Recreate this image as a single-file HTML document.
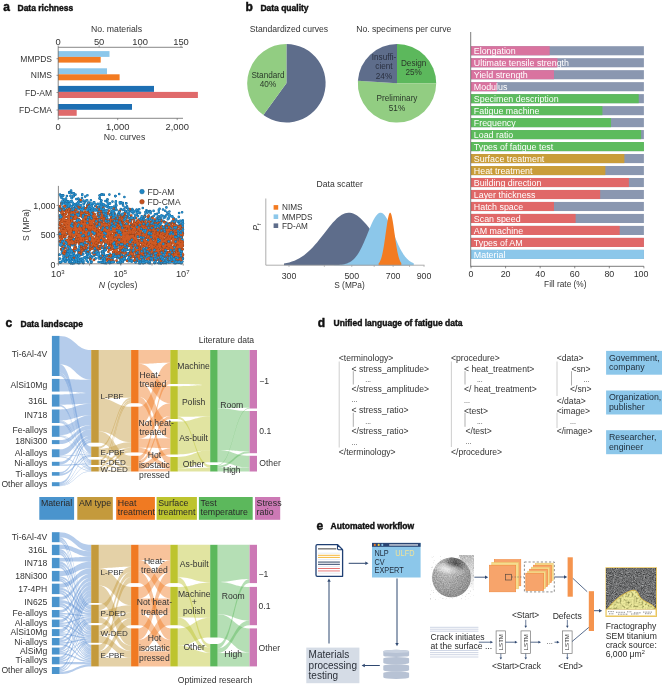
<!DOCTYPE html><html><head><meta charset="utf-8"><title>Fatigue data figure</title><style>html,body{margin:0;padding:0;background:#fff;}body{width:662px;height:685px;overflow:hidden;}svg{display:block;}</style></head><body><svg width="662" height="685" viewBox="0 0 662 685" font-family="'Liberation Sans', Arial, sans-serif"><text x="3.3" y="10.72" font-size="12" fill="#111" font-weight="bold" stroke="#111" stroke-width="0.45">a</text>
<text x="17.5" y="10.56" font-size="8.5" fill="#111" font-weight="bold" stroke="#111" stroke-width="0.4">Data richness</text>
<text x="245.5" y="11.12" font-size="12" fill="#111" font-weight="bold" stroke="#111" stroke-width="0.45">b</text>
<text x="260.4" y="10.56" font-size="8.5" fill="#111" font-weight="bold" stroke="#111" stroke-width="0.4">Data quality</text>
<text x="5.5" y="326.72" font-size="12" fill="#111" font-weight="bold" stroke="#111" stroke-width="0.45">c</text>
<text x="20.5" y="326.56" font-size="8.5" fill="#111" font-weight="bold" stroke="#111" stroke-width="0.4">Data landscape</text>
<text x="317.8" y="326.92" font-size="12" fill="#111" font-weight="bold" stroke="#111" stroke-width="0.45">d</text>
<text x="333.6" y="325.86" font-size="8.5" fill="#111" font-weight="bold" stroke="#111" stroke-width="0.4">Unified language of fatigue data</text>
<text x="316.5" y="530.32" font-size="12" fill="#111" font-weight="bold" stroke="#111" stroke-width="0.45">e</text>
<text x="330.6" y="529.36" font-size="8.5" fill="#111" font-weight="bold" stroke="#111" stroke-width="0.4">Automated workflow</text>
<rect x="58.2" y="51.1" width="51.3" height="5.8" fill="#8cc7ea"/>
<rect x="58.2" y="56.9" width="42.5" height="5.7" fill="#f37b21"/>
<text x="52" y="61.76" font-size="8.5" fill="#333" text-anchor="end">MMPDS</text>
<line x1="56.5" y1="58.7" x2="58.2" y2="58.7" stroke="#555" stroke-width="0.6"/>
<rect x="58.2" y="68.3" width="48.8" height="6" fill="#8cc7ea"/>
<rect x="58.2" y="74.3" width="61.4" height="6" fill="#f37b21"/>
<text x="52" y="78.36" font-size="8.5" fill="#333" text-anchor="end">NIMS</text>
<line x1="56.5" y1="75.3" x2="58.2" y2="75.3" stroke="#555" stroke-width="0.6"/>
<rect x="58.2" y="85.9" width="95.8" height="6" fill="#1d6fb3"/>
<rect x="58.2" y="91.9" width="139.7" height="6.1" fill="#e06a6b"/>
<text x="52" y="95.56" font-size="8.5" fill="#333" text-anchor="end">FD-AM</text>
<line x1="56.5" y1="92.5" x2="58.2" y2="92.5" stroke="#555" stroke-width="0.6"/>
<rect x="58.2" y="104" width="73.8" height="5.8" fill="#1d6fb3"/>
<rect x="58.2" y="109.8" width="18.5" height="6" fill="#e06a6b"/>
<text x="52" y="113.06" font-size="8.5" fill="#333" text-anchor="end">FD-CMA</text>
<line x1="56.5" y1="110" x2="58.2" y2="110" stroke="#555" stroke-width="0.6"/>
<line x1="58.2" y1="47.3" x2="183" y2="47.3" stroke="#555" stroke-width="0.7"/>
<line x1="58.2" y1="47.3" x2="58.2" y2="118.3" stroke="#555" stroke-width="0.7"/>
<line x1="58.2" y1="118.3" x2="183" y2="118.3" stroke="#555" stroke-width="0.7"/>
<line x1="58.2" y1="45.5" x2="58.2" y2="47.3" stroke="#555" stroke-width="0.6"/>
<text x="58.2" y="44.88" font-size="9.4" fill="#333" text-anchor="middle">0</text>
<line x1="99.13" y1="45.5" x2="99.13" y2="47.3" stroke="#555" stroke-width="0.6"/>
<text x="99.13" y="44.88" font-size="9.4" fill="#333" text-anchor="middle">50</text>
<line x1="140.07" y1="45.5" x2="140.07" y2="47.3" stroke="#555" stroke-width="0.6"/>
<text x="140.07" y="44.88" font-size="9.4" fill="#333" text-anchor="middle">100</text>
<line x1="181" y1="45.5" x2="181" y2="47.3" stroke="#555" stroke-width="0.6"/>
<text x="181" y="44.88" font-size="9.4" fill="#333" text-anchor="middle">150</text>
<line x1="58.2" y1="118.3" x2="58.2" y2="120.1" stroke="#555" stroke-width="0.6"/>
<text x="58.2" y="129.68" font-size="9.4" fill="#333" text-anchor="middle">0</text>
<line x1="117.7" y1="118.3" x2="117.7" y2="120.1" stroke="#555" stroke-width="0.6"/>
<text x="117.7" y="129.68" font-size="9.4" fill="#333" text-anchor="middle">1,000</text>
<line x1="177.2" y1="118.3" x2="177.2" y2="120.1" stroke="#555" stroke-width="0.6"/>
<text x="177.2" y="129.68" font-size="9.4" fill="#333" text-anchor="middle">2,000</text>
<text x="116.5" y="32.13" font-size="8.7" fill="#333" text-anchor="middle">No. materials</text>
<text x="124.5" y="139.63" font-size="8.7" fill="#333" text-anchor="middle">No. curves</text>
<path d="M174.5 247.3h0M100.0 248.5h0M174.6 243.1h0M77.5 262.8h0M179.4 261.6h0M104.4 239.8h0M92.8 212.0h0M118.5 225.5h0M122.4 250.4h0M104.0 233.6h0M160.6 222.5h0M151.3 259.0h0M138.5 212.7h0M116.8 232.7h0M66.2 210.0h0M178.6 256.1h0M179.5 249.4h0M154.1 252.7h0M155.7 243.3h0M179.0 223.3h0M112.6 213.0h0M143.0 262.1h0M182.9 258.2h0M94.3 202.4h0M112.8 211.1h0M78.5 248.7h0M140.8 241.3h0M67.5 233.8h0M77.5 203.4h0M147.5 219.4h0M82.1 260.5h0M135.3 214.9h0M176.3 227.0h0M167.7 255.7h0M70.2 215.0h0M144.8 262.7h0M171.1 260.0h0M129.1 212.6h0M116.1 254.8h0M177.9 255.7h0M93.6 252.9h0M102.7 241.5h0M84.9 238.6h0M115.5 225.2h0M172.0 252.5h0M114.2 210.4h0M66.9 229.3h0M88.1 262.1h0M105.9 220.8h0M153.9 242.3h0M117.9 225.3h0M108.8 248.8h0M114.9 256.4h0M98.8 231.3h0M131.7 226.4h0M115.3 209.7h0M127.3 244.3h0M137.8 248.5h0M175.9 228.4h0M136.3 247.1h0M135.4 244.9h0M103.7 255.2h0M147.1 246.6h0M122.7 210.0h0M166.0 250.6h0M142.6 262.3h0M147.3 226.5h0M89.5 240.3h0M166.1 223.7h0M115.0 249.8h0M65.9 254.3h0M75.2 222.7h0M69.4 250.9h0M138.0 251.3h0M68.9 261.9h0M138.0 232.6h0M156.2 259.0h0M85.5 227.7h0M107.3 215.9h0M83.1 232.7h0M105.2 246.5h0M131.7 261.7h0M107.8 203.8h0M182.7 220.2h0M129.2 257.6h0M69.6 202.0h0M109.4 259.6h0M140.3 254.5h0M163.9 263.0h0M154.7 231.9h0M150.6 226.6h0M78.4 259.2h0M70.9 263.1h0M101.6 206.8h0M79.8 223.7h0M101.0 202.4h0M83.2 215.4h0M147.3 227.1h0M160.7 229.0h0M127.7 235.9h0M91.9 257.2h0M75.3 244.9h0M153.7 216.0h0M114.4 215.3h0M122.8 203.1h0M83.7 212.9h0M79.7 241.7h0M167.3 257.8h0M82.1 243.9h0M152.8 221.9h0M86.3 224.4h0M100.9 202.0h0M145.4 254.4h0M150.8 255.9h0M87.3 204.9h0M85.2 236.0h0M159.7 220.5h0M138.5 235.6h0M131.0 226.6h0M123.6 257.5h0M119.4 256.4h0M123.4 209.6h0M119.4 251.8h0M74.8 216.7h0M136.7 209.8h0M79.4 253.0h0M97.6 250.9h0M122.8 257.1h0M105.5 245.8h0M137.0 259.6h0M81.8 207.7h0M82.8 228.1h0M144.8 251.6h0M166.2 223.2h0M149.4 220.0h0M107.8 204.9h0M77.6 219.7h0M114.2 227.2h0M182.2 232.2h0M120.0 214.6h0M68.6 260.3h0M62.7 207.2h0M135.8 260.8h0M106.8 221.4h0M119.4 211.8h0M173.9 260.6h0M97.0 232.0h0M173.8 255.5h0M178.3 262.2h0M98.0 230.1h0M66.8 250.7h0M99.0 258.5h0M143.4 230.4h0M124.7 213.7h0M66.9 196.0h0M143.7 221.8h0M165.1 217.1h0M122.2 258.0h0M128.4 227.8h0M110.1 226.4h0M67.0 255.9h0M82.6 208.4h0M124.5 217.5h0M102.0 206.9h0M72.0 251.2h0M135.6 256.5h0M111.4 211.2h0M148.0 246.8h0M148.9 255.7h0M103.9 253.4h0M86.4 247.8h0M179.6 261.9h0M151.9 228.0h0M167.7 237.4h0M81.1 205.2h0M87.2 200.2h0M173.9 258.5h0M168.9 230.3h0M176.8 243.3h0M82.2 194.9h0M92.8 232.3h0M89.8 246.0h0M171.1 222.7h0M62.8 259.1h0M81.8 210.1h0M154.6 254.4h0M65.8 254.9h0M138.5 212.3h0M155.6 256.0h0M139.8 226.6h0M172.5 237.4h0M152.4 229.6h0M106.7 255.4h0M78.9 228.7h0M161.7 231.8h0M87.4 195.2h0M181.6 251.6h0M146.5 244.3h0M103.1 255.2h0M168.0 228.1h0M174.2 221.7h0M117.3 222.9h0M110.0 220.0h0M64.5 240.2h0M114.3 242.6h0M122.1 214.5h0M120.9 258.5h0M143.2 223.3h0M155.3 261.5h0M78.4 209.1h0M142.0 259.8h0M81.4 224.3h0M158.1 225.9h0M136.8 256.4h0M137.0 243.6h0M160.1 240.5h0M176.7 237.3h0M62.1 251.5h0M155.6 259.9h0M119.5 214.8h0M148.1 240.1h0M71.5 201.5h0M71.9 201.2h0M144.7 258.3h0M113.0 225.5h0M103.6 209.5h0M93.8 202.3h0M110.7 207.7h0M105.7 233.7h0M152.8 224.6h0M159.4 218.2h0M101.1 229.1h0M115.4 196.1h0M68.9 256.7h0M133.0 210.3h0M72.7 202.7h0M155.4 227.2h0M115.9 204.4h0M143.7 257.8h0M145.8 238.0h0M115.9 256.2h0M108.9 222.4h0M120.3 226.0h0M70.6 221.3h0M118.7 232.4h0M102.2 208.1h0M179.7 231.8h0M79.7 255.6h0M102.1 262.4h0M99.5 212.6h0M142.1 220.2h0M174.9 250.0h0M122.3 227.9h0M133.0 260.7h0M62.3 208.6h0M147.1 259.8h0M122.7 260.9h0M114.9 213.7h0M115.5 208.6h0M132.6 245.0h0M130.4 242.1h0M90.0 246.3h0M127.2 222.0h0M146.6 252.5h0M144.6 216.7h0M88.3 253.9h0M60.0 245.1h0M131.9 236.8h0M149.4 232.6h0M137.5 212.9h0M88.6 222.6h0M98.8 253.6h0M161.5 230.6h0M161.8 232.9h0M78.6 252.8h0M83.4 200.6h0M80.5 209.2h0M87.4 244.3h0M87.4 207.5h0M92.8 209.5h0M83.3 245.3h0M76.1 259.9h0M99.2 239.6h0M155.1 226.6h0M154.1 250.3h0M143.1 254.4h0M109.6 207.3h0M73.0 203.6h0M104.2 232.9h0M123.0 220.4h0M177.9 232.6h0M65.3 261.3h0M85.7 250.6h0M101.7 251.9h0M172.9 261.9h0M169.0 237.4h0M157.6 220.6h0M97.7 213.5h0M137.4 222.3h0M119.0 219.3h0M114.5 220.9h0M181.4 263.1h0M103.3 260.4h0M173.2 237.6h0M69.9 256.4h0M122.3 216.0h0M137.6 258.2h0M70.6 201.3h0M179.1 262.2h0M110.8 246.1h0M162.6 232.0h0M113.3 222.1h0M86.9 256.4h0M147.1 227.7h0M107.3 213.3h0M93.5 219.5h0M82.1 210.2h0M76.4 261.8h0M165.2 210.7h0M120.4 232.0h0M73.1 214.9h0M181.5 244.1h0M147.1 248.7h0M91.6 261.7h0M160.8 257.1h0M100.2 215.2h0M125.7 233.2h0M68.9 256.3h0M99.5 220.2h0M81.2 202.0h0M114.8 213.5h0M141.5 220.9h0M173.4 259.7h0M180.2 220.7h0M87.6 255.3h0M160.6 228.4h0M143.5 248.7h0M128.0 227.2h0M153.6 221.2h0M97.2 238.9h0M111.7 262.3h0M123.5 222.3h0M86.7 260.7h0M152.7 257.8h0M175.2 236.9h0M113.2 237.5h0M86.4 259.2h0M166.1 245.7h0M104.9 260.0h0M66.1 228.2h0M126.9 244.8h0M82.5 249.3h0M73.7 253.2h0M137.1 243.3h0M143.8 258.3h0M91.5 207.5h0M179.8 250.9h0M141.1 223.0h0M78.6 208.7h0M71.0 260.5h0M158.3 257.7h0M103.4 260.3h0M108.3 259.6h0M80.5 258.7h0M124.7 258.4h0M143.2 226.0h0M118.1 213.8h0M67.4 204.1h0M73.7 239.3h0M154.5 252.8h0M137.0 215.2h0M161.1 223.4h0M141.3 228.7h0M170.4 262.3h0M111.1 255.9h0M117.7 238.8h0M81.4 225.9h0M84.1 251.1h0M169.4 211.5h0M181.8 261.4h0M141.0 257.2h0M137.6 210.8h0M181.2 263.2h0M107.4 258.8h0M125.6 211.1h0M72.8 253.8h0M75.9 247.1h0M67.2 206.1h0M140.9 237.4h0M135.1 260.2h0M67.2 226.9h0M102.3 223.7h0M137.8 236.6h0M148.2 226.6h0M115.0 252.9h0M114.1 211.0h0M78.3 215.7h0M86.8 250.2h0M113.4 261.5h0M175.7 254.4h0M112.4 261.8h0M78.9 238.0h0M101.8 255.2h0M137.0 251.6h0M107.4 199.6h0M156.2 229.3h0M169.5 246.4h0M83.9 244.6h0M142.0 257.5h0M84.1 257.6h0M124.4 197.0h0M149.8 224.0h0M159.8 240.5h0M177.5 234.6h0M150.8 255.1h0M136.2 255.8h0M182.8 226.2h0M105.7 242.4h0M146.3 234.2h0M181.8 239.4h0M158.0 230.1h0M122.9 252.8h0M122.0 240.3h0M169.8 214.7h0M164.9 252.8h0M66.6 207.7h0M118.8 256.9h0M101.9 258.1h0M102.5 258.6h0M157.2 222.1h0M134.3 261.0h0M124.1 238.6h0M129.9 241.8h0M86.0 227.5h0M160.2 261.4h0M175.5 263.1h0M178.0 230.8h0M63.4 199.0h0M156.8 229.2h0M75.1 231.3h0M112.7 218.0h0M86.7 258.4h0M82.3 253.6h0M158.5 236.7h0M137.0 227.1h0M100.8 209.0h0M100.8 262.2h0M84.5 212.6h0M123.3 258.9h0M83.0 233.3h0M148.4 240.3h0M112.4 207.5h0M141.4 218.7h0M177.6 236.8h0M97.3 232.5h0M101.2 218.3h0M173.0 234.0h0M131.9 252.2h0M91.7 205.8h0M137.4 257.5h0M99.5 213.6h0M63.2 216.1h0M120.5 249.5h0M152.1 225.3h0M176.6 261.8h0M160.6 263.3h0M164.6 242.0h0M106.1 210.3h0M175.6 241.6h0M99.7 211.5h0M67.2 251.4h0M70.5 250.1h0M76.6 207.6h0M69.7 192.8h0M159.1 224.2h0M132.3 209.0h0M103.8 213.4h0M145.1 216.2h0M147.5 234.3h0M168.9 262.3h0M62.6 248.8h0M137.8 233.1h0M127.0 206.4h0M156.8 217.8h0M116.9 220.9h0M61.0 211.5h0M137.0 253.8h0M132.6 212.6h0M107.4 228.1h0M60.3 219.2h0M174.4 263.1h0M70.5 209.2h0M102.9 209.7h0M92.7 247.4h0M176.7 256.5h0M103.8 215.6h0M69.1 203.5h0M66.8 255.0h0M150.7 255.2h0M121.7 249.5h0M68.5 254.7h0M157.4 259.2h0M172.3 216.3h0M97.5 230.3h0M154.6 249.8h0M128.3 254.1h0M74.4 249.6h0M180.4 261.8h0M116.2 205.5h0M109.6 203.7h0M123.7 248.2h0M180.9 233.2h0M83.3 263.0h0M120.1 220.3h0M173.6 236.2h0M120.6 226.1h0M171.4 256.3h0M159.9 226.3h0M179.4 262.8h0M64.8 200.1h0M167.4 261.7h0M73.1 245.2h0M99.4 204.1h0M179.4 226.0h0M69.4 247.3h0M101.9 221.2h0M89.4 202.7h0M171.0 216.1h0M120.5 224.0h0M127.2 225.3h0M91.6 212.6h0M162.2 220.9h0M120.4 261.8h0M100.9 212.9h0M66.0 198.5h0M78.6 260.5h0M109.0 261.8h0M67.7 259.8h0M90.2 203.9h0M138.2 239.7h0M163.5 260.2h0M146.8 227.8h0M130.0 209.7h0M180.9 234.1h0M115.9 223.7h0M99.8 205.2h0M89.7 250.6h0M88.6 235.9h0M178.2 235.3h0M71.1 222.0h0M159.9 260.8h0M151.3 250.1h0M102.6 251.4h0M121.2 221.9h0M89.4 233.5h0M147.3 233.4h0M163.2 254.6h0M169.6 243.0h0M68.8 237.3h0M111.9 255.3h0M78.5 201.9h0M123.8 242.9h0M133.2 249.9h0M133.5 218.9h0M182.8 258.8h0M89.3 242.8h0M179.1 213.0h0M182.5 240.0h0M109.1 247.7h0M169.1 241.1h0M165.3 225.5h0M97.9 203.8h0M70.4 259.1h0M118.8 232.3h0M140.0 212.7h0M138.8 252.6h0M126.8 249.9h0M156.0 248.6h0M170.0 247.9h0M153.2 233.8h0M91.7 207.2h0M79.7 205.1h0M119.2 194.0h0M123.0 261.7h0M98.4 207.0h0M59.6 207.9h0M65.5 207.1h0M100.7 238.4h0M133.2 210.9h0M93.6 215.1h0M90.7 236.0h0M108.6 261.1h0M169.5 257.7h0M155.5 223.4h0M117.7 223.1h0M117.5 215.6h0M114.8 245.9h0M111.8 228.9h0M99.0 255.4h0M112.3 258.4h0M78.3 198.8h0M97.4 254.1h0M177.0 257.4h0M139.2 209.3h0M81.0 232.8h0M133.0 255.0h0M128.4 222.0h0M63.8 216.8h0M114.0 217.2h0M121.3 234.2h0M107.0 228.9h0M181.2 261.6h0M141.8 240.5h0M102.8 262.6h0M109.3 236.0h0M75.1 250.6h0M103.1 227.9h0M110.0 203.4h0M63.9 248.2h0M152.9 234.5h0M158.6 263.0h0M117.8 243.1h0M120.0 203.4h0M62.7 202.8h0M89.8 239.6h0M177.9 231.1h0M143.2 263.2h0M67.8 240.0h0M125.9 216.6h0M142.3 252.1h0M179.0 237.6h0M139.9 213.1h0M85.0 202.1h0M76.5 215.8h0M178.6 255.7h0M127.8 217.3h0M145.7 230.0h0M160.7 218.1h0M104.1 261.9h0M113.3 215.2h0M66.6 243.6h0M157.9 220.0h0M175.4 240.8h0M167.3 243.6h0M119.9 222.1h0M130.1 251.6h0M127.7 243.5h0M77.9 254.6h0M145.6 230.6h0M155.4 241.3h0M72.3 214.7h0M68.5 219.1h0M74.1 261.5h0M83.6 203.8h0M118.2 215.5h0M134.8 217.6h0M153.3 220.8h0M119.9 254.3h0M135.0 243.2h0M129.9 225.7h0M146.7 256.8h0M136.6 258.3h0M111.0 220.8h0M108.6 207.6h0M161.4 263.1h0M78.0 207.5h0M61.8 234.3h0M109.4 194.6h0M151.2 233.7h0M163.3 255.1h0M85.2 196.6h0M71.9 198.2h0M115.8 208.4h0M163.9 221.4h0M68.0 201.3h0M100.7 236.8h0M151.5 255.3h0M100.1 258.6h0M141.7 216.4h0M110.4 255.6h0M114.5 245.7h0M110.9 213.4h0M171.4 229.1h0M90.9 207.9h0M156.6 221.2h0M177.8 237.6h0M100.6 246.0h0M112.4 259.8h0M126.2 203.3h0M89.5 215.6h0M148.6 225.7h0M72.6 217.9h0M113.4 243.7h0M69.5 192.0h0M124.6 251.2h0M150.9 227.7h0M90.3 211.9h0M78.5 204.2h0M119.4 221.9h0M94.4 259.6h0M164.7 231.5h0M120.6 260.1h0M89.8 254.1h0M81.0 254.0h0M63.7 203.0h0M170.8 256.2h0M105.7 242.7h0M113.2 216.7h0M69.4 204.8h0M96.5 252.8h0M65.2 256.2h0M142.0 234.6h0M165.0 262.4h0M155.0 259.4h0M180.4 262.7h0M78.6 262.6h0M68.3 205.7h0M109.1 221.7h0M150.0 259.8h0M151.2 260.0h0M89.0 232.9h0M173.0 252.4h0M105.8 214.0h0M109.0 255.0h0M164.3 229.6h0M119.9 231.4h0M74.6 210.0h0M141.1 256.0h0M88.8 206.8h0M129.2 253.1h0M124.6 226.4h0M180.7 261.6h0M180.9 253.5h0M70.0 251.2h0M110.4 259.5h0M110.1 256.4h0M84.9 242.6h0M140.5 219.6h0M144.4 242.1h0M117.4 258.3h0M152.4 222.6h0M131.0 217.0h0M60.7 236.2h0M143.6 256.8h0M137.9 216.0h0M121.5 229.5h0M133.0 213.3h0M113.3 221.9h0M96.2 221.2h0M115.7 202.2h0M76.2 259.4h0M91.8 247.6h0M124.0 219.9h0M180.1 253.2h0M78.0 205.6h0M148.5 263.0h0M147.4 211.0h0M179.4 252.5h0M124.9 259.6h0M79.4 213.4h0M113.1 257.4h0M128.2 235.2h0M157.4 219.8h0M71.3 262.8h0M125.9 255.5h0M113.5 254.9h0M103.6 217.5h0M175.6 258.4h0M151.0 258.7h0M120.7 246.2h0M176.5 249.2h0M158.8 212.4h0M148.6 227.9h0M152.4 260.1h0M153.8 243.3h0M98.7 252.6h0M104.5 258.8h0M178.8 216.9h0M153.6 233.3h0M149.4 217.4h0M118.8 214.4h0M147.9 222.5h0M89.8 247.4h0M72.8 203.1h0M106.8 217.9h0M80.8 211.4h0M97.0 248.7h0M95.0 242.6h0M89.8 238.0h0M76.3 240.4h0M116.0 215.5h0M75.8 257.5h0M65.4 261.7h0M63.3 201.6h0M83.8 208.9h0M175.5 237.9h0M151.1 237.1h0M162.5 221.0h0M137.0 242.1h0M107.5 210.2h0M69.6 258.0h0M61.4 210.2h0M167.3 259.0h0M181.9 262.1h0M78.4 262.6h0M83.5 260.9h0M159.0 237.5h0M76.4 237.2h0M81.0 259.5h0M95.7 258.4h0M137.2 224.3h0M82.3 241.8h0M73.6 193.3h0M182.0 256.5h0M178.0 248.0h0M93.5 210.0h0M147.5 251.5h0M177.2 248.7h0M182.1 244.6h0M129.9 235.1h0M102.6 253.3h0M164.5 229.5h0M85.3 242.0h0M93.5 224.2h0M182.9 229.2h0M73.1 203.8h0M124.2 213.2h0M152.4 251.6h0M60.3 215.2h0M110.6 260.6h0M118.7 245.0h0M134.3 235.2h0M73.2 208.8h0M123.1 205.4h0M113.8 214.6h0M115.8 236.8h0M182.2 223.9h0M120.6 256.9h0M123.8 218.7h0M105.4 201.0h0M113.1 212.9h0M177.1 259.9h0M161.5 215.2h0M166.6 232.3h0M65.8 203.7h0M128.3 261.2h0M175.8 252.0h0M144.3 262.1h0M82.9 217.1h0M80.7 251.3h0M73.0 254.8h0M163.7 217.8h0M98.9 217.1h0M109.2 244.3h0M135.3 258.4h0M138.2 250.5h0M79.1 255.0h0M76.3 255.6h0M115.1 218.3h0M154.8 260.9h0M60.0 233.9h0M180.2 259.6h0M133.9 251.2h0M90.2 226.1h0M97.5 251.5h0M90.2 259.7h0M181.8 249.8h0M167.9 248.1h0M178.5 233.2h0M149.0 251.2h0M97.0 221.8h0M98.6 255.7h0M77.0 214.2h0M174.5 261.7h0M83.3 228.7h0M168.7 218.5h0M100.8 256.2h0M131.7 218.1h0M103.7 232.2h0M126.8 221.1h0M131.8 211.5h0M147.8 242.6h0M133.7 224.2h0M182.0 236.3h0M80.8 244.1h0M104.2 263.0h0M85.6 214.3h0M169.2 259.8h0M145.8 261.5h0M98.1 215.4h0M94.7 250.5h0M72.3 220.1h0M71.1 225.6h0M162.5 254.8h0M75.3 204.0h0M179.7 225.6h0M74.4 255.7h0M160.1 261.8h0M83.8 242.4h0M120.8 209.0h0M86.2 229.5h0M159.2 219.5h0M90.9 200.2h0M174.9 236.7h0M61.0 195.4h0M138.4 212.2h0M181.3 261.3h0M116.8 228.5h0M59.4 254.7h0M162.1 259.7h0M95.2 221.0h0M71.7 239.1h0M147.4 212.4h0M97.2 254.1h0M150.9 252.9h0M66.0 200.6h0M169.3 254.4h0M82.0 258.5h0M102.4 252.5h0M174.2 231.9h0M180.9 233.0h0M106.3 210.8h0M139.2 262.0h0M155.0 214.2h0M106.9 227.5h0M140.6 241.0h0M79.2 212.8h0M130.1 257.8h0M71.0 250.9h0M70.2 238.8h0M152.0 219.7h0M60.0 224.7h0M88.5 234.5h0M146.5 228.1h0M164.0 216.9h0M66.2 200.3h0M144.9 232.2h0M179.5 255.9h0M176.4 225.5h0M156.9 230.0h0M101.7 194.4h0M60.8 196.6h0M76.5 225.3h0M159.7 223.8h0M60.2 210.2h0M83.3 247.8h0M70.5 195.9h0M90.8 213.5h0M83.1 254.1h0M95.7 209.7h0M144.4 255.1h0M75.4 256.0h0M105.7 244.6h0M95.6 253.6h0M103.4 211.4h0M149.1 217.5h0M163.1 227.2h0M110.4 215.4h0M140.6 219.2h0M162.3 259.5h0M131.1 260.3h0M155.7 250.5h0M60.3 222.3h0M78.9 254.9h0M156.0 224.7h0M127.1 212.5h0M153.1 232.6h0M131.5 241.7h0M113.0 215.4h0M59.6 258.9h0M91.1 243.2h0M126.8 224.8h0M158.2 241.7h0M174.9 223.3h0M155.0 220.7h0M96.6 252.9h0M111.9 223.4h0M121.4 254.7h0M106.2 259.8h0M72.0 210.1h0M92.5 208.1h0M173.8 250.4h0M176.9 248.0h0M79.3 250.6h0M149.4 253.0h0M119.7 261.9h0M176.1 219.5h0M92.3 214.1h0M73.8 232.4h0M102.3 209.7h0M99.0 258.0h0M81.0 250.8h0M63.1 195.4h0M88.6 247.9h0M152.4 239.2h0M96.5 234.1h0M78.6 256.3h0M67.0 210.0h0M93.7 255.9h0M98.9 232.0h0M105.8 220.9h0M91.8 217.3h0M81.5 250.2h0M107.5 218.5h0M166.8 227.6h0M177.5 221.6h0M65.1 237.8h0M149.9 211.1h0M96.9 226.4h0M182.5 230.5h0M60.1 244.3h0M126.2 236.8h0M105.4 214.7h0M63.9 215.3h0M142.8 208.0h0M112.5 213.3h0M162.7 257.6h0M151.0 237.8h0M115.0 231.2h0M163.0 253.5h0M174.1 250.3h0M151.1 240.5h0M140.3 263.3h0M166.6 224.1h0M94.3 209.0h0M76.9 203.9h0M170.7 226.8h0M162.1 247.3h0M143.4 237.8h0M62.6 226.9h0M82.3 194.3h0M84.6 221.1h0M150.4 211.6h0M158.5 248.7h0M98.8 214.4h0M128.7 244.7h0M134.8 217.9h0M61.3 243.0h0M124.8 257.0h0M131.3 228.5h0M163.3 243.9h0M90.1 204.4h0M65.6 260.3h0M130.9 239.3h0M175.3 262.2h0M145.4 212.1h0M97.7 229.3h0M83.8 206.7h0M72.2 193.0h0M71.1 227.2h0M182.1 212.3h0M61.9 261.3h0M168.7 241.5h0M142.1 234.4h0M135.9 238.9h0M169.2 223.7h0M60.7 262.2h0M176.4 254.0h0M88.3 218.2h0M103.4 220.7h0M78.6 224.6h0M171.8 226.9h0M95.5 254.9h0M168.2 229.6h0M67.1 204.0h0M87.6 209.9h0M124.0 214.3h0M98.6 258.0h0M174.3 227.5h0M175.2 232.3h0M167.8 219.3h0M147.8 223.6h0M114.9 226.4h0M70.6 195.9h0M113.9 223.0h0M161.0 261.7h0M101.2 240.3h0M95.0 206.0h0M65.3 252.1h0M176.7 257.8h0M65.8 242.3h0M178.6 262.3h0M79.5 205.5h0M75.4 258.9h0M182.7 221.5h0M168.1 258.0h0M64.2 202.8h0M91.2 234.6h0M68.6 206.3h0M180.7 260.2h0M178.7 259.8h0M61.4 202.8h0M99.7 198.4h0M61.9 201.9h0M131.0 256.3h0M166.6 222.7h0M147.9 255.7h0M149.8 218.7h0M130.1 235.7h0M161.7 240.6h0M96.1 252.2h0M76.1 242.0h0M70.6 215.6h0M71.8 232.4h0M139.8 225.0h0M172.2 229.9h0M173.6 218.0h0M72.7 254.5h0M72.2 223.5h0M175.7 227.2h0M154.1 235.6h0M162.4 226.3h0M89.8 210.9h0M97.9 246.8h0M163.7 254.6h0M159.3 231.2h0M61.9 204.2h0M87.7 251.4h0M105.8 249.9h0M159.8 247.8h0M74.2 263.0h0M69.6 262.5h0M147.2 256.2h0M97.9 210.2h0M108.5 221.3h0M114.3 227.4h0M170.1 258.3h0M111.2 238.6h0M71.2 218.0h0M69.9 238.9h0M171.2 233.5h0M142.9 220.1h0M88.6 202.9h0M91.5 221.3h0M140.8 232.8h0M63.3 210.3h0M73.7 208.6h0M74.9 216.5h0M139.9 262.4h0M157.7 244.3h0M172.0 257.8h0M131.2 224.0h0M162.6 235.0h0M82.0 240.4h0M119.1 239.8h0M63.0 260.7h0M172.5 216.8h0M172.6 261.1h0M73.4 196.2h0M101.7 235.8h0M71.1 245.0h0M168.6 217.7h0M91.2 262.4h0M86.1 209.0h0M167.9 229.9h0M158.3 237.6h0M128.2 209.4h0M171.2 235.6h0M136.3 248.6h0M169.8 255.4h0M148.7 233.4h0M127.7 215.1h0M91.7 213.2h0M73.7 252.5h0M75.5 206.7h0M175.6 255.1h0M103.3 213.8h0M71.5 198.1h0M110.9 229.3h0M84.2 230.7h0M127.3 260.3h0M82.0 198.0h0M177.7 258.1h0M124.6 216.7h0M160.6 216.1h0M111.3 246.5h0M154.9 253.7h0M170.5 247.9h0M80.2 229.0h0M85.4 215.4h0M175.9 227.8h0M130.8 219.2h0M81.6 238.9h0M81.3 212.4h0M101.3 200.5h0M129.9 241.1h0M105.1 232.8h0M95.9 204.6h0M67.9 253.7h0M163.1 220.8h0M131.8 257.1h0M86.1 209.3h0M131.8 239.8h0M167.2 257.8h0M109.1 244.3h0M139.6 221.7h0M143.6 223.9h0M105.2 217.2h0M102.1 221.4h0M103.2 206.0h0M88.4 217.4h0M90.3 236.9h0M59.8 241.4h0M154.0 224.0h0M143.0 259.7h0M111.2 217.5h0M81.4 246.9h0M122.5 213.8h0M69.2 204.7h0M155.3 262.7h0M115.2 255.6h0M179.4 225.9h0M82.5 236.1h0M170.0 234.6h0M142.0 260.8h0M124.7 225.0h0M113.4 214.7h0M162.4 241.0h0M121.3 203.2h0M113.6 249.0h0M102.2 247.8h0M71.8 208.9h0M178.1 239.5h0M95.7 223.7h0M74.3 205.2h0M106.6 215.1h0M78.2 258.5h0M134.3 226.4h0M115.0 247.9h0M124.2 213.4h0M88.1 226.2h0M135.7 211.2h0M165.5 250.0h0M113.1 253.3h0M152.5 254.5h0M79.3 246.4h0M178.7 235.9h0M114.0 206.5h0M171.3 256.4h0M81.1 210.3h0M110.6 214.8h0M159.4 260.0h0M88.5 218.1h0M62.1 244.3h0M69.2 192.5h0M152.4 259.6h0M84.6 220.1h0M117.8 254.2h0M113.1 210.5h0M171.0 253.3h0M164.2 256.5h0M85.1 214.3h0M143.8 230.6h0M143.0 221.1h0M102.4 215.3h0M98.6 222.8h0M163.0 257.7h0M66.8 205.6h0M95.1 250.0h0M144.0 260.6h0M117.5 218.1h0M150.6 213.2h0M71.5 256.4h0M166.2 261.5h0M99.5 225.0h0M107.3 210.1h0M118.9 212.1h0M139.4 219.1h0M104.4 261.2h0M122.3 253.3h0M83.8 204.0h0M180.2 236.6h0M125.0 249.9h0M164.2 240.8h0M91.1 258.3h0M95.1 210.4h0M136.9 258.9h0M169.4 216.2h0M84.9 250.4h0M158.3 235.4h0M104.2 262.4h0M157.7 223.8h0M136.3 254.0h0M172.4 221.2h0M66.6 201.3h0M180.4 229.1h0M74.2 226.2h0M111.6 207.3h0M155.1 226.9h0M149.4 221.0h0M81.9 250.5h0M182.4 261.5h0M87.4 223.1h0M137.4 240.7h0M100.4 258.6h0M135.7 224.8h0M78.7 214.5h0M72.7 253.1h0M159.3 261.6h0M144.8 224.2h0M121.1 234.8h0M89.6 247.0h0M69.5 258.1h0M78.8 263.2h0M120.8 244.3h0M108.8 242.9h0M155.7 260.4h0M105.9 226.8h0M127.7 253.7h0M87.0 208.3h0M178.0 250.4h0M86.2 229.3h0M68.1 246.4h0M147.5 228.3h0M168.7 259.4h0M87.4 212.6h0M94.5 233.2h0M130.6 240.8h0M104.0 241.3h0M114.2 225.4h0M161.0 256.0h0M166.5 261.9h0M146.4 210.4h0M121.6 250.7h0M103.6 254.1h0M166.0 262.0h0M160.4 257.9h0M91.4 203.5h0M140.6 262.1h0M64.7 258.3h0M153.6 210.9h0M109.5 257.5h0M104.5 236.5h0M118.1 225.4h0M139.5 262.3h0M180.5 223.6h0M136.9 247.8h0M115.9 218.5h0M63.3 244.6h0M157.4 255.3h0M127.0 247.1h0M140.8 218.8h0M83.1 258.9h0M60.0 194.6h0M154.9 258.2h0M104.6 234.6h0M139.8 260.8h0M62.8 210.0h0M147.0 261.2h0M124.9 207.5h0M120.8 253.6h0M140.4 262.6h0M104.3 262.7h0M165.1 225.9h0M116.2 205.2h0M89.6 253.3h0M149.8 261.3h0M103.9 249.0h0M60.0 262.4h0M107.8 205.8h0M94.8 248.4h0M144.6 245.6h0M131.2 260.0h0M120.6 263.1h0M120.4 232.5h0M103.5 208.7h0M89.3 208.9h0M166.3 225.1h0M146.5 248.1h0M182.3 239.3h0M74.8 245.6h0M113.9 231.6h0M90.8 216.8h0M109.1 262.6h0M105.1 211.7h0M102.9 214.3h0M181.1 237.2h0M143.1 216.8h0M152.9 227.1h0M120.7 253.8h0M99.3 223.9h0M166.4 207.4h0M61.2 245.7h0M120.0 258.8h0M144.8 250.3h0M118.2 262.5h0M70.3 211.8h0M86.0 227.6h0M131.5 217.5h0M166.3 215.3h0M134.1 211.7h0M97.8 251.4h0M81.5 244.3h0M182.7 231.6h0M179.4 221.1h0M177.7 226.2h0M61.4 216.7h0M154.6 250.2h0M156.8 225.3h0M158.3 243.7h0M77.7 226.2h0M141.1 218.2h0M77.3 206.3h0M128.4 240.5h0M94.1 233.8h0M139.3 254.7h0M164.2 230.7h0M178.3 262.8h0M182.9 223.4h0M65.2 238.0h0M129.4 245.8h0M115.5 231.2h0M73.8 196.1h0M158.4 216.4h0M143.3 249.4h0M151.2 230.8h0M132.3 218.1h0M90.3 213.3h0M131.5 250.6h0M128.9 256.2h0M79.4 220.2h0M129.1 213.6h0M99.9 203.9h0M86.5 200.4h0M63.7 256.7h0M119.8 202.2h0M164.6 231.6h0M118.3 229.5h0M174.5 259.8h0M162.7 250.9h0M171.9 234.7h0M63.3 202.2h0M121.0 202.6h0M90.5 210.8h0M145.3 244.3h0M61.9 252.6h0M77.0 221.1h0M62.6 254.3h0M89.1 257.8h0M127.1 243.5h0M91.2 213.8h0M158.7 236.4h0M90.2 256.9h0M75.8 209.0h0M67.9 251.3h0M70.6 240.2h0M163.4 216.0h0M171.7 259.6h0M87.6 219.6h0M60.6 262.6h0M69.3 252.4h0M170.1 238.5h0M73.1 209.8h0M174.3 219.4h0M178.7 258.2h0M106.2 263.2h0M138.8 260.8h0M167.1 212.5h0M139.0 258.5h0M100.1 232.0h0M63.8 209.4h0M62.0 214.1h0M118.0 242.8h0M171.9 233.5h0M117.0 230.5h0M159.3 220.8h0M75.4 210.7h0M140.1 223.6h0M128.4 259.1h0M129.7 210.5h0M147.6 221.1h0M161.9 262.6h0M169.9 234.0h0M135.4 250.2h0M114.1 242.5h0M117.3 262.2h0M118.2 255.8h0M130.1 253.3h0M128.5 258.6h0M147.1 224.3h0M169.5 259.2h0M67.5 249.5h0M103.6 204.2h0M160.2 243.6h0M144.1 219.6h0M117.9 262.6h0M141.5 251.8h0M129.7 236.9h0M91.5 218.5h0M72.7 258.9h0M111.1 213.9h0M174.5 226.5h0M171.3 232.4h0M101.1 223.6h0M178.2 261.1h0M81.7 254.8h0M99.7 195.5h0M60.6 244.2h0M181.6 231.6h0M71.5 215.9h0M111.3 226.8h0M144.8 241.6h0M123.4 259.6h0M99.5 209.9h0M159.1 263.0h0M65.7 258.0h0M97.6 254.7h0M121.1 224.1h0M82.4 209.2h0M146.3 260.6h0M116.6 209.9h0M105.4 213.2h0M101.8 230.0h0M92.8 208.7h0M171.1 257.7h0M115.3 224.8h0M142.9 260.7h0M89.2 205.1h0M80.6 262.2h0M101.2 261.8h0M101.9 203.9h0M113.2 228.3h0M115.8 254.4h0M98.9 254.0h0M159.1 218.2h0M76.1 261.7h0M102.0 215.3h0M159.0 228.6h0M121.3 225.1h0M165.0 245.3h0M65.5 257.0h0M111.6 244.0h0M169.1 224.7h0M109.9 253.9h0M98.6 262.0h0M100.6 206.8h0M62.3 241.4h0M176.3 259.3h0M172.2 254.8h0M180.8 259.1h0M73.6 259.9h0M152.1 217.0h0M105.1 205.6h0M79.4 262.7h0M116.0 235.1h0M147.8 241.1h0M170.3 225.2h0M62.0 201.5h0M60.4 217.4h0M96.2 236.4h0M86.3 253.0h0M68.9 206.9h0M83.6 235.3h0M145.8 229.1h0M80.4 225.4h0M79.3 200.3h0M159.6 224.3h0M61.5 249.7h0M142.6 251.5h0M124.9 258.7h0M181.0 255.6h0M138.9 263.1h0M67.1 240.8h0M136.3 248.6h0M70.1 248.9h0M129.1 256.7h0M123.3 215.9h0M62.5 217.6h0M170.9 250.0h0M61.6 198.0h0M99.5 215.6h0M168.8 262.5h0M161.6 252.6h0M71.0 258.1h0M101.5 211.7h0M86.4 231.2h0M156.8 214.0h0M135.3 262.3h0M87.3 254.2h0M78.7 249.2h0M85.0 257.2h0M150.0 263.3h0M110.7 208.4h0M107.4 201.9h0M77.7 250.2h0M157.3 252.5h0M175.6 228.6h0M80.7 206.6h0M166.0 258.8h0M69.1 258.8h0M112.5 201.6h0M153.1 259.0h0M125.3 218.7h0M123.4 214.2h0M137.0 221.8h0M63.0 219.4h0M164.1 255.1h0M182.9 233.3h0M117.7 229.0h0M165.6 239.2h0M126.5 223.7h0M71.1 206.5h0M59.8 258.5h0M77.7 257.4h0M113.6 261.9h0M180.9 224.6h0M142.0 222.0h0M137.7 260.8h0M103.8 194.8h0M73.2 256.3h0M160.7 219.1h0M175.8 263.1h0M122.3 244.3h0M99.3 210.8h0M174.0 220.7h0M123.2 256.0h0M154.6 262.9h0M90.9 256.1h0M158.8 209.9h0M93.1 203.8h0M131.0 218.1h0M129.1 218.3h0M160.1 218.4h0M154.1 230.9h0M156.1 253.2h0M176.5 260.4h0M163.8 234.5h0M132.8 254.8h0M129.6 250.0h0M168.6 214.3h0M150.4 235.4h0M176.4 236.6h0M108.5 207.3h0M165.9 242.0h0M122.5 233.4h0M92.2 209.0h0M147.0 225.1h0M158.9 258.9h0M122.2 225.3h0M147.2 228.2h0M105.2 249.3h0M65.8 213.6h0M130.1 260.9h0M180.0 237.4h0M151.4 223.5h0M69.8 257.8h0M152.2 225.4h0M99.4 248.7h0M72.7 263.3h0M176.9 248.6h0M166.1 263.1h0M65.6 205.6h0M97.3 209.5h0M105.4 211.5h0M118.0 242.0h0M165.6 257.7h0M176.0 257.3h0M125.1 210.7h0M63.8 253.5h0M160.1 256.2h0M137.3 212.5h0M143.3 218.1h0M89.6 232.9h0M89.4 227.9h0M72.3 226.5h0M135.6 262.4h0M78.5 252.3h0M133.1 247.1h0M121.6 254.8h0M76.3 199.1h0M71.1 190.6h0M159.0 235.6h0M125.0 245.7h0M169.4 237.8h0M92.0 209.7h0M108.0 262.0h0M103.4 208.8h0M115.9 201.2h0M62.2 195.5h0M161.4 231.7h0M117.1 247.3h0M104.4 251.0h0M129.0 215.1h0M122.1 249.7h0M166.2 260.5h0M140.5 247.0h0M145.1 214.5h0M74.5 255.8h0M119.1 230.8h0M151.8 253.3h0M62.4 253.6h0M136.8 221.1h0M130.0 220.9h0M180.1 262.6h0M159.6 208.8h0M106.5 206.6h0M136.6 253.1h0M90.4 204.7h0M164.3 228.0h0M101.2 258.2h0M148.0 223.7h0M97.5 210.7h0M65.7 253.4h0M112.7 220.1h0M91.5 214.3h0M150.5 211.9h0M98.8 255.2h0M150.7 258.6h0M141.7 251.3h0M158.1 239.5h0M170.5 223.9h0M63.1 261.1h0M87.7 253.5h0M147.7 244.0h0M121.1 216.3h0M126.8 216.7h0M158.2 239.3h0M122.7 222.3h0M109.9 248.1h0M109.8 263.1h0M92.4 231.8h0M71.9 206.1h0M174.4 248.4h0M115.1 223.8h0M65.1 246.1h0M98.8 246.0h0M103.6 255.7h0M179.1 251.3h0M76.3 256.8h0M163.0 209.5h0M88.4 217.0h0M91.6 211.7h0M114.6 226.6h0M155.0 262.0h0M134.5 256.7h0M70.1 253.5h0M127.2 207.7h0M119.5 242.2h0M145.0 257.5h0M128.6 230.6h0M104.7 256.5h0M75.5 194.6h0M100.6 256.8h0M87.1 255.6h0M121.5 260.0h0M132.6 218.9h0M70.8 261.5h0M181.4 225.6h0M161.8 259.0h0M77.5 209.3h0M78.3 215.2h0" stroke="#16699f" stroke-width="2.6" stroke-linecap="round" fill="none"/>
<path d="M174.5 247.3h0M100.0 248.5h0M174.6 243.1h0M77.5 262.8h0M179.4 261.6h0M104.4 239.8h0M92.8 212.0h0M118.5 225.5h0M122.4 250.4h0M104.0 233.6h0M160.6 222.5h0M151.3 259.0h0M138.5 212.7h0M116.8 232.7h0M66.2 210.0h0M178.6 256.1h0M179.5 249.4h0M154.1 252.7h0M155.7 243.3h0M179.0 223.3h0M112.6 213.0h0M143.0 262.1h0M182.9 258.2h0M94.3 202.4h0M112.8 211.1h0M78.5 248.7h0M140.8 241.3h0M67.5 233.8h0M77.5 203.4h0M147.5 219.4h0M82.1 260.5h0M135.3 214.9h0M176.3 227.0h0M167.7 255.7h0M70.2 215.0h0M144.8 262.7h0M171.1 260.0h0M129.1 212.6h0M116.1 254.8h0M177.9 255.7h0M93.6 252.9h0M102.7 241.5h0M84.9 238.6h0M115.5 225.2h0M172.0 252.5h0M114.2 210.4h0M66.9 229.3h0M88.1 262.1h0M105.9 220.8h0M153.9 242.3h0M117.9 225.3h0M108.8 248.8h0M114.9 256.4h0M98.8 231.3h0M131.7 226.4h0M115.3 209.7h0M127.3 244.3h0M137.8 248.5h0M175.9 228.4h0M136.3 247.1h0M135.4 244.9h0M103.7 255.2h0M147.1 246.6h0M122.7 210.0h0M166.0 250.6h0M142.6 262.3h0M147.3 226.5h0M89.5 240.3h0M166.1 223.7h0M115.0 249.8h0M65.9 254.3h0M75.2 222.7h0M69.4 250.9h0M138.0 251.3h0M68.9 261.9h0M138.0 232.6h0M156.2 259.0h0M85.5 227.7h0M107.3 215.9h0M83.1 232.7h0M105.2 246.5h0M131.7 261.7h0M107.8 203.8h0M182.7 220.2h0M129.2 257.6h0M69.6 202.0h0M109.4 259.6h0M140.3 254.5h0M163.9 263.0h0M154.7 231.9h0M150.6 226.6h0M78.4 259.2h0M70.9 263.1h0M101.6 206.8h0M79.8 223.7h0M101.0 202.4h0M83.2 215.4h0M147.3 227.1h0M160.7 229.0h0M127.7 235.9h0M91.9 257.2h0M75.3 244.9h0M153.7 216.0h0M114.4 215.3h0M122.8 203.1h0M83.7 212.9h0M79.7 241.7h0M167.3 257.8h0M82.1 243.9h0M152.8 221.9h0M86.3 224.4h0M100.9 202.0h0M145.4 254.4h0M150.8 255.9h0M87.3 204.9h0M85.2 236.0h0M159.7 220.5h0M138.5 235.6h0M131.0 226.6h0M123.6 257.5h0M119.4 256.4h0M123.4 209.6h0M119.4 251.8h0M74.8 216.7h0M136.7 209.8h0M79.4 253.0h0M97.6 250.9h0M122.8 257.1h0M105.5 245.8h0M137.0 259.6h0M81.8 207.7h0M82.8 228.1h0M144.8 251.6h0M166.2 223.2h0M149.4 220.0h0M107.8 204.9h0M77.6 219.7h0M114.2 227.2h0M182.2 232.2h0M120.0 214.6h0M68.6 260.3h0M62.7 207.2h0M135.8 260.8h0M106.8 221.4h0M119.4 211.8h0M173.9 260.6h0M97.0 232.0h0M173.8 255.5h0M178.3 262.2h0M98.0 230.1h0M66.8 250.7h0M99.0 258.5h0M143.4 230.4h0M124.7 213.7h0M66.9 196.0h0M143.7 221.8h0M165.1 217.1h0M122.2 258.0h0M128.4 227.8h0M110.1 226.4h0M67.0 255.9h0M82.6 208.4h0M124.5 217.5h0M102.0 206.9h0M72.0 251.2h0M135.6 256.5h0M111.4 211.2h0M148.0 246.8h0M148.9 255.7h0M103.9 253.4h0M86.4 247.8h0M179.6 261.9h0M151.9 228.0h0M167.7 237.4h0M81.1 205.2h0M87.2 200.2h0M173.9 258.5h0M168.9 230.3h0M176.8 243.3h0M82.2 194.9h0M92.8 232.3h0M89.8 246.0h0M171.1 222.7h0M62.8 259.1h0M81.8 210.1h0M154.6 254.4h0M65.8 254.9h0M138.5 212.3h0M155.6 256.0h0M139.8 226.6h0M172.5 237.4h0M152.4 229.6h0M106.7 255.4h0M78.9 228.7h0M161.7 231.8h0M87.4 195.2h0M181.6 251.6h0M146.5 244.3h0M103.1 255.2h0M168.0 228.1h0M174.2 221.7h0M117.3 222.9h0M110.0 220.0h0M64.5 240.2h0M114.3 242.6h0M122.1 214.5h0M120.9 258.5h0M143.2 223.3h0M155.3 261.5h0M78.4 209.1h0M142.0 259.8h0M81.4 224.3h0M158.1 225.9h0M136.8 256.4h0M137.0 243.6h0M160.1 240.5h0M176.7 237.3h0M62.1 251.5h0M155.6 259.9h0M119.5 214.8h0M148.1 240.1h0M71.5 201.5h0M71.9 201.2h0M144.7 258.3h0M113.0 225.5h0M103.6 209.5h0M93.8 202.3h0M110.7 207.7h0M105.7 233.7h0M152.8 224.6h0M159.4 218.2h0M101.1 229.1h0M115.4 196.1h0M68.9 256.7h0M133.0 210.3h0M72.7 202.7h0M155.4 227.2h0M115.9 204.4h0M143.7 257.8h0M145.8 238.0h0M115.9 256.2h0M108.9 222.4h0M120.3 226.0h0M70.6 221.3h0M118.7 232.4h0M102.2 208.1h0M179.7 231.8h0M79.7 255.6h0M102.1 262.4h0M99.5 212.6h0M142.1 220.2h0M174.9 250.0h0M122.3 227.9h0M133.0 260.7h0M62.3 208.6h0M147.1 259.8h0M122.7 260.9h0M114.9 213.7h0M115.5 208.6h0M132.6 245.0h0M130.4 242.1h0M90.0 246.3h0M127.2 222.0h0M146.6 252.5h0M144.6 216.7h0M88.3 253.9h0M60.0 245.1h0M131.9 236.8h0M149.4 232.6h0M137.5 212.9h0M88.6 222.6h0M98.8 253.6h0M161.5 230.6h0M161.8 232.9h0M78.6 252.8h0M83.4 200.6h0M80.5 209.2h0M87.4 244.3h0M87.4 207.5h0M92.8 209.5h0M83.3 245.3h0M76.1 259.9h0M99.2 239.6h0M155.1 226.6h0M154.1 250.3h0M143.1 254.4h0M109.6 207.3h0M73.0 203.6h0M104.2 232.9h0M123.0 220.4h0M177.9 232.6h0M65.3 261.3h0M85.7 250.6h0M101.7 251.9h0M172.9 261.9h0M169.0 237.4h0M157.6 220.6h0M97.7 213.5h0M137.4 222.3h0M119.0 219.3h0M114.5 220.9h0M181.4 263.1h0M103.3 260.4h0M173.2 237.6h0M69.9 256.4h0M122.3 216.0h0M137.6 258.2h0M70.6 201.3h0M179.1 262.2h0M110.8 246.1h0M162.6 232.0h0M113.3 222.1h0M86.9 256.4h0M147.1 227.7h0M107.3 213.3h0M93.5 219.5h0M82.1 210.2h0M76.4 261.8h0M165.2 210.7h0M120.4 232.0h0M73.1 214.9h0M181.5 244.1h0M147.1 248.7h0M91.6 261.7h0M160.8 257.1h0M100.2 215.2h0M125.7 233.2h0M68.9 256.3h0M99.5 220.2h0M81.2 202.0h0M114.8 213.5h0M141.5 220.9h0M173.4 259.7h0M180.2 220.7h0M87.6 255.3h0M160.6 228.4h0M143.5 248.7h0M128.0 227.2h0M153.6 221.2h0M97.2 238.9h0M111.7 262.3h0M123.5 222.3h0M86.7 260.7h0M152.7 257.8h0M175.2 236.9h0M113.2 237.5h0M86.4 259.2h0M166.1 245.7h0M104.9 260.0h0M66.1 228.2h0M126.9 244.8h0M82.5 249.3h0M73.7 253.2h0M137.1 243.3h0M143.8 258.3h0M91.5 207.5h0M179.8 250.9h0M141.1 223.0h0M78.6 208.7h0M71.0 260.5h0M158.3 257.7h0M103.4 260.3h0M108.3 259.6h0M80.5 258.7h0M124.7 258.4h0M143.2 226.0h0M118.1 213.8h0M67.4 204.1h0M73.7 239.3h0M154.5 252.8h0M137.0 215.2h0M161.1 223.4h0M141.3 228.7h0M170.4 262.3h0M111.1 255.9h0M117.7 238.8h0M81.4 225.9h0M84.1 251.1h0M169.4 211.5h0M181.8 261.4h0M141.0 257.2h0M137.6 210.8h0M181.2 263.2h0M107.4 258.8h0M125.6 211.1h0M72.8 253.8h0M75.9 247.1h0M67.2 206.1h0M140.9 237.4h0M135.1 260.2h0M67.2 226.9h0M102.3 223.7h0M137.8 236.6h0M148.2 226.6h0M115.0 252.9h0M114.1 211.0h0M78.3 215.7h0M86.8 250.2h0M113.4 261.5h0M175.7 254.4h0M112.4 261.8h0M78.9 238.0h0M101.8 255.2h0M137.0 251.6h0M107.4 199.6h0M156.2 229.3h0M169.5 246.4h0M83.9 244.6h0M142.0 257.5h0M84.1 257.6h0M124.4 197.0h0M149.8 224.0h0M159.8 240.5h0M177.5 234.6h0M150.8 255.1h0M136.2 255.8h0M182.8 226.2h0M105.7 242.4h0M146.3 234.2h0M181.8 239.4h0M158.0 230.1h0M122.9 252.8h0M122.0 240.3h0M169.8 214.7h0M164.9 252.8h0M66.6 207.7h0M118.8 256.9h0M101.9 258.1h0M102.5 258.6h0M157.2 222.1h0M134.3 261.0h0M124.1 238.6h0M129.9 241.8h0M86.0 227.5h0M160.2 261.4h0M175.5 263.1h0M178.0 230.8h0M63.4 199.0h0M156.8 229.2h0M75.1 231.3h0M112.7 218.0h0M86.7 258.4h0M82.3 253.6h0M158.5 236.7h0M137.0 227.1h0M100.8 209.0h0M100.8 262.2h0M84.5 212.6h0M123.3 258.9h0M83.0 233.3h0M148.4 240.3h0M112.4 207.5h0M141.4 218.7h0M177.6 236.8h0M97.3 232.5h0M101.2 218.3h0M173.0 234.0h0M131.9 252.2h0M91.7 205.8h0M137.4 257.5h0M99.5 213.6h0M63.2 216.1h0M120.5 249.5h0M152.1 225.3h0M176.6 261.8h0M160.6 263.3h0M164.6 242.0h0M106.1 210.3h0M175.6 241.6h0M99.7 211.5h0M67.2 251.4h0M70.5 250.1h0M76.6 207.6h0M69.7 192.8h0M159.1 224.2h0M132.3 209.0h0M103.8 213.4h0M145.1 216.2h0M147.5 234.3h0M168.9 262.3h0M62.6 248.8h0M137.8 233.1h0M127.0 206.4h0M156.8 217.8h0M116.9 220.9h0M61.0 211.5h0M137.0 253.8h0M132.6 212.6h0M107.4 228.1h0M60.3 219.2h0M174.4 263.1h0M70.5 209.2h0M102.9 209.7h0M92.7 247.4h0M176.7 256.5h0M103.8 215.6h0M69.1 203.5h0M66.8 255.0h0M150.7 255.2h0M121.7 249.5h0M68.5 254.7h0M157.4 259.2h0M172.3 216.3h0M97.5 230.3h0M154.6 249.8h0M128.3 254.1h0M74.4 249.6h0M180.4 261.8h0M116.2 205.5h0M109.6 203.7h0M123.7 248.2h0M180.9 233.2h0M83.3 263.0h0M120.1 220.3h0M173.6 236.2h0M120.6 226.1h0M171.4 256.3h0M159.9 226.3h0M179.4 262.8h0M64.8 200.1h0M167.4 261.7h0M73.1 245.2h0M99.4 204.1h0M179.4 226.0h0M69.4 247.3h0M101.9 221.2h0M89.4 202.7h0M171.0 216.1h0M120.5 224.0h0M127.2 225.3h0M91.6 212.6h0M162.2 220.9h0M120.4 261.8h0M100.9 212.9h0M66.0 198.5h0M78.6 260.5h0M109.0 261.8h0M67.7 259.8h0M90.2 203.9h0M138.2 239.7h0M163.5 260.2h0M146.8 227.8h0M130.0 209.7h0M180.9 234.1h0M115.9 223.7h0M99.8 205.2h0M89.7 250.6h0M88.6 235.9h0M178.2 235.3h0M71.1 222.0h0M159.9 260.8h0M151.3 250.1h0M102.6 251.4h0M121.2 221.9h0M89.4 233.5h0M147.3 233.4h0M163.2 254.6h0M169.6 243.0h0M68.8 237.3h0M111.9 255.3h0M78.5 201.9h0M123.8 242.9h0M133.2 249.9h0M133.5 218.9h0M182.8 258.8h0M89.3 242.8h0M179.1 213.0h0M182.5 240.0h0M109.1 247.7h0M169.1 241.1h0M165.3 225.5h0M97.9 203.8h0M70.4 259.1h0M118.8 232.3h0M140.0 212.7h0M138.8 252.6h0M126.8 249.9h0M156.0 248.6h0M170.0 247.9h0M153.2 233.8h0M91.7 207.2h0M79.7 205.1h0M119.2 194.0h0M123.0 261.7h0M98.4 207.0h0M59.6 207.9h0M65.5 207.1h0M100.7 238.4h0M133.2 210.9h0M93.6 215.1h0M90.7 236.0h0M108.6 261.1h0M169.5 257.7h0M155.5 223.4h0M117.7 223.1h0M117.5 215.6h0M114.8 245.9h0M111.8 228.9h0M99.0 255.4h0M112.3 258.4h0M78.3 198.8h0M97.4 254.1h0M177.0 257.4h0M139.2 209.3h0M81.0 232.8h0M133.0 255.0h0M128.4 222.0h0M63.8 216.8h0M114.0 217.2h0M121.3 234.2h0M107.0 228.9h0M181.2 261.6h0M141.8 240.5h0M102.8 262.6h0M109.3 236.0h0M75.1 250.6h0M103.1 227.9h0M110.0 203.4h0M63.9 248.2h0M152.9 234.5h0M158.6 263.0h0M117.8 243.1h0M120.0 203.4h0M62.7 202.8h0M89.8 239.6h0M177.9 231.1h0M143.2 263.2h0M67.8 240.0h0M125.9 216.6h0M142.3 252.1h0M179.0 237.6h0M139.9 213.1h0M85.0 202.1h0M76.5 215.8h0M178.6 255.7h0M127.8 217.3h0M145.7 230.0h0M160.7 218.1h0M104.1 261.9h0M113.3 215.2h0M66.6 243.6h0M157.9 220.0h0M175.4 240.8h0M167.3 243.6h0M119.9 222.1h0M130.1 251.6h0M127.7 243.5h0M77.9 254.6h0M145.6 230.6h0M155.4 241.3h0M72.3 214.7h0M68.5 219.1h0M74.1 261.5h0M83.6 203.8h0M118.2 215.5h0M134.8 217.6h0M153.3 220.8h0M119.9 254.3h0M135.0 243.2h0M129.9 225.7h0M146.7 256.8h0M136.6 258.3h0M111.0 220.8h0M108.6 207.6h0M161.4 263.1h0M78.0 207.5h0M61.8 234.3h0M109.4 194.6h0M151.2 233.7h0M163.3 255.1h0M85.2 196.6h0M71.9 198.2h0M115.8 208.4h0M163.9 221.4h0M68.0 201.3h0M100.7 236.8h0M151.5 255.3h0M100.1 258.6h0M141.7 216.4h0M110.4 255.6h0M114.5 245.7h0M110.9 213.4h0M171.4 229.1h0M90.9 207.9h0M156.6 221.2h0M177.8 237.6h0M100.6 246.0h0M112.4 259.8h0M126.2 203.3h0M89.5 215.6h0M148.6 225.7h0M72.6 217.9h0M113.4 243.7h0M69.5 192.0h0M124.6 251.2h0M150.9 227.7h0M90.3 211.9h0M78.5 204.2h0M119.4 221.9h0M94.4 259.6h0M164.7 231.5h0M120.6 260.1h0M89.8 254.1h0M81.0 254.0h0M63.7 203.0h0M170.8 256.2h0M105.7 242.7h0M113.2 216.7h0M69.4 204.8h0M96.5 252.8h0M65.2 256.2h0M142.0 234.6h0M165.0 262.4h0M155.0 259.4h0M180.4 262.7h0M78.6 262.6h0M68.3 205.7h0M109.1 221.7h0M150.0 259.8h0M151.2 260.0h0M89.0 232.9h0M173.0 252.4h0M105.8 214.0h0M109.0 255.0h0M164.3 229.6h0M119.9 231.4h0M74.6 210.0h0M141.1 256.0h0M88.8 206.8h0M129.2 253.1h0M124.6 226.4h0M180.7 261.6h0M180.9 253.5h0M70.0 251.2h0M110.4 259.5h0M110.1 256.4h0M84.9 242.6h0M140.5 219.6h0M144.4 242.1h0M117.4 258.3h0M152.4 222.6h0M131.0 217.0h0M60.7 236.2h0M143.6 256.8h0M137.9 216.0h0M121.5 229.5h0M133.0 213.3h0M113.3 221.9h0M96.2 221.2h0M115.7 202.2h0M76.2 259.4h0M91.8 247.6h0M124.0 219.9h0M180.1 253.2h0M78.0 205.6h0M148.5 263.0h0M147.4 211.0h0M179.4 252.5h0M124.9 259.6h0M79.4 213.4h0M113.1 257.4h0M128.2 235.2h0M157.4 219.8h0M71.3 262.8h0M125.9 255.5h0M113.5 254.9h0M103.6 217.5h0M175.6 258.4h0M151.0 258.7h0M120.7 246.2h0M176.5 249.2h0M158.8 212.4h0M148.6 227.9h0M152.4 260.1h0M153.8 243.3h0M98.7 252.6h0M104.5 258.8h0M178.8 216.9h0M153.6 233.3h0M149.4 217.4h0M118.8 214.4h0M147.9 222.5h0M89.8 247.4h0M72.8 203.1h0M106.8 217.9h0M80.8 211.4h0M97.0 248.7h0M95.0 242.6h0M89.8 238.0h0M76.3 240.4h0M116.0 215.5h0M75.8 257.5h0M65.4 261.7h0M63.3 201.6h0M83.8 208.9h0M175.5 237.9h0M151.1 237.1h0M162.5 221.0h0M137.0 242.1h0M107.5 210.2h0M69.6 258.0h0M61.4 210.2h0M167.3 259.0h0M181.9 262.1h0M78.4 262.6h0M83.5 260.9h0M159.0 237.5h0M76.4 237.2h0M81.0 259.5h0M95.7 258.4h0M137.2 224.3h0M82.3 241.8h0M73.6 193.3h0M182.0 256.5h0M178.0 248.0h0M93.5 210.0h0M147.5 251.5h0M177.2 248.7h0M182.1 244.6h0M129.9 235.1h0M102.6 253.3h0M164.5 229.5h0M85.3 242.0h0M93.5 224.2h0M182.9 229.2h0M73.1 203.8h0M124.2 213.2h0M152.4 251.6h0M60.3 215.2h0M110.6 260.6h0M118.7 245.0h0M134.3 235.2h0M73.2 208.8h0M123.1 205.4h0M113.8 214.6h0M115.8 236.8h0M182.2 223.9h0M120.6 256.9h0M123.8 218.7h0M105.4 201.0h0M113.1 212.9h0M177.1 259.9h0M161.5 215.2h0M166.6 232.3h0M65.8 203.7h0M128.3 261.2h0M175.8 252.0h0M144.3 262.1h0M82.9 217.1h0M80.7 251.3h0M73.0 254.8h0M163.7 217.8h0M98.9 217.1h0M109.2 244.3h0M135.3 258.4h0M138.2 250.5h0M79.1 255.0h0M76.3 255.6h0M115.1 218.3h0M154.8 260.9h0M60.0 233.9h0M180.2 259.6h0M133.9 251.2h0M90.2 226.1h0M97.5 251.5h0M90.2 259.7h0M181.8 249.8h0M167.9 248.1h0M178.5 233.2h0M149.0 251.2h0M97.0 221.8h0M98.6 255.7h0M77.0 214.2h0M174.5 261.7h0M83.3 228.7h0M168.7 218.5h0M100.8 256.2h0M131.7 218.1h0M103.7 232.2h0M126.8 221.1h0M131.8 211.5h0M147.8 242.6h0M133.7 224.2h0M182.0 236.3h0M80.8 244.1h0M104.2 263.0h0M85.6 214.3h0M169.2 259.8h0M145.8 261.5h0M98.1 215.4h0M94.7 250.5h0M72.3 220.1h0M71.1 225.6h0M162.5 254.8h0M75.3 204.0h0M179.7 225.6h0M74.4 255.7h0M160.1 261.8h0M83.8 242.4h0M120.8 209.0h0M86.2 229.5h0M159.2 219.5h0M90.9 200.2h0M174.9 236.7h0M61.0 195.4h0M138.4 212.2h0M181.3 261.3h0M116.8 228.5h0M59.4 254.7h0M162.1 259.7h0M95.2 221.0h0M71.7 239.1h0M147.4 212.4h0M97.2 254.1h0M150.9 252.9h0M66.0 200.6h0M169.3 254.4h0M82.0 258.5h0M102.4 252.5h0M174.2 231.9h0M180.9 233.0h0M106.3 210.8h0M139.2 262.0h0M155.0 214.2h0M106.9 227.5h0M140.6 241.0h0M79.2 212.8h0M130.1 257.8h0M71.0 250.9h0M70.2 238.8h0M152.0 219.7h0M60.0 224.7h0M88.5 234.5h0M146.5 228.1h0M164.0 216.9h0M66.2 200.3h0M144.9 232.2h0M179.5 255.9h0M176.4 225.5h0M156.9 230.0h0M101.7 194.4h0M60.8 196.6h0M76.5 225.3h0M159.7 223.8h0M60.2 210.2h0M83.3 247.8h0M70.5 195.9h0M90.8 213.5h0M83.1 254.1h0M95.7 209.7h0M144.4 255.1h0M75.4 256.0h0M105.7 244.6h0M95.6 253.6h0M103.4 211.4h0M149.1 217.5h0M163.1 227.2h0M110.4 215.4h0M140.6 219.2h0M162.3 259.5h0M131.1 260.3h0M155.7 250.5h0M60.3 222.3h0M78.9 254.9h0M156.0 224.7h0M127.1 212.5h0M153.1 232.6h0M131.5 241.7h0M113.0 215.4h0M59.6 258.9h0M91.1 243.2h0M126.8 224.8h0M158.2 241.7h0M174.9 223.3h0M155.0 220.7h0M96.6 252.9h0M111.9 223.4h0M121.4 254.7h0M106.2 259.8h0M72.0 210.1h0M92.5 208.1h0M173.8 250.4h0M176.9 248.0h0M79.3 250.6h0M149.4 253.0h0M119.7 261.9h0M176.1 219.5h0M92.3 214.1h0M73.8 232.4h0M102.3 209.7h0M99.0 258.0h0M81.0 250.8h0M63.1 195.4h0M88.6 247.9h0M152.4 239.2h0M96.5 234.1h0M78.6 256.3h0M67.0 210.0h0M93.7 255.9h0M98.9 232.0h0M105.8 220.9h0M91.8 217.3h0M81.5 250.2h0M107.5 218.5h0M166.8 227.6h0M177.5 221.6h0M65.1 237.8h0M149.9 211.1h0M96.9 226.4h0M182.5 230.5h0M60.1 244.3h0M126.2 236.8h0M105.4 214.7h0M63.9 215.3h0M142.8 208.0h0M112.5 213.3h0M162.7 257.6h0M151.0 237.8h0M115.0 231.2h0M163.0 253.5h0M174.1 250.3h0M151.1 240.5h0M140.3 263.3h0M166.6 224.1h0M94.3 209.0h0M76.9 203.9h0M170.7 226.8h0M162.1 247.3h0M143.4 237.8h0M62.6 226.9h0M82.3 194.3h0M84.6 221.1h0M150.4 211.6h0M158.5 248.7h0M98.8 214.4h0M128.7 244.7h0M134.8 217.9h0M61.3 243.0h0M124.8 257.0h0M131.3 228.5h0M163.3 243.9h0M90.1 204.4h0M65.6 260.3h0M130.9 239.3h0M175.3 262.2h0M145.4 212.1h0M97.7 229.3h0M83.8 206.7h0M72.2 193.0h0M71.1 227.2h0M182.1 212.3h0M61.9 261.3h0M168.7 241.5h0M142.1 234.4h0M135.9 238.9h0M169.2 223.7h0M60.7 262.2h0M176.4 254.0h0M88.3 218.2h0M103.4 220.7h0M78.6 224.6h0M171.8 226.9h0M95.5 254.9h0M168.2 229.6h0M67.1 204.0h0M87.6 209.9h0M124.0 214.3h0M98.6 258.0h0M174.3 227.5h0M175.2 232.3h0M167.8 219.3h0M147.8 223.6h0M114.9 226.4h0M70.6 195.9h0M113.9 223.0h0M161.0 261.7h0M101.2 240.3h0M95.0 206.0h0M65.3 252.1h0M176.7 257.8h0M65.8 242.3h0M178.6 262.3h0M79.5 205.5h0M75.4 258.9h0M182.7 221.5h0M168.1 258.0h0M64.2 202.8h0M91.2 234.6h0M68.6 206.3h0M180.7 260.2h0M178.7 259.8h0M61.4 202.8h0M99.7 198.4h0M61.9 201.9h0M131.0 256.3h0M166.6 222.7h0M147.9 255.7h0M149.8 218.7h0M130.1 235.7h0M161.7 240.6h0M96.1 252.2h0M76.1 242.0h0M70.6 215.6h0M71.8 232.4h0M139.8 225.0h0M172.2 229.9h0M173.6 218.0h0M72.7 254.5h0M72.2 223.5h0M175.7 227.2h0M154.1 235.6h0M162.4 226.3h0M89.8 210.9h0M97.9 246.8h0M163.7 254.6h0M159.3 231.2h0M61.9 204.2h0M87.7 251.4h0M105.8 249.9h0M159.8 247.8h0M74.2 263.0h0M69.6 262.5h0M147.2 256.2h0M97.9 210.2h0M108.5 221.3h0M114.3 227.4h0M170.1 258.3h0M111.2 238.6h0M71.2 218.0h0M69.9 238.9h0M171.2 233.5h0M142.9 220.1h0M88.6 202.9h0M91.5 221.3h0M140.8 232.8h0M63.3 210.3h0M73.7 208.6h0M74.9 216.5h0M139.9 262.4h0M157.7 244.3h0M172.0 257.8h0M131.2 224.0h0M162.6 235.0h0M82.0 240.4h0M119.1 239.8h0M63.0 260.7h0M172.5 216.8h0M172.6 261.1h0M73.4 196.2h0M101.7 235.8h0M71.1 245.0h0M168.6 217.7h0M91.2 262.4h0M86.1 209.0h0M167.9 229.9h0M158.3 237.6h0M128.2 209.4h0M171.2 235.6h0M136.3 248.6h0M169.8 255.4h0M148.7 233.4h0M127.7 215.1h0M91.7 213.2h0M73.7 252.5h0M75.5 206.7h0M175.6 255.1h0M103.3 213.8h0M71.5 198.1h0M110.9 229.3h0M84.2 230.7h0M127.3 260.3h0M82.0 198.0h0M177.7 258.1h0M124.6 216.7h0M160.6 216.1h0M111.3 246.5h0M154.9 253.7h0M170.5 247.9h0M80.2 229.0h0M85.4 215.4h0M175.9 227.8h0M130.8 219.2h0M81.6 238.9h0M81.3 212.4h0M101.3 200.5h0M129.9 241.1h0M105.1 232.8h0M95.9 204.6h0M67.9 253.7h0M163.1 220.8h0M131.8 257.1h0M86.1 209.3h0M131.8 239.8h0M167.2 257.8h0M109.1 244.3h0M139.6 221.7h0M143.6 223.9h0M105.2 217.2h0M102.1 221.4h0M103.2 206.0h0M88.4 217.4h0M90.3 236.9h0M59.8 241.4h0M154.0 224.0h0M143.0 259.7h0M111.2 217.5h0M81.4 246.9h0M122.5 213.8h0M69.2 204.7h0M155.3 262.7h0M115.2 255.6h0M179.4 225.9h0M82.5 236.1h0M170.0 234.6h0M142.0 260.8h0M124.7 225.0h0M113.4 214.7h0M162.4 241.0h0M121.3 203.2h0M113.6 249.0h0M102.2 247.8h0M71.8 208.9h0M178.1 239.5h0M95.7 223.7h0M74.3 205.2h0M106.6 215.1h0M78.2 258.5h0M134.3 226.4h0M115.0 247.9h0M124.2 213.4h0M88.1 226.2h0M135.7 211.2h0M165.5 250.0h0M113.1 253.3h0M152.5 254.5h0M79.3 246.4h0M178.7 235.9h0M114.0 206.5h0M171.3 256.4h0M81.1 210.3h0M110.6 214.8h0M159.4 260.0h0M88.5 218.1h0M62.1 244.3h0M69.2 192.5h0M152.4 259.6h0M84.6 220.1h0M117.8 254.2h0M113.1 210.5h0M171.0 253.3h0M164.2 256.5h0M85.1 214.3h0M143.8 230.6h0M143.0 221.1h0M102.4 215.3h0M98.6 222.8h0M163.0 257.7h0M66.8 205.6h0M95.1 250.0h0M144.0 260.6h0M117.5 218.1h0M150.6 213.2h0M71.5 256.4h0M166.2 261.5h0M99.5 225.0h0M107.3 210.1h0M118.9 212.1h0M139.4 219.1h0M104.4 261.2h0M122.3 253.3h0M83.8 204.0h0M180.2 236.6h0M125.0 249.9h0M164.2 240.8h0M91.1 258.3h0M95.1 210.4h0M136.9 258.9h0M169.4 216.2h0M84.9 250.4h0M158.3 235.4h0M104.2 262.4h0M157.7 223.8h0M136.3 254.0h0M172.4 221.2h0M66.6 201.3h0M180.4 229.1h0M74.2 226.2h0M111.6 207.3h0M155.1 226.9h0M149.4 221.0h0M81.9 250.5h0M182.4 261.5h0M87.4 223.1h0M137.4 240.7h0M100.4 258.6h0M135.7 224.8h0M78.7 214.5h0M72.7 253.1h0M159.3 261.6h0M144.8 224.2h0M121.1 234.8h0M89.6 247.0h0M69.5 258.1h0M78.8 263.2h0M120.8 244.3h0M108.8 242.9h0M155.7 260.4h0M105.9 226.8h0M127.7 253.7h0M87.0 208.3h0M178.0 250.4h0M86.2 229.3h0M68.1 246.4h0M147.5 228.3h0M168.7 259.4h0M87.4 212.6h0M94.5 233.2h0M130.6 240.8h0M104.0 241.3h0M114.2 225.4h0M161.0 256.0h0M166.5 261.9h0M146.4 210.4h0M121.6 250.7h0M103.6 254.1h0M166.0 262.0h0M160.4 257.9h0M91.4 203.5h0M140.6 262.1h0M64.7 258.3h0M153.6 210.9h0M109.5 257.5h0M104.5 236.5h0M118.1 225.4h0M139.5 262.3h0M180.5 223.6h0M136.9 247.8h0M115.9 218.5h0M63.3 244.6h0M157.4 255.3h0M127.0 247.1h0M140.8 218.8h0M83.1 258.9h0M60.0 194.6h0M154.9 258.2h0M104.6 234.6h0M139.8 260.8h0M62.8 210.0h0M147.0 261.2h0M124.9 207.5h0M120.8 253.6h0M140.4 262.6h0M104.3 262.7h0M165.1 225.9h0M116.2 205.2h0M89.6 253.3h0M149.8 261.3h0M103.9 249.0h0M60.0 262.4h0M107.8 205.8h0M94.8 248.4h0M144.6 245.6h0M131.2 260.0h0M120.6 263.1h0M120.4 232.5h0M103.5 208.7h0M89.3 208.9h0M166.3 225.1h0M146.5 248.1h0M182.3 239.3h0M74.8 245.6h0M113.9 231.6h0M90.8 216.8h0M109.1 262.6h0M105.1 211.7h0M102.9 214.3h0M181.1 237.2h0M143.1 216.8h0M152.9 227.1h0M120.7 253.8h0M99.3 223.9h0M166.4 207.4h0M61.2 245.7h0M120.0 258.8h0M144.8 250.3h0M118.2 262.5h0M70.3 211.8h0M86.0 227.6h0M131.5 217.5h0M166.3 215.3h0M134.1 211.7h0M97.8 251.4h0M81.5 244.3h0M182.7 231.6h0M179.4 221.1h0M177.7 226.2h0M61.4 216.7h0M154.6 250.2h0M156.8 225.3h0M158.3 243.7h0M77.7 226.2h0M141.1 218.2h0M77.3 206.3h0M128.4 240.5h0M94.1 233.8h0M139.3 254.7h0M164.2 230.7h0M178.3 262.8h0M182.9 223.4h0M65.2 238.0h0M129.4 245.8h0M115.5 231.2h0M73.8 196.1h0M158.4 216.4h0M143.3 249.4h0M151.2 230.8h0M132.3 218.1h0M90.3 213.3h0M131.5 250.6h0M128.9 256.2h0M79.4 220.2h0M129.1 213.6h0M99.9 203.9h0M86.5 200.4h0M63.7 256.7h0M119.8 202.2h0M164.6 231.6h0M118.3 229.5h0M174.5 259.8h0M162.7 250.9h0M171.9 234.7h0M63.3 202.2h0M121.0 202.6h0M90.5 210.8h0M145.3 244.3h0M61.9 252.6h0M77.0 221.1h0M62.6 254.3h0M89.1 257.8h0M127.1 243.5h0M91.2 213.8h0M158.7 236.4h0M90.2 256.9h0M75.8 209.0h0M67.9 251.3h0M70.6 240.2h0M163.4 216.0h0M171.7 259.6h0M87.6 219.6h0M60.6 262.6h0M69.3 252.4h0M170.1 238.5h0M73.1 209.8h0M174.3 219.4h0M178.7 258.2h0M106.2 263.2h0M138.8 260.8h0M167.1 212.5h0M139.0 258.5h0M100.1 232.0h0M63.8 209.4h0M62.0 214.1h0M118.0 242.8h0M171.9 233.5h0M117.0 230.5h0M159.3 220.8h0M75.4 210.7h0M140.1 223.6h0M128.4 259.1h0M129.7 210.5h0M147.6 221.1h0M161.9 262.6h0M169.9 234.0h0M135.4 250.2h0M114.1 242.5h0M117.3 262.2h0M118.2 255.8h0M130.1 253.3h0M128.5 258.6h0M147.1 224.3h0M169.5 259.2h0M67.5 249.5h0M103.6 204.2h0M160.2 243.6h0M144.1 219.6h0M117.9 262.6h0M141.5 251.8h0M129.7 236.9h0M91.5 218.5h0M72.7 258.9h0M111.1 213.9h0M174.5 226.5h0M171.3 232.4h0M101.1 223.6h0M178.2 261.1h0M81.7 254.8h0M99.7 195.5h0M60.6 244.2h0M181.6 231.6h0M71.5 215.9h0M111.3 226.8h0M144.8 241.6h0M123.4 259.6h0M99.5 209.9h0M159.1 263.0h0M65.7 258.0h0M97.6 254.7h0M121.1 224.1h0M82.4 209.2h0M146.3 260.6h0M116.6 209.9h0M105.4 213.2h0M101.8 230.0h0M92.8 208.7h0M171.1 257.7h0M115.3 224.8h0M142.9 260.7h0M89.2 205.1h0M80.6 262.2h0M101.2 261.8h0M101.9 203.9h0M113.2 228.3h0M115.8 254.4h0M98.9 254.0h0M159.1 218.2h0M76.1 261.7h0M102.0 215.3h0M159.0 228.6h0M121.3 225.1h0M165.0 245.3h0M65.5 257.0h0M111.6 244.0h0M169.1 224.7h0M109.9 253.9h0M98.6 262.0h0M100.6 206.8h0M62.3 241.4h0M176.3 259.3h0M172.2 254.8h0M180.8 259.1h0M73.6 259.9h0M152.1 217.0h0M105.1 205.6h0M79.4 262.7h0M116.0 235.1h0M147.8 241.1h0M170.3 225.2h0M62.0 201.5h0M60.4 217.4h0M96.2 236.4h0M86.3 253.0h0M68.9 206.9h0M83.6 235.3h0M145.8 229.1h0M80.4 225.4h0M79.3 200.3h0M159.6 224.3h0M61.5 249.7h0M142.6 251.5h0M124.9 258.7h0M181.0 255.6h0M138.9 263.1h0M67.1 240.8h0M136.3 248.6h0M70.1 248.9h0M129.1 256.7h0M123.3 215.9h0M62.5 217.6h0M170.9 250.0h0M61.6 198.0h0M99.5 215.6h0M168.8 262.5h0M161.6 252.6h0M71.0 258.1h0M101.5 211.7h0M86.4 231.2h0M156.8 214.0h0M135.3 262.3h0M87.3 254.2h0M78.7 249.2h0M85.0 257.2h0M150.0 263.3h0M110.7 208.4h0M107.4 201.9h0M77.7 250.2h0M157.3 252.5h0M175.6 228.6h0M80.7 206.6h0M166.0 258.8h0M69.1 258.8h0M112.5 201.6h0M153.1 259.0h0M125.3 218.7h0M123.4 214.2h0M137.0 221.8h0M63.0 219.4h0M164.1 255.1h0M182.9 233.3h0M117.7 229.0h0M165.6 239.2h0M126.5 223.7h0M71.1 206.5h0M59.8 258.5h0M77.7 257.4h0M113.6 261.9h0M180.9 224.6h0M142.0 222.0h0M137.7 260.8h0M103.8 194.8h0M73.2 256.3h0M160.7 219.1h0M175.8 263.1h0M122.3 244.3h0M99.3 210.8h0M174.0 220.7h0M123.2 256.0h0M154.6 262.9h0M90.9 256.1h0M158.8 209.9h0M93.1 203.8h0M131.0 218.1h0M129.1 218.3h0M160.1 218.4h0M154.1 230.9h0M156.1 253.2h0M176.5 260.4h0M163.8 234.5h0M132.8 254.8h0M129.6 250.0h0M168.6 214.3h0M150.4 235.4h0M176.4 236.6h0M108.5 207.3h0M165.9 242.0h0M122.5 233.4h0M92.2 209.0h0M147.0 225.1h0M158.9 258.9h0M122.2 225.3h0M147.2 228.2h0M105.2 249.3h0M65.8 213.6h0M130.1 260.9h0M180.0 237.4h0M151.4 223.5h0M69.8 257.8h0M152.2 225.4h0M99.4 248.7h0M72.7 263.3h0M176.9 248.6h0M166.1 263.1h0M65.6 205.6h0M97.3 209.5h0M105.4 211.5h0M118.0 242.0h0M165.6 257.7h0M176.0 257.3h0M125.1 210.7h0M63.8 253.5h0M160.1 256.2h0M137.3 212.5h0M143.3 218.1h0M89.6 232.9h0M89.4 227.9h0M72.3 226.5h0M135.6 262.4h0M78.5 252.3h0M133.1 247.1h0M121.6 254.8h0M76.3 199.1h0M71.1 190.6h0M159.0 235.6h0M125.0 245.7h0M169.4 237.8h0M92.0 209.7h0M108.0 262.0h0M103.4 208.8h0M115.9 201.2h0M62.2 195.5h0M161.4 231.7h0M117.1 247.3h0M104.4 251.0h0M129.0 215.1h0M122.1 249.7h0M166.2 260.5h0M140.5 247.0h0M145.1 214.5h0M74.5 255.8h0M119.1 230.8h0M151.8 253.3h0M62.4 253.6h0M136.8 221.1h0M130.0 220.9h0M180.1 262.6h0M159.6 208.8h0M106.5 206.6h0M136.6 253.1h0M90.4 204.7h0M164.3 228.0h0M101.2 258.2h0M148.0 223.7h0M97.5 210.7h0M65.7 253.4h0M112.7 220.1h0M91.5 214.3h0M150.5 211.9h0M98.8 255.2h0M150.7 258.6h0M141.7 251.3h0M158.1 239.5h0M170.5 223.9h0M63.1 261.1h0M87.7 253.5h0M147.7 244.0h0M121.1 216.3h0M126.8 216.7h0M158.2 239.3h0M122.7 222.3h0M109.9 248.1h0M109.8 263.1h0M92.4 231.8h0M71.9 206.1h0M174.4 248.4h0M115.1 223.8h0M65.1 246.1h0M98.8 246.0h0M103.6 255.7h0M179.1 251.3h0M76.3 256.8h0M163.0 209.5h0M88.4 217.0h0M91.6 211.7h0M114.6 226.6h0M155.0 262.0h0M134.5 256.7h0M70.1 253.5h0M127.2 207.7h0M119.5 242.2h0M145.0 257.5h0M128.6 230.6h0M104.7 256.5h0M75.5 194.6h0M100.6 256.8h0M87.1 255.6h0M121.5 260.0h0M132.6 218.9h0M70.8 261.5h0M181.4 225.6h0M161.8 259.0h0M77.5 209.3h0M78.3 215.2h0" stroke="#2a93d0" stroke-width="1.7" stroke-linecap="round" fill="none"/>
<path d="M97.3 228.8h0M147.9 241.4h0M84.1 233.2h0M135.7 235.4h0M107.7 233.9h0M166.3 260.7h0M79.9 229.9h0M65.8 231.1h0M118.5 221.9h0M138.0 255.5h0M157.3 237.0h0M86.1 233.1h0M60.9 226.9h0M90.7 236.2h0M98.9 241.2h0M98.8 209.6h0M150.5 240.8h0M87.5 219.4h0M84.0 218.9h0M73.6 242.7h0M73.0 234.4h0M142.5 249.9h0M105.6 230.8h0M67.9 225.9h0M101.6 225.0h0M160.6 235.8h0M175.2 244.8h0M142.4 237.5h0M70.9 225.1h0M75.4 230.9h0M137.9 260.5h0M152.3 236.6h0M79.5 228.3h0M68.0 241.1h0M140.3 231.3h0M132.2 239.7h0M70.1 241.6h0M68.4 225.6h0M131.9 247.4h0M176.5 253.8h0M154.4 258.5h0M153.2 237.2h0M113.3 231.6h0M86.0 233.0h0M111.7 238.8h0M181.9 224.0h0M91.3 237.1h0M175.8 254.3h0M61.6 239.9h0M96.9 220.8h0M67.2 220.7h0M101.8 246.5h0M106.9 231.5h0M128.2 227.0h0M102.3 240.4h0M120.0 234.7h0M75.0 224.8h0M108.2 256.0h0M113.2 260.7h0M138.5 256.2h0M125.1 239.6h0M151.4 251.8h0M93.8 221.1h0M92.8 224.2h0M72.8 222.4h0M67.8 244.3h0M147.3 237.8h0M169.5 256.3h0M117.3 224.3h0M90.6 222.4h0M64.6 214.0h0M130.0 232.3h0M118.3 240.3h0M91.3 214.0h0M121.9 253.3h0M177.4 247.3h0M167.2 238.1h0M75.5 243.4h0M115.8 240.7h0M148.0 249.3h0M181.3 234.3h0M114.6 235.0h0M171.3 234.3h0M179.1 234.7h0M71.5 240.9h0M156.5 237.2h0M181.3 228.8h0M70.3 227.1h0M173.9 239.6h0M86.8 225.0h0M67.9 250.7h0M102.7 232.9h0M122.8 240.6h0M130.8 246.6h0M162.0 243.9h0M71.6 218.7h0M166.3 227.7h0M133.2 231.2h0M74.6 240.4h0M165.5 240.7h0M179.8 245.3h0M166.6 226.6h0M170.3 257.8h0M154.6 246.3h0M86.2 232.4h0M71.7 227.5h0M126.6 254.8h0M130.9 235.7h0M165.2 250.7h0M130.5 220.1h0M81.0 237.8h0M117.5 235.2h0M121.7 241.5h0M160.8 257.7h0M94.4 231.5h0M124.9 232.5h0M120.7 240.7h0M89.4 215.3h0M61.5 214.8h0M100.4 248.5h0M78.4 242.0h0M143.4 243.5h0M85.5 229.7h0M127.6 224.8h0M123.0 238.1h0M175.3 244.6h0M102.5 227.0h0M153.6 237.9h0M145.9 253.1h0M120.9 222.7h0M162.7 244.7h0M73.9 215.6h0M78.9 235.7h0M166.4 255.4h0M69.3 247.7h0M101.0 217.6h0M146.3 235.0h0M127.9 220.8h0M167.7 230.6h0M81.1 232.1h0M116.3 218.1h0M139.1 221.6h0M67.8 216.8h0M175.2 248.6h0M146.3 223.6h0M125.7 224.8h0M99.1 241.4h0M115.8 236.3h0M147.6 238.5h0M118.8 237.2h0M92.3 221.6h0M154.7 242.3h0M119.1 221.1h0M64.4 230.9h0M118.6 242.1h0M81.2 231.0h0M97.1 222.4h0M122.2 238.8h0M106.3 235.2h0M171.7 247.2h0M165.1 246.6h0M139.7 253.4h0M91.8 223.2h0M152.9 235.5h0M109.7 236.4h0M167.7 248.0h0M126.5 232.8h0M103.1 238.0h0M120.5 235.6h0M142.0 253.4h0M171.0 233.9h0M122.6 226.7h0M67.7 256.0h0M153.6 246.6h0M174.6 222.4h0M139.0 247.5h0M134.3 260.5h0M170.1 243.7h0M155.6 250.9h0M67.7 204.5h0M82.7 231.9h0M128.4 236.9h0M157.1 223.4h0M126.7 226.6h0M136.9 241.3h0M100.6 242.5h0M155.9 250.2h0M65.8 216.8h0M68.0 216.3h0M106.9 224.1h0M137.1 249.8h0M177.9 246.7h0M118.1 230.6h0M121.6 231.6h0M65.8 220.6h0M168.8 226.6h0M76.6 228.9h0M152.7 251.4h0M108.6 242.6h0M177.3 241.9h0M126.9 247.2h0M63.3 231.0h0M174.1 247.5h0M98.0 240.8h0M142.0 254.1h0M94.8 245.4h0M148.1 246.6h0M69.1 222.0h0M81.3 221.9h0M100.9 224.9h0M89.1 227.5h0M143.5 246.6h0M159.5 246.9h0M134.3 244.3h0M69.8 245.7h0M105.0 235.9h0M155.0 233.2h0M104.8 241.5h0M84.6 217.1h0M61.5 203.9h0M167.4 254.7h0M112.9 239.8h0M126.8 237.1h0M95.1 239.4h0M162.1 237.5h0M127.7 238.5h0M119.1 256.3h0M83.8 225.4h0M158.6 239.3h0M62.4 209.9h0M120.4 225.1h0M175.8 255.5h0M110.9 237.1h0M168.6 252.3h0M93.9 220.4h0M163.4 253.4h0M127.4 235.3h0M150.2 232.0h0M60.5 218.7h0M140.8 240.2h0M63.6 219.3h0M85.5 233.4h0M130.9 233.3h0M80.1 234.7h0M147.2 230.1h0M143.6 258.6h0M161.4 240.3h0M177.0 255.5h0M143.1 227.5h0M115.1 250.7h0M62.4 212.9h0M70.5 224.4h0M168.5 241.8h0M152.5 245.5h0M121.7 247.9h0M109.8 235.5h0M144.8 221.2h0M126.2 239.2h0M69.9 250.4h0M166.5 234.6h0M81.7 236.1h0M149.1 249.1h0M166.6 252.0h0M86.3 247.9h0M103.5 239.6h0M59.9 216.1h0M126.5 228.4h0M66.4 224.7h0M164.6 245.6h0M92.3 237.9h0M96.6 220.9h0M87.5 234.6h0M123.3 238.6h0M126.9 243.2h0M135.3 224.0h0M81.2 221.7h0M159.5 230.1h0M93.7 254.1h0M128.3 237.1h0M93.1 239.1h0M117.6 251.7h0M79.4 225.0h0M104.2 229.5h0M177.6 243.3h0M153.5 230.1h0M68.9 237.5h0M163.7 229.6h0M170.1 256.1h0M79.6 232.2h0M82.9 236.9h0M154.2 260.1h0M69.3 219.0h0M137.3 236.5h0M109.1 236.1h0M75.9 234.1h0M60.4 235.5h0M147.6 245.8h0M117.9 234.7h0M122.1 236.3h0M90.8 228.1h0M170.1 258.8h0M150.2 241.6h0M59.5 210.4h0M72.4 241.1h0M142.1 244.8h0M136.1 218.2h0M168.8 249.0h0M165.8 239.0h0M162.8 241.6h0M129.9 238.3h0M108.3 247.1h0M85.3 231.1h0M164.0 247.8h0M122.1 250.9h0M84.1 233.9h0M90.2 229.0h0M158.1 234.1h0M90.5 220.1h0M114.6 220.2h0M143.4 237.9h0M91.4 213.4h0M89.6 213.2h0M82.3 231.6h0M124.2 216.1h0M156.6 256.5h0M100.8 224.8h0M150.7 245.7h0M88.4 232.0h0M64.0 232.1h0M169.3 229.5h0M157.6 246.9h0M182.2 253.5h0M180.2 246.4h0M97.1 240.4h0M139.8 225.0h0M81.1 210.2h0M121.6 232.0h0M133.0 232.6h0M142.4 226.3h0M91.9 239.7h0M115.3 249.4h0M169.5 244.8h0M81.4 211.6h0M173.2 235.8h0M182.3 246.4h0M89.6 232.3h0M90.1 247.7h0M77.7 220.8h0M69.7 223.1h0M158.2 238.6h0M158.8 231.8h0M95.8 229.2h0M64.2 218.3h0M172.6 243.3h0M70.2 231.1h0M141.5 242.5h0M117.9 229.1h0M137.1 243.7h0M66.0 211.1h0M122.7 246.9h0M152.7 249.5h0M122.8 235.2h0M123.4 222.8h0M84.5 244.8h0M130.7 250.3h0M144.3 228.6h0M156.3 243.3h0M90.7 234.6h0M119.7 246.3h0M150.0 252.3h0M173.8 234.8h0M158.7 244.0h0M159.0 250.6h0M116.3 237.8h0M172.8 242.7h0M104.5 224.8h0M100.9 226.1h0M74.9 234.8h0M89.2 234.2h0M61.4 215.4h0M168.0 245.2h0M145.3 220.6h0M139.9 241.9h0M93.8 260.0h0M76.5 232.1h0M179.6 244.9h0M151.9 236.4h0M63.3 230.6h0M81.9 216.9h0M156.9 247.9h0M78.3 221.2h0M158.9 224.5h0M126.3 232.9h0M63.7 210.9h0M121.7 234.7h0M93.3 225.3h0M146.2 228.6h0M63.2 234.8h0M153.8 243.9h0M83.0 213.1h0M145.1 216.8h0M170.4 252.2h0M139.6 223.1h0M122.8 233.9h0M62.5 237.5h0M100.2 238.4h0M97.3 231.9h0M115.4 230.9h0M122.8 236.2h0M106.7 218.3h0M134.4 243.5h0M72.5 238.3h0M169.5 253.1h0M129.5 236.5h0M182.7 258.8h0M82.1 213.7h0M149.0 244.2h0M119.2 233.0h0M171.9 226.2h0M60.1 235.7h0M67.6 241.9h0M166.6 230.1h0M157.7 222.7h0M175.6 248.3h0M76.5 225.8h0M146.6 225.5h0M177.4 259.5h0M74.9 225.8h0M95.8 245.3h0M62.2 212.4h0M108.9 222.1h0M104.9 229.0h0M80.9 215.6h0M178.3 243.3h0M125.7 256.1h0M146.6 246.4h0M112.9 245.2h0M128.8 226.2h0M181.6 256.0h0M152.4 232.9h0M106.0 234.7h0M135.4 229.9h0M80.2 240.2h0M61.0 222.0h0M177.0 228.8h0M163.3 230.1h0M165.2 222.4h0M139.3 237.0h0M68.8 242.7h0M144.2 232.4h0M179.3 244.9h0M178.3 250.2h0M110.6 239.5h0M67.7 228.1h0M170.7 258.6h0M147.2 247.7h0M128.8 244.8h0M63.7 233.0h0M177.7 259.1h0M83.0 225.9h0M153.5 226.0h0M145.1 245.0h0M115.7 227.6h0M180.8 249.3h0M112.7 219.1h0M86.9 226.4h0M173.9 225.2h0M131.0 249.0h0M59.8 234.0h0M100.3 221.3h0M163.9 234.3h0M119.8 257.5h0M73.1 227.3h0M174.6 255.1h0M71.5 227.1h0M79.3 226.1h0M75.7 230.2h0M100.4 229.9h0M88.1 238.3h0M71.2 238.5h0M180.0 243.3h0M118.7 233.7h0M88.7 231.5h0M74.7 228.8h0M174.0 243.3h0M178.4 236.5h0M90.1 224.4h0M132.7 257.1h0M124.5 242.6h0M176.9 231.3h0M75.8 228.3h0M163.1 256.2h0M158.6 244.1h0M173.4 219.2h0M174.9 258.8h0M134.2 237.7h0M86.2 212.7h0M114.7 223.6h0M91.5 232.4h0M135.6 237.8h0M112.9 245.8h0M103.0 228.0h0M95.6 233.1h0M99.6 213.2h0M98.5 230.2h0M75.9 217.4h0M92.6 241.0h0M124.2 236.9h0M137.1 241.4h0M107.9 231.8h0M74.5 213.1h0M123.7 233.6h0M168.9 227.4h0M121.8 257.1h0M138.4 221.5h0M172.6 227.3h0M98.3 213.4h0M179.0 244.1h0M123.8 234.8h0M125.7 252.9h0M101.1 247.0h0M106.0 243.3h0M104.5 245.8h0M163.1 243.1h0M107.4 236.9h0M109.9 222.1h0M129.7 209.1h0M131.7 239.6h0M89.2 239.0h0M80.1 238.0h0M128.9 241.8h0M152.0 243.7h0M140.4 257.9h0M175.3 257.4h0M87.1 230.5h0M161.3 253.8h0M120.5 241.0h0M144.8 241.7h0M92.2 222.0h0M95.0 241.0h0M176.7 238.0h0M86.5 223.7h0M93.8 242.0h0M67.3 221.1h0M97.1 223.1h0M103.8 236.8h0M180.4 259.4h0M74.9 246.5h0M168.9 238.3h0M170.9 249.6h0M66.8 228.4h0M150.4 237.0h0M135.8 244.5h0M159.7 230.5h0M86.0 217.3h0M113.6 241.0h0M108.4 251.8h0M179.6 243.9h0M124.7 236.9h0M124.2 235.9h0M182.3 254.5h0M60.4 238.6h0M142.4 244.9h0M69.8 217.4h0M118.0 254.2h0M120.1 248.4h0M150.3 240.8h0M155.3 253.1h0M155.5 248.7h0M112.5 236.3h0M126.5 232.3h0M148.6 243.4h0M111.0 216.7h0M167.9 244.1h0M120.7 246.2h0M80.5 227.3h0M133.0 254.8h0M95.9 236.1h0M156.0 257.5h0M182.8 245.3h0M170.2 259.7h0M162.0 232.8h0M181.6 259.4h0M162.2 249.7h0M104.1 239.1h0M157.1 256.5h0M95.8 229.0h0M106.1 241.0h0M89.7 220.2h0M114.2 238.9h0M81.4 238.9h0M91.2 231.2h0M151.0 240.0h0M62.4 217.7h0M130.8 242.6h0M135.3 258.8h0M170.2 244.4h0M136.2 250.6h0M162.0 226.5h0M97.2 231.4h0M71.7 229.0h0M175.7 239.4h0M105.0 239.6h0M142.0 236.5h0M130.7 237.8h0M64.4 228.3h0M173.9 246.2h0M109.5 228.7h0M102.3 213.8h0M152.4 250.3h0M122.2 243.0h0M108.0 228.0h0M109.0 246.3h0M101.4 242.9h0M84.6 242.0h0M81.8 238.4h0M130.6 235.9h0M119.1 228.5h0M143.0 237.2h0M96.2 242.9h0M167.5 239.6h0M115.5 230.4h0M177.1 234.3h0M82.8 223.6h0M119.2 218.0h0M122.5 229.6h0M151.3 240.7h0M148.3 250.6h0M68.1 245.7h0M73.1 213.2h0M117.0 231.5h0M181.0 237.6h0M125.4 246.8h0M160.5 247.5h0M90.0 244.9h0M131.2 215.6h0M114.3 221.7h0M127.8 237.5h0M136.1 234.2h0M100.0 223.3h0M85.8 223.4h0M80.2 241.2h0M116.4 220.2h0M90.0 226.9h0M77.2 234.0h0M116.2 224.6h0M167.7 244.7h0M178.9 229.8h0M76.8 232.9h0M170.4 235.8h0M122.3 228.8h0M90.3 222.6h0M75.9 219.0h0M102.4 214.6h0M112.6 225.1h0M94.7 219.5h0M179.8 245.0h0M170.6 224.8h0M132.7 241.8h0M112.0 218.9h0M176.2 233.7h0M144.7 241.3h0M61.3 233.2h0M82.6 225.5h0M126.3 218.3h0M110.2 214.5h0M111.9 228.7h0M134.2 221.4h0M98.9 214.6h0M144.2 251.6h0M159.8 256.7h0M74.0 211.4h0M70.2 218.9h0M96.6 222.6h0M96.3 216.7h0M151.9 243.5h0M85.9 233.0h0M138.7 244.6h0M161.1 231.1h0M174.0 247.3h0M170.9 237.6h0M140.6 231.9h0M144.1 225.9h0M175.5 245.5h0M104.9 235.8h0M79.2 234.8h0M117.6 219.4h0M85.0 224.4h0M137.2 242.6h0M136.7 253.1h0M81.5 250.9h0M135.5 237.1h0M168.1 230.1h0M122.5 236.2h0M71.7 220.3h0M94.8 234.7h0M68.5 217.5h0M83.0 231.1h0M98.1 250.9h0M129.2 230.5h0M142.3 221.5h0M109.2 248.1h0M73.2 233.3h0M150.5 236.3h0M81.0 254.1h0M80.2 238.1h0M182.6 227.3h0M116.0 256.4h0M70.4 235.5h0M152.7 242.9h0M77.4 226.6h0M128.7 237.2h0M88.9 238.0h0M91.6 222.2h0M168.8 240.6h0M115.6 252.4h0M110.4 227.0h0M123.4 231.2h0M94.7 216.5h0M135.8 254.1h0M126.5 238.1h0M99.5 225.0h0M164.5 231.8h0M105.5 243.8h0M108.1 213.4h0M93.1 237.5h0M163.9 222.1h0M142.1 248.5h0M106.0 248.2h0M113.7 239.4h0M82.5 224.4h0M86.5 217.4h0M133.3 235.5h0M94.3 216.7h0M90.4 240.3h0M146.8 241.7h0M121.3 234.3h0M151.7 244.1h0M102.0 239.9h0M106.8 243.3h0M81.2 225.8h0M171.5 231.0h0M126.4 249.9h0M168.6 244.5h0M83.3 217.8h0M152.5 248.2h0M78.5 238.3h0M72.1 234.1h0M144.9 241.2h0M92.0 233.6h0M172.3 247.1h0M159.3 242.1h0M119.4 237.7h0M86.7 229.9h0M168.4 237.7h0M181.1 233.0h0M125.0 213.6h0M77.1 236.4h0M106.0 242.3h0M79.8 236.8h0M68.5 221.4h0M86.2 231.9h0M119.6 230.6h0M130.1 243.1h0M102.7 255.3h0M155.3 245.1h0M103.1 227.3h0M107.2 235.2h0M139.3 240.4h0M110.5 227.9h0M124.6 244.2h0M107.2 247.8h0M144.8 228.5h0M116.6 250.1h0M104.2 235.6h0M126.1 239.2h0M104.1 218.1h0M101.0 257.7h0M144.9 232.2h0M135.6 223.5h0M138.3 243.9h0M153.6 250.5h0M182.2 242.5h0M163.2 245.8h0M177.6 229.8h0M112.7 237.5h0M169.4 235.3h0M116.6 233.7h0M108.4 233.3h0M102.6 251.8h0M109.6 232.0h0M162.7 254.2h0M62.1 225.5h0M170.2 233.2h0M117.5 242.1h0M139.0 259.7h0M70.1 228.7h0M94.5 230.3h0M159.1 244.4h0M160.0 240.7h0M131.6 227.1h0M133.8 256.6h0M125.0 244.0h0M117.2 227.9h0M162.5 242.8h0M108.9 232.7h0M121.5 241.2h0M99.6 213.7h0M79.2 240.0h0M148.6 215.6h0M151.7 234.9h0M148.3 252.7h0M113.1 252.1h0M77.3 219.9h0M169.2 239.2h0M132.1 236.2h0M83.4 232.3h0M144.0 236.5h0M131.1 220.7h0M126.7 216.5h0M140.2 231.8h0M94.7 214.2h0M141.5 247.9h0M115.2 224.4h0M75.9 209.2h0M170.3 230.6h0M77.8 241.9h0M106.8 231.0h0M179.5 242.3h0M162.0 239.8h0M92.6 241.8h0M89.2 217.8h0M173.8 242.2h0M113.3 234.9h0M178.3 226.7h0M91.0 233.9h0M107.6 233.0h0M81.5 253.1h0M139.0 228.5h0M87.0 225.2h0M113.8 227.0h0M114.4 224.2h0M125.7 242.3h0M136.9 257.1h0M127.9 238.5h0M145.4 244.2h0M103.8 233.4h0M154.4 253.7h0M146.3 233.7h0M147.9 216.7h0M109.3 240.3h0M154.4 258.6h0M182.1 245.0h0M151.0 255.4h0M129.3 241.6h0M129.0 228.6h0M155.1 241.2h0M93.6 247.5h0M62.4 218.3h0M88.9 235.3h0M150.9 238.0h0M87.3 237.7h0M153.6 242.0h0M132.0 227.2h0M139.2 236.6h0M75.7 213.5h0M173.5 247.5h0M149.8 248.4h0M144.9 237.9h0M101.4 228.9h0M119.5 229.7h0M149.8 223.8h0M109.3 235.6h0M118.1 234.3h0M166.3 248.9h0M175.0 253.8h0M75.9 248.3h0M161.3 230.9h0M87.2 224.0h0M139.6 248.9h0M147.3 236.4h0M110.5 220.6h0M81.4 222.8h0M112.9 241.5h0M75.8 231.7h0M128.6 242.6h0M78.7 227.5h0M77.4 223.6h0M87.0 221.6h0M146.1 233.2h0M112.9 226.4h0M167.1 248.0h0M162.4 236.2h0M111.2 228.6h0M88.9 215.8h0M127.1 234.0h0M137.4 228.3h0M167.3 248.0h0M129.6 238.1h0M146.9 248.0h0M89.3 234.4h0M102.3 239.3h0M116.5 243.2h0M133.9 240.6h0M73.2 233.3h0M126.6 249.7h0M168.9 258.4h0M72.8 208.8h0M132.2 230.1h0M112.6 226.7h0M147.4 232.6h0M123.1 224.9h0M60.7 238.7h0M154.9 240.3h0M148.6 231.4h0M129.0 227.2h0M154.8 235.8h0M65.5 217.0h0M142.8 259.9h0M83.5 215.4h0M102.3 241.6h0M168.5 246.7h0M129.2 242.0h0M90.3 232.7h0M145.9 243.1h0M73.1 236.3h0M127.1 236.5h0M64.1 216.3h0M69.3 224.9h0M162.3 252.4h0M69.7 223.7h0M133.5 218.8h0M172.4 260.7h0M171.2 246.3h0M172.9 240.8h0M112.5 240.6h0M92.6 224.3h0M170.3 238.1h0M96.1 225.4h0M93.4 219.2h0M104.3 214.4h0M143.1 240.0h0M81.2 229.5h0M129.6 239.8h0M167.9 243.3h0M59.6 228.2h0M128.0 223.3h0M135.6 245.4h0M174.7 232.8h0M126.2 253.6h0M79.4 226.7h0M126.3 225.5h0M70.4 242.9h0M163.1 249.4h0M177.3 229.3h0M100.6 243.1h0M143.3 244.0h0M147.8 244.5h0M70.9 234.0h0M93.6 234.2h0M110.4 219.4h0M126.9 248.1h0M160.0 255.3h0M102.2 229.0h0M69.5 227.8h0M110.3 238.7h0M152.7 255.8h0M112.1 228.9h0M73.5 236.4h0M151.6 245.8h0M62.6 220.1h0M89.8 226.8h0M109.6 249.5h0M156.0 230.7h0M68.9 226.7h0M92.0 248.6h0M70.8 230.0h0M131.7 240.6h0M65.4 223.1h0M65.6 248.0h0M134.5 238.9h0M112.6 242.5h0M115.8 221.4h0M131.5 243.6h0M119.8 243.2h0M180.0 238.8h0M96.4 226.0h0M111.6 241.9h0M118.4 239.6h0M140.6 240.3h0M89.4 217.4h0M142.6 251.9h0M133.9 233.5h0M121.7 219.1h0M114.0 234.5h0M139.0 237.0h0M69.0 230.0h0M154.6 260.3h0M107.0 225.2h0M169.5 244.3h0M94.1 241.5h0M61.6 213.1h0M91.3 215.6h0M174.8 248.3h0M167.4 244.6h0M97.2 242.0h0M85.5 208.3h0M141.7 242.5h0M167.3 232.4h0M87.5 212.6h0M176.7 254.4h0M98.5 248.8h0M119.5 248.6h0M112.2 215.6h0M93.8 242.3h0M78.9 228.8h0M160.8 260.9h0M144.1 252.1h0M74.3 227.3h0M103.0 237.0h0M88.1 215.6h0M174.7 242.4h0M119.3 224.3h0M86.9 245.3h0M59.8 224.7h0M141.6 252.9h0M124.3 238.5h0M151.0 238.2h0M154.4 232.2h0M159.2 238.0h0M150.4 227.2h0M69.5 228.2h0M105.4 235.8h0M138.4 243.7h0M81.5 223.8h0M145.2 254.3h0M129.1 238.7h0M158.1 228.6h0M144.0 250.6h0M146.4 255.8h0M151.7 247.1h0M64.0 223.8h0M107.6 220.2h0M170.5 246.4h0M153.1 248.7h0M89.5 237.3h0M179.1 255.3h0M171.5 250.8h0M139.5 233.8h0M85.2 238.0h0M158.5 250.8h0M106.4 231.0h0M144.6 241.1h0M106.5 258.5h0M148.4 250.9h0M86.5 222.1h0M138.3 227.5h0M80.0 237.3h0M141.5 236.0h0M106.2 225.8h0M136.0 235.4h0M180.2 235.1h0M125.7 240.8h0M104.1 234.9h0M112.9 239.3h0M117.1 236.5h0M123.8 239.9h0M120.7 241.1h0M180.9 244.4h0M129.4 240.4h0M108.2 238.0h0M157.2 234.8h0M128.9 242.5h0M171.9 235.8h0M72.1 225.4h0M144.2 230.7h0M65.1 206.3h0M156.3 238.0h0M106.5 242.8h0M86.7 232.8h0M82.0 221.0h0M128.4 229.8h0M163.1 252.5h0M138.5 226.8h0M101.2 231.4h0M158.1 229.4h0M113.4 219.1h0M156.7 239.4h0M154.6 242.8h0M96.7 222.5h0M94.5 254.2h0M159.4 254.3h0M61.9 215.5h0M137.5 235.7h0M164.9 240.7h0M69.1 218.5h0M130.6 242.1h0M122.7 243.1h0M72.0 227.6h0M173.6 239.8h0M81.9 237.6h0M138.4 233.9h0M180.0 258.8h0M102.3 235.5h0M179.8 226.4h0M98.7 239.2h0M148.1 249.6h0M114.3 228.8h0M171.7 233.1h0M84.2 217.3h0M131.6 240.9h0M121.6 235.4h0M150.1 242.4h0M109.5 236.7h0M154.0 228.4h0M91.7 215.6h0M135.8 239.3h0M128.8 233.5h0M105.6 229.7h0M107.6 225.6h0M92.0 214.4h0M112.0 247.1h0M77.0 229.7h0M159.0 218.1h0M166.0 235.6h0M172.5 239.3h0M158.4 248.9h0M144.2 244.5h0M164.6 243.9h0M111.7 238.3h0M90.5 258.6h0M70.3 227.3h0M181.3 243.3h0M138.5 232.9h0M144.4 216.5h0M92.5 224.5h0M170.7 257.1h0M81.2 248.6h0M127.8 222.0h0M171.2 230.5h0M133.3 229.3h0M116.2 231.0h0M104.8 223.0h0M119.5 215.2h0M110.2 232.6h0M75.5 216.7h0M178.9 247.6h0M111.1 233.1h0M101.1 227.8h0M92.7 233.9h0M166.6 249.0h0M71.0 238.0h0M120.9 226.7h0M121.5 223.4h0M163.3 247.1h0M137.2 232.2h0M59.6 232.6h0M93.2 212.8h0M76.5 237.8h0M114.5 243.3h0M160.6 243.4h0M146.2 230.8h0M81.3 245.9h0M149.9 241.6h0M114.6 221.5h0M135.7 235.9h0M176.8 225.7h0M159.1 235.5h0M147.1 259.7h0M155.0 244.1h0M140.5 227.8h0M92.8 244.6h0M137.5 240.9h0M170.0 250.1h0M134.8 252.2h0M151.5 242.3h0M61.4 230.4h0M106.6 229.8h0M163.4 241.7h0M83.6 224.2h0M89.7 221.0h0M82.5 234.6h0M168.1 230.7h0M105.7 224.7h0M181.8 237.2h0M149.0 252.4h0M80.9 213.1h0M113.6 228.5h0M107.2 260.4h0M88.7 220.2h0M173.2 248.8h0M169.3 229.4h0M163.2 251.8h0M176.5 234.5h0M88.3 226.0h0M154.0 236.9h0M179.8 233.7h0M92.7 230.6h0M142.9 240.1h0M99.5 233.2h0M151.2 222.1h0M105.9 225.3h0M141.2 241.1h0M139.4 230.1h0M64.4 217.1h0M91.8 221.2h0M158.1 242.6h0M133.9 223.3h0M173.5 251.0h0M69.1 228.1h0M98.0 234.3h0M62.7 220.9h0M96.8 206.7h0M159.4 240.6h0M177.5 246.1h0M180.9 247.1h0M169.5 256.6h0M61.9 221.1h0M60.1 224.0h0M131.1 223.6h0M114.8 229.0h0M179.7 240.6h0M157.5 254.7h0M100.4 238.2h0M148.6 242.2h0M148.6 236.6h0M80.0 224.0h0M142.5 243.0h0M87.6 231.1h0M102.4 239.6h0M157.6 238.1h0M143.8 235.8h0M108.4 227.9h0M139.8 230.5h0M166.1 252.6h0M163.0 253.8h0M78.6 228.0h0M72.3 235.0h0M128.6 232.1h0M170.0 239.2h0M132.0 235.6h0M85.9 229.2h0M61.6 217.5h0M166.2 240.1h0M165.4 249.9h0M145.8 249.4h0M77.1 214.4h0M171.4 235.2h0M123.9 237.1h0M121.0 235.7h0M110.7 231.2h0M125.5 230.3h0M101.7 213.8h0M182.8 249.2h0M114.6 225.5h0M127.1 260.7h0M102.5 227.3h0M88.8 203.7h0M127.7 232.5h0M123.5 231.8h0M110.9 249.6h0M166.8 229.1h0M111.3 228.0h0M83.7 239.2h0M90.5 228.8h0M136.4 239.5h0M155.9 237.9h0M134.5 231.1h0M162.4 238.5h0M137.2 235.9h0M164.0 233.2h0M108.3 238.7h0M166.6 234.1h0M89.5 222.7h0M71.2 212.5h0M119.7 210.9h0M89.0 229.1h0M92.2 221.2h0M93.9 247.6h0M86.6 220.2h0M108.3 243.8h0M79.0 215.0h0M137.6 244.2h0M122.5 226.9h0M124.9 244.6h0M105.4 220.9h0M158.7 230.0h0M92.3 229.7h0M107.9 240.5h0M165.9 229.4h0M112.9 230.8h0M90.5 217.3h0M148.5 257.8h0M177.8 246.0h0M102.0 239.4h0M162.5 232.3h0M110.0 226.0h0M79.2 223.9h0M110.5 243.2h0M62.8 233.6h0M65.2 251.5h0M120.0 231.0h0M130.3 230.9h0M74.8 227.0h0M116.8 224.2h0M130.0 242.8h0M67.9 221.7h0M110.3 245.3h0M113.4 222.1h0M76.9 224.4h0M105.9 233.2h0M75.5 216.0h0M144.7 241.8h0M76.8 223.7h0M95.5 222.5h0M174.4 243.3h0M125.1 233.9h0M147.2 232.3h0M88.1 225.0h0M86.6 237.2h0M141.1 237.8h0M110.7 231.7h0M69.7 209.6h0M64.5 250.5h0M135.1 241.6h0M111.7 235.4h0M77.9 223.4h0M99.7 218.9h0M83.3 247.1h0M120.4 236.3h0M114.3 233.3h0M144.9 245.5h0M68.8 216.4h0M117.3 221.7h0M89.4 226.5h0M87.9 252.3h0M116.5 260.6h0M166.1 226.0h0M86.4 227.4h0M177.9 241.8h0M92.6 226.7h0M182.6 234.9h0M118.6 225.4h0M170.4 248.6h0M122.4 220.7h0M167.2 238.0h0M159.2 258.0h0M144.7 252.1h0M104.3 239.2h0M164.7 241.4h0M90.4 224.3h0M132.2 235.3h0M68.3 240.7h0M112.1 235.2h0M87.4 225.5h0M147.4 247.5h0M93.3 242.0h0M172.9 238.3h0M70.8 222.9h0M148.0 226.0h0M76.6 232.8h0M93.3 243.1h0M79.9 232.7h0M137.1 246.0h0M95.7 231.0h0M140.0 222.3h0M64.4 206.2h0M81.5 243.9h0M142.6 242.8h0M172.4 254.9h0M144.0 226.4h0M174.1 237.9h0M89.6 234.0h0M73.1 242.9h0M95.2 240.8h0M180.9 244.2h0M161.1 240.1h0M66.3 230.9h0M119.3 242.3h0M64.3 253.7h0M179.7 239.7h0M113.6 230.6h0M66.5 225.2h0M150.8 248.1h0M64.7 232.3h0M80.7 200.1h0M157.1 234.1h0M140.6 232.4h0M77.1 217.0h0M126.1 235.4h0M102.7 219.0h0M79.0 243.6h0M139.5 246.0h0M83.6 241.6h0M69.5 221.3h0M83.5 242.0h0M79.2 224.1h0M61.6 232.8h0M79.2 252.6h0M117.0 251.5h0M165.6 232.0h0M80.5 215.0h0M168.6 230.3h0M73.2 223.6h0M103.6 247.2h0M175.4 257.7h0M109.7 240.2h0M158.1 246.0h0M109.7 230.2h0M182.9 255.2h0M125.2 245.6h0M110.5 256.2h0M169.6 246.0h0M86.1 223.6h0M118.5 221.9h0M115.8 227.7h0M120.8 245.0h0M65.2 231.2h0M71.3 234.0h0M124.8 236.3h0M120.5 251.3h0M144.6 230.0h0M86.4 222.1h0M119.2 231.6h0M171.7 252.4h0M157.9 234.3h0M85.8 234.9h0M92.4 239.2h0M132.0 241.0h0M131.3 247.5h0M60.8 217.0h0M179.8 239.5h0M176.1 258.6h0M139.2 255.9h0M170.6 253.0h0M97.8 234.3h0M138.0 249.7h0M72.8 227.9h0M60.5 231.2h0M126.2 216.8h0M130.0 243.4h0M77.6 229.7h0M83.5 240.9h0M153.3 235.4h0M123.7 239.5h0M84.2 221.5h0M105.7 230.3h0M100.9 232.3h0M97.8 234.2h0M84.6 223.9h0M147.3 257.4h0M175.3 236.8h0M79.9 207.9h0M109.5 233.9h0M66.3 231.1h0M115.4 225.1h0M91.6 227.0h0M122.0 229.5h0M116.6 245.3h0M81.6 239.8h0M82.6 235.2h0M175.7 254.6h0M62.7 236.6h0M72.8 243.5h0M102.2 233.8h0M66.2 212.9h0M133.9 245.2h0M101.4 234.5h0M124.4 233.5h0M118.2 215.2h0M146.0 248.2h0M146.2 248.2h0M73.0 242.1h0M154.4 236.0h0M137.9 221.2h0M174.1 249.9h0M128.6 235.3h0M139.5 258.7h0M155.3 247.8h0M169.5 257.2h0M97.2 219.8h0M86.2 221.6h0M170.2 246.9h0M130.4 253.0h0M135.5 229.4h0M72.4 241.8h0M97.8 237.4h0M160.7 245.4h0M162.0 233.3h0M61.9 212.0h0M163.4 236.9h0M170.7 225.1h0M157.4 259.4h0M154.1 250.0h0M78.3 215.5h0M123.9 230.2h0M68.3 232.4h0M77.3 234.5h0M168.5 236.3h0M173.0 234.2h0M144.8 232.8h0M71.6 243.2h0M156.9 250.7h0M59.7 236.6h0M67.8 211.8h0M182.7 255.4h0M74.3 252.4h0M128.1 244.7h0M103.1 224.2h0M81.6 225.7h0M152.7 222.2h0M162.1 236.0h0M105.9 227.6h0M95.7 239.4h0M90.7 233.4h0M181.1 250.9h0M116.9 248.0h0M118.0 237.4h0M98.9 233.5h0M113.3 227.1h0M168.7 237.8h0M131.8 240.8h0M95.5 243.2h0M129.5 221.8h0M134.7 231.8h0M175.0 231.3h0M123.4 235.6h0M146.6 249.7h0M150.0 253.5h0M106.4 242.9h0M114.1 244.7h0M94.7 247.9h0M82.7 237.6h0M137.9 244.0h0M59.7 234.7h0M137.0 222.4h0M139.9 250.5h0M74.6 217.7h0M115.0 239.5h0M182.7 241.9h0M132.6 235.8h0M183.0 254.6h0M103.9 231.1h0M75.2 209.1h0M103.3 207.7h0M169.5 223.4h0M127.2 223.7h0M112.8 218.6h0M88.2 223.9h0M168.6 253.4h0M147.5 225.5h0M103.4 233.1h0M71.3 230.4h0M161.1 227.8h0M121.8 225.5h0M84.3 229.7h0M168.0 244.7h0M77.2 226.5h0M97.6 220.4h0M107.5 233.0h0M69.3 219.9h0M80.2 220.9h0M180.4 259.5h0M116.0 231.5h0M100.7 232.0h0M69.7 241.4h0M62.5 210.2h0M139.8 235.4h0M163.6 240.0h0M160.4 240.0h0M132.9 218.6h0M163.8 243.5h0M122.4 235.5h0M146.3 231.1h0M79.0 215.9h0M149.0 256.5h0M99.9 246.3h0M111.0 255.1h0M181.8 246.9h0M96.5 223.9h0M120.8 233.4h0M172.6 241.6h0M65.3 236.7h0M167.0 230.5h0M155.0 242.7h0M113.6 214.1h0M129.7 230.0h0M154.4 250.3h0M74.2 248.3h0M82.6 241.8h0M100.3 225.2h0M120.6 239.3h0M66.4 228.5h0M179.7 239.2h0M137.5 234.3h0M111.2 228.6h0M66.3 234.7h0M126.0 247.3h0M76.4 229.4h0M71.4 231.6h0M66.5 222.6h0M124.4 242.4h0M167.6 232.0h0M112.1 227.3h0M175.4 225.9h0M126.1 226.2h0M89.5 226.9h0M144.3 240.0h0M79.3 224.6h0M173.0 227.4h0M65.0 234.1h0M132.9 229.6h0M89.7 211.6h0M117.2 229.7h0M151.8 241.4h0M162.0 242.9h0M67.0 220.0h0M153.8 238.5h0M104.4 226.4h0M86.8 238.2h0M150.2 230.1h0M98.8 240.6h0M126.9 242.8h0M163.9 234.3h0M69.8 225.1h0M111.6 231.8h0M96.0 246.2h0M98.8 235.3h0M61.1 249.1h0M139.2 228.2h0M182.5 233.1h0M83.1 228.8h0M141.4 239.7h0M135.1 241.7h0M139.0 243.5h0M147.1 235.9h0M182.5 245.9h0M179.0 251.7h0M125.5 254.8h0M173.5 247.1h0M125.1 225.9h0M160.6 247.6h0M78.1 206.9h0M119.3 218.3h0M108.4 242.3h0M92.7 220.0h0M123.1 253.2h0M121.1 230.4h0M128.1 244.7h0M151.5 252.5h0M131.2 237.0h0M160.3 234.6h0M89.0 236.8h0M92.5 245.4h0M60.6 219.6h0M157.7 240.0h0M78.7 221.5h0M150.4 223.5h0M94.9 245.0h0M127.7 240.2h0M164.9 247.5h0M121.1 230.6h0M148.2 239.4h0M94.3 214.9h0M81.6 235.7h0M67.7 229.8h0M75.9 241.3h0M67.0 226.7h0M65.7 224.1h0M149.6 238.2h0M77.2 216.8h0M98.6 224.0h0M71.4 231.7h0M140.0 232.9h0M181.8 246.2h0M140.9 223.6h0M72.9 236.2h0M131.3 253.1h0M66.3 240.5h0M173.0 241.9h0M106.2 242.3h0M66.2 213.7h0M75.9 226.9h0M172.1 233.7h0M176.3 242.3h0M93.9 240.7h0M84.2 227.7h0M133.1 225.1h0M91.7 231.6h0M71.8 212.1h0M130.6 251.2h0M81.9 225.2h0M108.8 259.2h0M116.7 234.7h0M119.6 227.7h0M81.9 234.1h0M175.0 246.9h0M67.3 240.6h0M126.6 223.4h0M138.8 257.9h0M114.5 228.9h0M157.9 234.2h0M136.6 243.1h0M139.8 251.9h0M63.2 252.9h0M130.2 245.5h0M180.2 256.5h0M160.9 236.6h0M141.8 241.8h0M158.6 258.0h0M119.1 230.8h0M108.9 210.7h0M169.4 255.9h0M179.5 252.1h0M75.6 209.6h0M124.2 238.6h0M141.9 225.4h0M167.2 254.7h0M138.8 235.0h0M143.3 233.0h0M141.4 241.7h0M78.5 234.5h0M75.0 239.3h0M152.6 218.0h0M82.3 243.9h0M127.3 245.6h0M88.1 241.8h0M143.5 254.9h0M90.1 249.8h0M139.8 224.2h0M160.3 238.0h0M181.0 258.8h0M133.0 229.6h0M170.5 246.4h0M135.2 238.7h0M119.0 225.5h0M163.6 234.4h0M79.1 236.3h0M76.1 225.7h0M125.7 238.3h0M72.9 250.2h0M60.5 224.0h0M162.7 246.0h0M170.7 236.8h0M149.5 243.2h0M64.3 214.9h0M170.6 244.2h0M137.6 230.0h0M173.0 239.5h0M155.6 235.1h0M148.5 221.7h0M113.9 213.7h0M114.9 238.4h0M135.4 229.2h0M90.5 237.9h0M136.8 236.9h0M76.6 228.7h0M152.5 256.0h0M100.1 234.7h0M110.1 238.4h0M174.5 224.8h0M101.7 223.3h0M61.6 229.9h0M160.5 247.8h0M140.9 242.7h0M82.7 237.8h0M64.3 219.7h0M69.6 238.6h0M95.3 231.0h0M66.8 256.6h0M134.1 228.8h0M86.0 233.6h0M78.3 228.8h0M159.7 240.9h0M154.1 246.4h0M90.1 237.2h0M163.9 246.0h0M87.7 226.2h0M75.2 229.5h0M95.2 225.8h0M121.9 234.1h0M149.1 242.5h0M169.6 241.4h0M178.4 259.0h0M84.9 211.6h0M147.4 238.1h0M130.1 240.5h0M166.7 247.9h0M145.6 241.9h0M65.4 229.5h0M112.0 239.5h0M144.6 230.6h0M131.4 226.6h0M159.4 242.6h0M79.2 228.5h0M68.5 239.7h0M144.9 232.7h0M134.4 228.8h0M143.7 243.5h0M92.5 245.6h0M132.8 241.6h0M122.9 218.7h0M150.1 260.1h0M118.3 240.3h0M123.7 230.7h0M110.0 233.8h0M83.1 237.4h0M168.5 230.2h0M162.2 241.4h0M122.8 236.4h0M68.5 223.7h0M82.4 232.4h0M145.4 245.1h0M101.0 211.3h0M105.5 234.8h0M120.0 229.0h0M71.5 222.1h0M99.3 213.3h0M65.8 234.7h0M65.6 230.0h0M144.4 239.6h0M170.8 251.5h0M84.9 223.5h0M88.3 223.3h0M118.2 226.2h0M88.4 223.6h0M177.1 252.9h0M96.0 237.9h0M171.9 258.8h0M157.5 254.4h0M147.2 254.5h0M95.7 226.4h0M179.6 246.4h0M81.8 241.1h0M181.8 241.2h0M159.0 222.0h0M177.4 256.2h0M143.9 233.5h0M160.8 252.4h0M132.9 227.1h0M135.7 224.9h0M145.4 235.0h0M98.1 233.3h0M140.7 232.8h0M93.0 248.5h0M176.6 243.4h0M147.7 231.9h0M85.8 238.7h0M165.9 236.4h0M167.5 224.7h0M103.7 246.2h0M100.8 237.0h0M77.9 225.5h0M146.1 255.8h0M94.0 216.1h0M90.5 226.7h0M120.3 221.2h0M112.8 248.6h0M74.6 232.6h0M175.6 250.4h0M179.1 242.1h0M104.4 213.2h0M85.6 221.0h0M155.3 248.7h0M62.9 227.5h0M123.2 234.6h0M112.9 240.4h0M83.6 234.8h0M77.4 223.3h0M170.4 231.4h0M109.7 224.7h0M94.0 247.4h0M75.8 219.0h0M97.5 238.0h0M177.0 247.1h0M105.0 225.2h0M66.0 226.4h0M102.2 239.5h0M148.1 233.2h0M161.0 227.0h0M80.5 230.4h0M142.7 234.7h0M163.6 260.4h0M176.3 230.8h0M135.3 248.5h0M76.0 232.8h0M69.9 233.2h0M84.3 220.2h0M125.7 243.4h0M182.4 243.7h0M175.9 241.0h0M68.8 211.6h0M64.7 236.9h0M149.3 221.9h0M178.0 247.7h0M150.9 247.7h0M182.7 242.8h0M76.6 239.1h0M179.7 249.8h0M159.5 236.1h0M141.4 230.3h0M173.4 236.4h0M120.1 248.5h0M132.5 238.7h0M114.6 231.2h0M180.7 260.2h0M154.7 240.1h0M159.9 248.1h0M158.3 233.8h0M138.3 224.0h0M166.4 235.9h0M127.4 241.9h0M67.4 223.3h0M169.3 241.0h0M132.4 236.1h0M88.5 239.3h0M126.3 237.2h0M145.4 241.2h0M109.0 234.7h0M170.9 256.2h0M99.8 222.0h0M63.0 211.4h0M136.4 240.4h0M109.4 238.3h0M126.4 237.4h0M168.4 243.5h0M85.6 235.1h0M130.9 248.4h0M69.2 214.8h0M99.7 226.3h0M157.1 246.1h0M130.1 238.1h0M181.9 232.7h0M159.2 246.1h0M74.6 234.5h0M152.6 247.1h0M155.3 227.6h0M179.4 246.6h0M116.1 250.1h0M123.6 228.9h0M106.2 229.1h0M147.1 231.3h0M112.6 226.3h0M75.7 207.0h0M175.2 237.3h0M145.9 227.2h0M102.6 237.5h0M68.5 219.5h0M59.6 228.0h0M126.4 221.3h0M98.2 240.6h0M171.2 233.3h0M86.6 230.0h0M165.9 245.2h0M115.2 228.5h0M123.7 242.9h0M80.8 241.4h0M118.5 237.9h0M59.9 206.4h0M146.1 233.2h0M96.8 220.7h0M147.5 236.5h0M86.5 237.7h0M167.2 235.0h0M69.6 232.3h0M134.8 242.5h0M68.3 242.8h0M109.1 249.6h0M145.5 242.3h0M79.8 226.4h0M84.1 223.6h0M136.0 226.2h0M130.1 238.4h0M149.1 241.2h0M73.9 218.9h0M159.8 247.0h0M108.5 228.5h0M159.0 229.7h0M63.6 222.9h0M62.5 246.8h0M89.7 242.9h0M173.4 256.7h0M157.5 241.5h0M105.1 243.3h0M113.5 243.7h0M177.5 242.9h0M97.6 219.3h0M86.9 226.0h0M114.7 225.8h0M152.1 242.2h0M93.8 244.4h0M155.3 236.1h0M82.8 250.1h0M115.5 238.6h0M115.9 248.9h0M138.3 228.7h0M138.4 259.1h0M68.5 229.4h0M160.7 233.6h0M69.4 234.7h0M144.8 249.6h0M107.0 226.1h0M80.9 228.5h0M159.4 244.7h0M86.2 225.9h0M62.3 235.9h0M160.7 247.6h0M86.0 238.6h0M96.2 225.9h0M72.3 235.5h0M117.1 221.2h0M155.0 219.5h0M157.3 232.6h0M149.6 229.8h0M169.3 235.2h0M160.8 239.3h0M129.4 254.3h0M108.1 241.5h0M145.2 251.0h0M91.1 238.0h0M101.3 236.5h0M97.3 237.6h0M121.6 217.0h0M95.3 227.8h0M168.9 241.7h0M171.7 249.1h0M69.8 243.2h0M69.0 231.4h0M85.1 245.5h0M176.0 247.6h0M66.1 225.3h0M115.4 223.1h0M69.2 216.0h0M180.7 244.8h0M101.5 243.6h0M93.7 229.3h0M105.8 235.9h0M72.4 217.0h0M158.0 249.5h0M118.5 242.3h0M114.3 222.7h0M182.0 246.0h0M173.0 248.0h0M82.0 233.1h0M116.0 227.4h0M179.1 255.9h0M135.6 246.5h0M94.0 227.2h0M174.4 234.3h0M95.2 234.2h0M120.4 228.8h0M69.8 223.0h0M134.4 231.9h0M74.5 248.5h0M62.0 239.3h0M110.9 231.7h0M153.4 254.9h0M143.7 237.9h0M104.0 228.5h0M155.3 254.7h0M89.7 220.9h0M98.4 208.7h0M162.0 235.4h0M94.4 217.5h0M164.3 244.7h0M180.6 248.1h0M91.6 241.0h0M74.0 258.1h0M167.9 259.3h0M119.1 252.9h0M83.6 240.7h0M95.6 238.5h0M138.6 228.5h0M65.3 231.5h0M161.2 220.6h0M95.7 221.2h0M76.4 232.4h0M159.9 250.5h0M132.2 235.4h0M68.6 226.3h0M78.2 239.4h0M132.6 253.8h0M135.0 260.0h0M76.1 228.3h0M171.9 234.6h0M170.9 247.8h0M110.3 220.9h0M103.6 221.1h0M170.3 225.5h0M120.4 243.7h0M158.9 241.4h0M139.3 240.4h0M99.2 240.3h0M71.8 219.9h0M60.1 222.3h0M93.2 230.9h0M133.1 239.8h0M147.6 258.6h0M149.4 239.5h0M102.2 215.8h0M78.9 219.0h0M77.4 230.7h0M103.8 247.8h0M123.0 246.2h0M179.1 253.4h0M120.3 247.8h0M126.6 243.2h0M145.3 229.3h0M145.4 229.0h0M160.8 242.8h0M133.1 237.4h0M170.5 243.2h0M124.3 238.8h0M64.4 222.8h0M99.0 219.7h0M154.2 232.1h0M152.8 247.6h0M144.9 216.4h0M63.6 225.6h0M120.8 225.0h0M75.9 233.5h0M72.6 226.6h0M83.5 219.9h0M176.4 249.0h0M108.6 229.2h0M102.0 217.2h0M60.3 241.5h0M121.7 250.7h0M78.0 236.1h0M166.3 239.8h0M156.5 257.3h0M88.2 227.7h0M182.8 246.0h0M155.7 241.8h0M164.4 232.6h0M94.6 232.6h0M155.6 248.1h0M143.6 235.9h0M166.3 258.9h0M165.8 239.4h0M146.9 227.8h0M126.0 249.2h0M162.9 227.8h0M93.6 219.6h0M74.5 234.7h0M113.9 208.7h0M84.5 244.3h0M142.5 223.1h0M104.8 221.9h0M136.1 249.7h0M97.3 220.5h0M160.3 230.2h0M124.8 241.4h0M131.8 231.8h0M110.6 222.1h0M178.9 252.3h0M172.4 260.0h0M117.3 227.9h0M138.3 220.4h0M112.4 219.2h0M89.3 220.8h0M128.1 255.0h0M102.6 240.7h0M100.5 225.0h0M93.1 233.2h0M77.6 211.8h0M69.1 213.9h0M134.5 223.3h0M75.8 223.0h0M116.3 255.4h0M67.2 221.9h0M103.8 213.8h0M63.9 232.3h0M86.5 233.5h0M95.3 229.4h0M132.1 254.4h0M93.3 215.8h0M97.4 228.5h0M176.5 259.1h0M63.9 243.6h0M166.3 242.2h0M181.7 224.9h0M151.7 225.5h0M73.1 233.1h0M96.0 217.5h0M69.9 226.3h0M95.0 251.6h0M137.8 226.5h0M89.0 215.5h0M172.9 255.1h0M69.2 223.6h0M71.4 222.0h0M154.5 231.0h0M130.1 258.4h0M62.8 231.8h0M123.5 233.7h0M112.1 235.2h0M153.7 234.3h0M60.3 210.9h0M63.0 230.5h0M155.3 222.9h0M86.2 216.4h0M122.9 230.0h0M179.6 245.4h0M93.3 241.4h0M66.7 209.8h0M151.5 236.2h0M144.0 234.4h0M109.8 225.2h0M117.2 230.3h0M133.5 237.5h0M91.8 216.4h0M109.6 230.2h0M98.2 220.5h0M77.7 226.0h0M181.8 246.9h0M163.8 232.3h0M157.9 251.3h0M171.3 251.3h0M175.3 249.1h0M167.8 233.8h0M83.3 231.4h0M71.0 218.5h0M113.5 228.1h0M153.1 233.0h0M152.5 234.9h0M98.0 251.0h0M89.2 231.2h0M133.4 227.7h0M81.8 210.7h0M99.5 213.3h0M131.7 253.7h0M159.6 236.0h0M92.0 227.5h0M156.8 229.6h0M80.2 224.3h0M104.8 222.0h0M119.7 240.1h0M104.6 236.6h0M96.6 245.6h0M91.6 216.9h0M149.7 230.3h0M154.5 230.7h0M62.6 227.7h0M113.1 240.7h0M86.1 217.9h0M73.1 227.4h0M163.6 240.0h0M130.6 222.5h0M158.5 240.0h0M148.8 249.8h0M122.2 241.6h0M150.3 240.0h0M112.5 229.5h0M95.4 234.9h0M97.2 222.7h0M83.5 227.4h0M102.9 232.8h0M128.6 240.1h0M144.4 223.2h0M87.0 223.6h0M107.1 226.8h0M157.0 256.5h0M135.5 226.8h0M133.3 236.9h0M113.5 225.7h0M62.3 236.5h0M162.6 236.3h0M117.6 235.8h0M76.0 216.2h0M75.2 222.8h0M146.1 245.7h0M158.8 229.6h0M174.8 237.5h0M118.3 237.4h0M163.2 238.0h0M110.4 246.4h0M129.4 245.7h0M123.3 234.2h0M155.5 251.0h0M126.3 238.8h0M169.0 253.1h0M123.2 235.1h0M81.3 231.0h0M112.6 228.5h0M104.0 219.8h0M93.4 239.9h0M159.1 239.2h0M122.5 244.7h0M160.7 255.0h0M153.1 229.8h0M124.2 226.6h0M82.2 226.6h0M75.4 248.8h0M164.3 250.1h0M71.6 216.9h0M91.0 239.9h0M84.5 222.1h0M68.9 244.0h0M158.9 252.6h0M75.8 222.2h0M85.6 241.6h0M103.2 230.1h0M136.2 238.5h0M98.8 233.8h0M118.5 233.4h0M74.0 235.7h0M134.3 227.9h0M122.1 257.3h0M99.6 231.2h0M161.2 242.0h0M160.4 230.9h0M156.9 246.6h0M87.3 206.3h0M99.8 221.7h0M165.3 244.3h0M168.2 254.2h0M69.8 217.6h0M126.7 226.1h0M66.7 212.3h0M159.3 256.6h0M62.9 217.2h0M83.3 242.5h0M119.3 236.4h0M157.7 246.4h0M170.3 244.3h0M157.5 250.6h0M123.6 231.5h0M147.0 228.7h0M116.0 234.4h0M97.5 227.8h0M129.4 238.1h0M179.5 260.4h0M124.4 246.3h0M97.1 238.3h0M113.9 250.7h0M97.9 243.5h0M114.7 242.5h0M180.9 225.9h0M118.2 240.5h0M176.5 251.9h0M110.3 241.4h0M124.8 233.7h0M139.5 224.0h0M93.3 231.4h0M64.5 220.6h0M139.0 244.3h0M177.7 247.6h0M141.5 248.2h0M80.2 235.7h0M143.1 228.1h0M121.3 248.3h0M103.1 234.3h0M97.1 247.9h0M127.8 225.6h0M85.2 250.3h0M165.2 235.5h0M87.8 226.6h0M79.1 222.7h0M160.1 253.9h0M90.9 224.6h0M107.5 240.3h0M153.8 254.7h0M94.9 234.2h0M148.5 227.2h0M116.3 244.3h0M174.2 240.7h0M144.7 239.2h0M73.6 229.9h0M155.6 245.0h0M69.6 223.1h0M142.6 247.1h0M106.2 248.0h0M157.2 239.4h0M84.3 248.2h0M148.3 241.3h0M172.6 223.1h0M128.9 242.5h0M156.8 240.4h0M87.4 235.5h0M62.7 221.7h0M122.9 241.0h0M172.8 252.8h0M92.6 253.0h0M111.3 260.1h0M108.2 230.5h0M146.8 232.6h0M69.1 208.8h0M157.4 246.7h0M123.3 220.6h0M131.8 218.6h0M136.4 225.0h0M60.6 209.3h0M153.9 243.6h0M92.6 228.7h0M92.5 228.9h0M87.1 238.9h0M68.8 234.1h0M158.1 240.0h0M142.6 241.7h0M125.2 229.1h0M173.8 230.3h0M78.3 225.5h0M163.1 234.5h0M101.5 241.1h0M96.3 247.9h0M92.7 219.4h0M139.7 225.8h0M164.0 256.6h0M180.2 241.2h0M76.9 215.7h0M167.5 248.5h0M147.0 241.2h0M136.7 236.3h0M152.5 256.1h0M70.3 232.2h0M137.0 234.8h0M112.5 244.5h0M180.7 235.0h0M102.0 215.7h0M86.3 234.5h0M165.8 229.9h0M100.9 236.9h0M162.3 256.0h0M73.1 243.1h0M73.9 232.6h0M106.9 230.2h0M152.1 230.0h0M105.1 239.9h0M89.1 215.8h0M120.6 255.3h0" stroke="#983d14" stroke-width="2.6" stroke-linecap="round" fill="none"/>
<path d="M97.3 228.8h0M147.9 241.4h0M84.1 233.2h0M135.7 235.4h0M107.7 233.9h0M166.3 260.7h0M79.9 229.9h0M65.8 231.1h0M118.5 221.9h0M138.0 255.5h0M157.3 237.0h0M86.1 233.1h0M60.9 226.9h0M90.7 236.2h0M98.9 241.2h0M98.8 209.6h0M150.5 240.8h0M87.5 219.4h0M84.0 218.9h0M73.6 242.7h0M73.0 234.4h0M142.5 249.9h0M105.6 230.8h0M67.9 225.9h0M101.6 225.0h0M160.6 235.8h0M175.2 244.8h0M142.4 237.5h0M70.9 225.1h0M75.4 230.9h0M137.9 260.5h0M152.3 236.6h0M79.5 228.3h0M68.0 241.1h0M140.3 231.3h0M132.2 239.7h0M70.1 241.6h0M68.4 225.6h0M131.9 247.4h0M176.5 253.8h0M154.4 258.5h0M153.2 237.2h0M113.3 231.6h0M86.0 233.0h0M111.7 238.8h0M181.9 224.0h0M91.3 237.1h0M175.8 254.3h0M61.6 239.9h0M96.9 220.8h0M67.2 220.7h0M101.8 246.5h0M106.9 231.5h0M128.2 227.0h0M102.3 240.4h0M120.0 234.7h0M75.0 224.8h0M108.2 256.0h0M113.2 260.7h0M138.5 256.2h0M125.1 239.6h0M151.4 251.8h0M93.8 221.1h0M92.8 224.2h0M72.8 222.4h0M67.8 244.3h0M147.3 237.8h0M169.5 256.3h0M117.3 224.3h0M90.6 222.4h0M64.6 214.0h0M130.0 232.3h0M118.3 240.3h0M91.3 214.0h0M121.9 253.3h0M177.4 247.3h0M167.2 238.1h0M75.5 243.4h0M115.8 240.7h0M148.0 249.3h0M181.3 234.3h0M114.6 235.0h0M171.3 234.3h0M179.1 234.7h0M71.5 240.9h0M156.5 237.2h0M181.3 228.8h0M70.3 227.1h0M173.9 239.6h0M86.8 225.0h0M67.9 250.7h0M102.7 232.9h0M122.8 240.6h0M130.8 246.6h0M162.0 243.9h0M71.6 218.7h0M166.3 227.7h0M133.2 231.2h0M74.6 240.4h0M165.5 240.7h0M179.8 245.3h0M166.6 226.6h0M170.3 257.8h0M154.6 246.3h0M86.2 232.4h0M71.7 227.5h0M126.6 254.8h0M130.9 235.7h0M165.2 250.7h0M130.5 220.1h0M81.0 237.8h0M117.5 235.2h0M121.7 241.5h0M160.8 257.7h0M94.4 231.5h0M124.9 232.5h0M120.7 240.7h0M89.4 215.3h0M61.5 214.8h0M100.4 248.5h0M78.4 242.0h0M143.4 243.5h0M85.5 229.7h0M127.6 224.8h0M123.0 238.1h0M175.3 244.6h0M102.5 227.0h0M153.6 237.9h0M145.9 253.1h0M120.9 222.7h0M162.7 244.7h0M73.9 215.6h0M78.9 235.7h0M166.4 255.4h0M69.3 247.7h0M101.0 217.6h0M146.3 235.0h0M127.9 220.8h0M167.7 230.6h0M81.1 232.1h0M116.3 218.1h0M139.1 221.6h0M67.8 216.8h0M175.2 248.6h0M146.3 223.6h0M125.7 224.8h0M99.1 241.4h0M115.8 236.3h0M147.6 238.5h0M118.8 237.2h0M92.3 221.6h0M154.7 242.3h0M119.1 221.1h0M64.4 230.9h0M118.6 242.1h0M81.2 231.0h0M97.1 222.4h0M122.2 238.8h0M106.3 235.2h0M171.7 247.2h0M165.1 246.6h0M139.7 253.4h0M91.8 223.2h0M152.9 235.5h0M109.7 236.4h0M167.7 248.0h0M126.5 232.8h0M103.1 238.0h0M120.5 235.6h0M142.0 253.4h0M171.0 233.9h0M122.6 226.7h0M67.7 256.0h0M153.6 246.6h0M174.6 222.4h0M139.0 247.5h0M134.3 260.5h0M170.1 243.7h0M155.6 250.9h0M67.7 204.5h0M82.7 231.9h0M128.4 236.9h0M157.1 223.4h0M126.7 226.6h0M136.9 241.3h0M100.6 242.5h0M155.9 250.2h0M65.8 216.8h0M68.0 216.3h0M106.9 224.1h0M137.1 249.8h0M177.9 246.7h0M118.1 230.6h0M121.6 231.6h0M65.8 220.6h0M168.8 226.6h0M76.6 228.9h0M152.7 251.4h0M108.6 242.6h0M177.3 241.9h0M126.9 247.2h0M63.3 231.0h0M174.1 247.5h0M98.0 240.8h0M142.0 254.1h0M94.8 245.4h0M148.1 246.6h0M69.1 222.0h0M81.3 221.9h0M100.9 224.9h0M89.1 227.5h0M143.5 246.6h0M159.5 246.9h0M134.3 244.3h0M69.8 245.7h0M105.0 235.9h0M155.0 233.2h0M104.8 241.5h0M84.6 217.1h0M61.5 203.9h0M167.4 254.7h0M112.9 239.8h0M126.8 237.1h0M95.1 239.4h0M162.1 237.5h0M127.7 238.5h0M119.1 256.3h0M83.8 225.4h0M158.6 239.3h0M62.4 209.9h0M120.4 225.1h0M175.8 255.5h0M110.9 237.1h0M168.6 252.3h0M93.9 220.4h0M163.4 253.4h0M127.4 235.3h0M150.2 232.0h0M60.5 218.7h0M140.8 240.2h0M63.6 219.3h0M85.5 233.4h0M130.9 233.3h0M80.1 234.7h0M147.2 230.1h0M143.6 258.6h0M161.4 240.3h0M177.0 255.5h0M143.1 227.5h0M115.1 250.7h0M62.4 212.9h0M70.5 224.4h0M168.5 241.8h0M152.5 245.5h0M121.7 247.9h0M109.8 235.5h0M144.8 221.2h0M126.2 239.2h0M69.9 250.4h0M166.5 234.6h0M81.7 236.1h0M149.1 249.1h0M166.6 252.0h0M86.3 247.9h0M103.5 239.6h0M59.9 216.1h0M126.5 228.4h0M66.4 224.7h0M164.6 245.6h0M92.3 237.9h0M96.6 220.9h0M87.5 234.6h0M123.3 238.6h0M126.9 243.2h0M135.3 224.0h0M81.2 221.7h0M159.5 230.1h0M93.7 254.1h0M128.3 237.1h0M93.1 239.1h0M117.6 251.7h0M79.4 225.0h0M104.2 229.5h0M177.6 243.3h0M153.5 230.1h0M68.9 237.5h0M163.7 229.6h0M170.1 256.1h0M79.6 232.2h0M82.9 236.9h0M154.2 260.1h0M69.3 219.0h0M137.3 236.5h0M109.1 236.1h0M75.9 234.1h0M60.4 235.5h0M147.6 245.8h0M117.9 234.7h0M122.1 236.3h0M90.8 228.1h0M170.1 258.8h0M150.2 241.6h0M59.5 210.4h0M72.4 241.1h0M142.1 244.8h0M136.1 218.2h0M168.8 249.0h0M165.8 239.0h0M162.8 241.6h0M129.9 238.3h0M108.3 247.1h0M85.3 231.1h0M164.0 247.8h0M122.1 250.9h0M84.1 233.9h0M90.2 229.0h0M158.1 234.1h0M90.5 220.1h0M114.6 220.2h0M143.4 237.9h0M91.4 213.4h0M89.6 213.2h0M82.3 231.6h0M124.2 216.1h0M156.6 256.5h0M100.8 224.8h0M150.7 245.7h0M88.4 232.0h0M64.0 232.1h0M169.3 229.5h0M157.6 246.9h0M182.2 253.5h0M180.2 246.4h0M97.1 240.4h0M139.8 225.0h0M81.1 210.2h0M121.6 232.0h0M133.0 232.6h0M142.4 226.3h0M91.9 239.7h0M115.3 249.4h0M169.5 244.8h0M81.4 211.6h0M173.2 235.8h0M182.3 246.4h0M89.6 232.3h0M90.1 247.7h0M77.7 220.8h0M69.7 223.1h0M158.2 238.6h0M158.8 231.8h0M95.8 229.2h0M64.2 218.3h0M172.6 243.3h0M70.2 231.1h0M141.5 242.5h0M117.9 229.1h0M137.1 243.7h0M66.0 211.1h0M122.7 246.9h0M152.7 249.5h0M122.8 235.2h0M123.4 222.8h0M84.5 244.8h0M130.7 250.3h0M144.3 228.6h0M156.3 243.3h0M90.7 234.6h0M119.7 246.3h0M150.0 252.3h0M173.8 234.8h0M158.7 244.0h0M159.0 250.6h0M116.3 237.8h0M172.8 242.7h0M104.5 224.8h0M100.9 226.1h0M74.9 234.8h0M89.2 234.2h0M61.4 215.4h0M168.0 245.2h0M145.3 220.6h0M139.9 241.9h0M93.8 260.0h0M76.5 232.1h0M179.6 244.9h0M151.9 236.4h0M63.3 230.6h0M81.9 216.9h0M156.9 247.9h0M78.3 221.2h0M158.9 224.5h0M126.3 232.9h0M63.7 210.9h0M121.7 234.7h0M93.3 225.3h0M146.2 228.6h0M63.2 234.8h0M153.8 243.9h0M83.0 213.1h0M145.1 216.8h0M170.4 252.2h0M139.6 223.1h0M122.8 233.9h0M62.5 237.5h0M100.2 238.4h0M97.3 231.9h0M115.4 230.9h0M122.8 236.2h0M106.7 218.3h0M134.4 243.5h0M72.5 238.3h0M169.5 253.1h0M129.5 236.5h0M182.7 258.8h0M82.1 213.7h0M149.0 244.2h0M119.2 233.0h0M171.9 226.2h0M60.1 235.7h0M67.6 241.9h0M166.6 230.1h0M157.7 222.7h0M175.6 248.3h0M76.5 225.8h0M146.6 225.5h0M177.4 259.5h0M74.9 225.8h0M95.8 245.3h0M62.2 212.4h0M108.9 222.1h0M104.9 229.0h0M80.9 215.6h0M178.3 243.3h0M125.7 256.1h0M146.6 246.4h0M112.9 245.2h0M128.8 226.2h0M181.6 256.0h0M152.4 232.9h0M106.0 234.7h0M135.4 229.9h0M80.2 240.2h0M61.0 222.0h0M177.0 228.8h0M163.3 230.1h0M165.2 222.4h0M139.3 237.0h0M68.8 242.7h0M144.2 232.4h0M179.3 244.9h0M178.3 250.2h0M110.6 239.5h0M67.7 228.1h0M170.7 258.6h0M147.2 247.7h0M128.8 244.8h0M63.7 233.0h0M177.7 259.1h0M83.0 225.9h0M153.5 226.0h0M145.1 245.0h0M115.7 227.6h0M180.8 249.3h0M112.7 219.1h0M86.9 226.4h0M173.9 225.2h0M131.0 249.0h0M59.8 234.0h0M100.3 221.3h0M163.9 234.3h0M119.8 257.5h0M73.1 227.3h0M174.6 255.1h0M71.5 227.1h0M79.3 226.1h0M75.7 230.2h0M100.4 229.9h0M88.1 238.3h0M71.2 238.5h0M180.0 243.3h0M118.7 233.7h0M88.7 231.5h0M74.7 228.8h0M174.0 243.3h0M178.4 236.5h0M90.1 224.4h0M132.7 257.1h0M124.5 242.6h0M176.9 231.3h0M75.8 228.3h0M163.1 256.2h0M158.6 244.1h0M173.4 219.2h0M174.9 258.8h0M134.2 237.7h0M86.2 212.7h0M114.7 223.6h0M91.5 232.4h0M135.6 237.8h0M112.9 245.8h0M103.0 228.0h0M95.6 233.1h0M99.6 213.2h0M98.5 230.2h0M75.9 217.4h0M92.6 241.0h0M124.2 236.9h0M137.1 241.4h0M107.9 231.8h0M74.5 213.1h0M123.7 233.6h0M168.9 227.4h0M121.8 257.1h0M138.4 221.5h0M172.6 227.3h0M98.3 213.4h0M179.0 244.1h0M123.8 234.8h0M125.7 252.9h0M101.1 247.0h0M106.0 243.3h0M104.5 245.8h0M163.1 243.1h0M107.4 236.9h0M109.9 222.1h0M129.7 209.1h0M131.7 239.6h0M89.2 239.0h0M80.1 238.0h0M128.9 241.8h0M152.0 243.7h0M140.4 257.9h0M175.3 257.4h0M87.1 230.5h0M161.3 253.8h0M120.5 241.0h0M144.8 241.7h0M92.2 222.0h0M95.0 241.0h0M176.7 238.0h0M86.5 223.7h0M93.8 242.0h0M67.3 221.1h0M97.1 223.1h0M103.8 236.8h0M180.4 259.4h0M74.9 246.5h0M168.9 238.3h0M170.9 249.6h0M66.8 228.4h0M150.4 237.0h0M135.8 244.5h0M159.7 230.5h0M86.0 217.3h0M113.6 241.0h0M108.4 251.8h0M179.6 243.9h0M124.7 236.9h0M124.2 235.9h0M182.3 254.5h0M60.4 238.6h0M142.4 244.9h0M69.8 217.4h0M118.0 254.2h0M120.1 248.4h0M150.3 240.8h0M155.3 253.1h0M155.5 248.7h0M112.5 236.3h0M126.5 232.3h0M148.6 243.4h0M111.0 216.7h0M167.9 244.1h0M120.7 246.2h0M80.5 227.3h0M133.0 254.8h0M95.9 236.1h0M156.0 257.5h0M182.8 245.3h0M170.2 259.7h0M162.0 232.8h0M181.6 259.4h0M162.2 249.7h0M104.1 239.1h0M157.1 256.5h0M95.8 229.0h0M106.1 241.0h0M89.7 220.2h0M114.2 238.9h0M81.4 238.9h0M91.2 231.2h0M151.0 240.0h0M62.4 217.7h0M130.8 242.6h0M135.3 258.8h0M170.2 244.4h0M136.2 250.6h0M162.0 226.5h0M97.2 231.4h0M71.7 229.0h0M175.7 239.4h0M105.0 239.6h0M142.0 236.5h0M130.7 237.8h0M64.4 228.3h0M173.9 246.2h0M109.5 228.7h0M102.3 213.8h0M152.4 250.3h0M122.2 243.0h0M108.0 228.0h0M109.0 246.3h0M101.4 242.9h0M84.6 242.0h0M81.8 238.4h0M130.6 235.9h0M119.1 228.5h0M143.0 237.2h0M96.2 242.9h0M167.5 239.6h0M115.5 230.4h0M177.1 234.3h0M82.8 223.6h0M119.2 218.0h0M122.5 229.6h0M151.3 240.7h0M148.3 250.6h0M68.1 245.7h0M73.1 213.2h0M117.0 231.5h0M181.0 237.6h0M125.4 246.8h0M160.5 247.5h0M90.0 244.9h0M131.2 215.6h0M114.3 221.7h0M127.8 237.5h0M136.1 234.2h0M100.0 223.3h0M85.8 223.4h0M80.2 241.2h0M116.4 220.2h0M90.0 226.9h0M77.2 234.0h0M116.2 224.6h0M167.7 244.7h0M178.9 229.8h0M76.8 232.9h0M170.4 235.8h0M122.3 228.8h0M90.3 222.6h0M75.9 219.0h0M102.4 214.6h0M112.6 225.1h0M94.7 219.5h0M179.8 245.0h0M170.6 224.8h0M132.7 241.8h0M112.0 218.9h0M176.2 233.7h0M144.7 241.3h0M61.3 233.2h0M82.6 225.5h0M126.3 218.3h0M110.2 214.5h0M111.9 228.7h0M134.2 221.4h0M98.9 214.6h0M144.2 251.6h0M159.8 256.7h0M74.0 211.4h0M70.2 218.9h0M96.6 222.6h0M96.3 216.7h0M151.9 243.5h0M85.9 233.0h0M138.7 244.6h0M161.1 231.1h0M174.0 247.3h0M170.9 237.6h0M140.6 231.9h0M144.1 225.9h0M175.5 245.5h0M104.9 235.8h0M79.2 234.8h0M117.6 219.4h0M85.0 224.4h0M137.2 242.6h0M136.7 253.1h0M81.5 250.9h0M135.5 237.1h0M168.1 230.1h0M122.5 236.2h0M71.7 220.3h0M94.8 234.7h0M68.5 217.5h0M83.0 231.1h0M98.1 250.9h0M129.2 230.5h0M142.3 221.5h0M109.2 248.1h0M73.2 233.3h0M150.5 236.3h0M81.0 254.1h0M80.2 238.1h0M182.6 227.3h0M116.0 256.4h0M70.4 235.5h0M152.7 242.9h0M77.4 226.6h0M128.7 237.2h0M88.9 238.0h0M91.6 222.2h0M168.8 240.6h0M115.6 252.4h0M110.4 227.0h0M123.4 231.2h0M94.7 216.5h0M135.8 254.1h0M126.5 238.1h0M99.5 225.0h0M164.5 231.8h0M105.5 243.8h0M108.1 213.4h0M93.1 237.5h0M163.9 222.1h0M142.1 248.5h0M106.0 248.2h0M113.7 239.4h0M82.5 224.4h0M86.5 217.4h0M133.3 235.5h0M94.3 216.7h0M90.4 240.3h0M146.8 241.7h0M121.3 234.3h0M151.7 244.1h0M102.0 239.9h0M106.8 243.3h0M81.2 225.8h0M171.5 231.0h0M126.4 249.9h0M168.6 244.5h0M83.3 217.8h0M152.5 248.2h0M78.5 238.3h0M72.1 234.1h0M144.9 241.2h0M92.0 233.6h0M172.3 247.1h0M159.3 242.1h0M119.4 237.7h0M86.7 229.9h0M168.4 237.7h0M181.1 233.0h0M125.0 213.6h0M77.1 236.4h0M106.0 242.3h0M79.8 236.8h0M68.5 221.4h0M86.2 231.9h0M119.6 230.6h0M130.1 243.1h0M102.7 255.3h0M155.3 245.1h0M103.1 227.3h0M107.2 235.2h0M139.3 240.4h0M110.5 227.9h0M124.6 244.2h0M107.2 247.8h0M144.8 228.5h0M116.6 250.1h0M104.2 235.6h0M126.1 239.2h0M104.1 218.1h0M101.0 257.7h0M144.9 232.2h0M135.6 223.5h0M138.3 243.9h0M153.6 250.5h0M182.2 242.5h0M163.2 245.8h0M177.6 229.8h0M112.7 237.5h0M169.4 235.3h0M116.6 233.7h0M108.4 233.3h0M102.6 251.8h0M109.6 232.0h0M162.7 254.2h0M62.1 225.5h0M170.2 233.2h0M117.5 242.1h0M139.0 259.7h0M70.1 228.7h0M94.5 230.3h0M159.1 244.4h0M160.0 240.7h0M131.6 227.1h0M133.8 256.6h0M125.0 244.0h0M117.2 227.9h0M162.5 242.8h0M108.9 232.7h0M121.5 241.2h0M99.6 213.7h0M79.2 240.0h0M148.6 215.6h0M151.7 234.9h0M148.3 252.7h0M113.1 252.1h0M77.3 219.9h0M169.2 239.2h0M132.1 236.2h0M83.4 232.3h0M144.0 236.5h0M131.1 220.7h0M126.7 216.5h0M140.2 231.8h0M94.7 214.2h0M141.5 247.9h0M115.2 224.4h0M75.9 209.2h0M170.3 230.6h0M77.8 241.9h0M106.8 231.0h0M179.5 242.3h0M162.0 239.8h0M92.6 241.8h0M89.2 217.8h0M173.8 242.2h0M113.3 234.9h0M178.3 226.7h0M91.0 233.9h0M107.6 233.0h0M81.5 253.1h0M139.0 228.5h0M87.0 225.2h0M113.8 227.0h0M114.4 224.2h0M125.7 242.3h0M136.9 257.1h0M127.9 238.5h0M145.4 244.2h0M103.8 233.4h0M154.4 253.7h0M146.3 233.7h0M147.9 216.7h0M109.3 240.3h0M154.4 258.6h0M182.1 245.0h0M151.0 255.4h0M129.3 241.6h0M129.0 228.6h0M155.1 241.2h0M93.6 247.5h0M62.4 218.3h0M88.9 235.3h0M150.9 238.0h0M87.3 237.7h0M153.6 242.0h0M132.0 227.2h0M139.2 236.6h0M75.7 213.5h0M173.5 247.5h0M149.8 248.4h0M144.9 237.9h0M101.4 228.9h0M119.5 229.7h0M149.8 223.8h0M109.3 235.6h0M118.1 234.3h0M166.3 248.9h0M175.0 253.8h0M75.9 248.3h0M161.3 230.9h0M87.2 224.0h0M139.6 248.9h0M147.3 236.4h0M110.5 220.6h0M81.4 222.8h0M112.9 241.5h0M75.8 231.7h0M128.6 242.6h0M78.7 227.5h0M77.4 223.6h0M87.0 221.6h0M146.1 233.2h0M112.9 226.4h0M167.1 248.0h0M162.4 236.2h0M111.2 228.6h0M88.9 215.8h0M127.1 234.0h0M137.4 228.3h0M167.3 248.0h0M129.6 238.1h0M146.9 248.0h0M89.3 234.4h0M102.3 239.3h0M116.5 243.2h0M133.9 240.6h0M73.2 233.3h0M126.6 249.7h0M168.9 258.4h0M72.8 208.8h0M132.2 230.1h0M112.6 226.7h0M147.4 232.6h0M123.1 224.9h0M60.7 238.7h0M154.9 240.3h0M148.6 231.4h0M129.0 227.2h0M154.8 235.8h0M65.5 217.0h0M142.8 259.9h0M83.5 215.4h0M102.3 241.6h0M168.5 246.7h0M129.2 242.0h0M90.3 232.7h0M145.9 243.1h0M73.1 236.3h0M127.1 236.5h0M64.1 216.3h0M69.3 224.9h0M162.3 252.4h0M69.7 223.7h0M133.5 218.8h0M172.4 260.7h0M171.2 246.3h0M172.9 240.8h0M112.5 240.6h0M92.6 224.3h0M170.3 238.1h0M96.1 225.4h0M93.4 219.2h0M104.3 214.4h0M143.1 240.0h0M81.2 229.5h0M129.6 239.8h0M167.9 243.3h0M59.6 228.2h0M128.0 223.3h0M135.6 245.4h0M174.7 232.8h0M126.2 253.6h0M79.4 226.7h0M126.3 225.5h0M70.4 242.9h0M163.1 249.4h0M177.3 229.3h0M100.6 243.1h0M143.3 244.0h0M147.8 244.5h0M70.9 234.0h0M93.6 234.2h0M110.4 219.4h0M126.9 248.1h0M160.0 255.3h0M102.2 229.0h0M69.5 227.8h0M110.3 238.7h0M152.7 255.8h0M112.1 228.9h0M73.5 236.4h0M151.6 245.8h0M62.6 220.1h0M89.8 226.8h0M109.6 249.5h0M156.0 230.7h0M68.9 226.7h0M92.0 248.6h0M70.8 230.0h0M131.7 240.6h0M65.4 223.1h0M65.6 248.0h0M134.5 238.9h0M112.6 242.5h0M115.8 221.4h0M131.5 243.6h0M119.8 243.2h0M180.0 238.8h0M96.4 226.0h0M111.6 241.9h0M118.4 239.6h0M140.6 240.3h0M89.4 217.4h0M142.6 251.9h0M133.9 233.5h0M121.7 219.1h0M114.0 234.5h0M139.0 237.0h0M69.0 230.0h0M154.6 260.3h0M107.0 225.2h0M169.5 244.3h0M94.1 241.5h0M61.6 213.1h0M91.3 215.6h0M174.8 248.3h0M167.4 244.6h0M97.2 242.0h0M85.5 208.3h0M141.7 242.5h0M167.3 232.4h0M87.5 212.6h0M176.7 254.4h0M98.5 248.8h0M119.5 248.6h0M112.2 215.6h0M93.8 242.3h0M78.9 228.8h0M160.8 260.9h0M144.1 252.1h0M74.3 227.3h0M103.0 237.0h0M88.1 215.6h0M174.7 242.4h0M119.3 224.3h0M86.9 245.3h0M59.8 224.7h0M141.6 252.9h0M124.3 238.5h0M151.0 238.2h0M154.4 232.2h0M159.2 238.0h0M150.4 227.2h0M69.5 228.2h0M105.4 235.8h0M138.4 243.7h0M81.5 223.8h0M145.2 254.3h0M129.1 238.7h0M158.1 228.6h0M144.0 250.6h0M146.4 255.8h0M151.7 247.1h0M64.0 223.8h0M107.6 220.2h0M170.5 246.4h0M153.1 248.7h0M89.5 237.3h0M179.1 255.3h0M171.5 250.8h0M139.5 233.8h0M85.2 238.0h0M158.5 250.8h0M106.4 231.0h0M144.6 241.1h0M106.5 258.5h0M148.4 250.9h0M86.5 222.1h0M138.3 227.5h0M80.0 237.3h0M141.5 236.0h0M106.2 225.8h0M136.0 235.4h0M180.2 235.1h0M125.7 240.8h0M104.1 234.9h0M112.9 239.3h0M117.1 236.5h0M123.8 239.9h0M120.7 241.1h0M180.9 244.4h0M129.4 240.4h0M108.2 238.0h0M157.2 234.8h0M128.9 242.5h0M171.9 235.8h0M72.1 225.4h0M144.2 230.7h0M65.1 206.3h0M156.3 238.0h0M106.5 242.8h0M86.7 232.8h0M82.0 221.0h0M128.4 229.8h0M163.1 252.5h0M138.5 226.8h0M101.2 231.4h0M158.1 229.4h0M113.4 219.1h0M156.7 239.4h0M154.6 242.8h0M96.7 222.5h0M94.5 254.2h0M159.4 254.3h0M61.9 215.5h0M137.5 235.7h0M164.9 240.7h0M69.1 218.5h0M130.6 242.1h0M122.7 243.1h0M72.0 227.6h0M173.6 239.8h0M81.9 237.6h0M138.4 233.9h0M180.0 258.8h0M102.3 235.5h0M179.8 226.4h0M98.7 239.2h0M148.1 249.6h0M114.3 228.8h0M171.7 233.1h0M84.2 217.3h0M131.6 240.9h0M121.6 235.4h0M150.1 242.4h0M109.5 236.7h0M154.0 228.4h0M91.7 215.6h0M135.8 239.3h0M128.8 233.5h0M105.6 229.7h0M107.6 225.6h0M92.0 214.4h0M112.0 247.1h0M77.0 229.7h0M159.0 218.1h0M166.0 235.6h0M172.5 239.3h0M158.4 248.9h0M144.2 244.5h0M164.6 243.9h0M111.7 238.3h0M90.5 258.6h0M70.3 227.3h0M181.3 243.3h0M138.5 232.9h0M144.4 216.5h0M92.5 224.5h0M170.7 257.1h0M81.2 248.6h0M127.8 222.0h0M171.2 230.5h0M133.3 229.3h0M116.2 231.0h0M104.8 223.0h0M119.5 215.2h0M110.2 232.6h0M75.5 216.7h0M178.9 247.6h0M111.1 233.1h0M101.1 227.8h0M92.7 233.9h0M166.6 249.0h0M71.0 238.0h0M120.9 226.7h0M121.5 223.4h0M163.3 247.1h0M137.2 232.2h0M59.6 232.6h0M93.2 212.8h0M76.5 237.8h0M114.5 243.3h0M160.6 243.4h0M146.2 230.8h0M81.3 245.9h0M149.9 241.6h0M114.6 221.5h0M135.7 235.9h0M176.8 225.7h0M159.1 235.5h0M147.1 259.7h0M155.0 244.1h0M140.5 227.8h0M92.8 244.6h0M137.5 240.9h0M170.0 250.1h0M134.8 252.2h0M151.5 242.3h0M61.4 230.4h0M106.6 229.8h0M163.4 241.7h0M83.6 224.2h0M89.7 221.0h0M82.5 234.6h0M168.1 230.7h0M105.7 224.7h0M181.8 237.2h0M149.0 252.4h0M80.9 213.1h0M113.6 228.5h0M107.2 260.4h0M88.7 220.2h0M173.2 248.8h0M169.3 229.4h0M163.2 251.8h0M176.5 234.5h0M88.3 226.0h0M154.0 236.9h0M179.8 233.7h0M92.7 230.6h0M142.9 240.1h0M99.5 233.2h0M151.2 222.1h0M105.9 225.3h0M141.2 241.1h0M139.4 230.1h0M64.4 217.1h0M91.8 221.2h0M158.1 242.6h0M133.9 223.3h0M173.5 251.0h0M69.1 228.1h0M98.0 234.3h0M62.7 220.9h0M96.8 206.7h0M159.4 240.6h0M177.5 246.1h0M180.9 247.1h0M169.5 256.6h0M61.9 221.1h0M60.1 224.0h0M131.1 223.6h0M114.8 229.0h0M179.7 240.6h0M157.5 254.7h0M100.4 238.2h0M148.6 242.2h0M148.6 236.6h0M80.0 224.0h0M142.5 243.0h0M87.6 231.1h0M102.4 239.6h0M157.6 238.1h0M143.8 235.8h0M108.4 227.9h0M139.8 230.5h0M166.1 252.6h0M163.0 253.8h0M78.6 228.0h0M72.3 235.0h0M128.6 232.1h0M170.0 239.2h0M132.0 235.6h0M85.9 229.2h0M61.6 217.5h0M166.2 240.1h0M165.4 249.9h0M145.8 249.4h0M77.1 214.4h0M171.4 235.2h0M123.9 237.1h0M121.0 235.7h0M110.7 231.2h0M125.5 230.3h0M101.7 213.8h0M182.8 249.2h0M114.6 225.5h0M127.1 260.7h0M102.5 227.3h0M88.8 203.7h0M127.7 232.5h0M123.5 231.8h0M110.9 249.6h0M166.8 229.1h0M111.3 228.0h0M83.7 239.2h0M90.5 228.8h0M136.4 239.5h0M155.9 237.9h0M134.5 231.1h0M162.4 238.5h0M137.2 235.9h0M164.0 233.2h0M108.3 238.7h0M166.6 234.1h0M89.5 222.7h0M71.2 212.5h0M119.7 210.9h0M89.0 229.1h0M92.2 221.2h0M93.9 247.6h0M86.6 220.2h0M108.3 243.8h0M79.0 215.0h0M137.6 244.2h0M122.5 226.9h0M124.9 244.6h0M105.4 220.9h0M158.7 230.0h0M92.3 229.7h0M107.9 240.5h0M165.9 229.4h0M112.9 230.8h0M90.5 217.3h0M148.5 257.8h0M177.8 246.0h0M102.0 239.4h0M162.5 232.3h0M110.0 226.0h0M79.2 223.9h0M110.5 243.2h0M62.8 233.6h0M65.2 251.5h0M120.0 231.0h0M130.3 230.9h0M74.8 227.0h0M116.8 224.2h0M130.0 242.8h0M67.9 221.7h0M110.3 245.3h0M113.4 222.1h0M76.9 224.4h0M105.9 233.2h0M75.5 216.0h0M144.7 241.8h0M76.8 223.7h0M95.5 222.5h0M174.4 243.3h0M125.1 233.9h0M147.2 232.3h0M88.1 225.0h0M86.6 237.2h0M141.1 237.8h0M110.7 231.7h0M69.7 209.6h0M64.5 250.5h0M135.1 241.6h0M111.7 235.4h0M77.9 223.4h0M99.7 218.9h0M83.3 247.1h0M120.4 236.3h0M114.3 233.3h0M144.9 245.5h0M68.8 216.4h0M117.3 221.7h0M89.4 226.5h0M87.9 252.3h0M116.5 260.6h0M166.1 226.0h0M86.4 227.4h0M177.9 241.8h0M92.6 226.7h0M182.6 234.9h0M118.6 225.4h0M170.4 248.6h0M122.4 220.7h0M167.2 238.0h0M159.2 258.0h0M144.7 252.1h0M104.3 239.2h0M164.7 241.4h0M90.4 224.3h0M132.2 235.3h0M68.3 240.7h0M112.1 235.2h0M87.4 225.5h0M147.4 247.5h0M93.3 242.0h0M172.9 238.3h0M70.8 222.9h0M148.0 226.0h0M76.6 232.8h0M93.3 243.1h0M79.9 232.7h0M137.1 246.0h0M95.7 231.0h0M140.0 222.3h0M64.4 206.2h0M81.5 243.9h0M142.6 242.8h0M172.4 254.9h0M144.0 226.4h0M174.1 237.9h0M89.6 234.0h0M73.1 242.9h0M95.2 240.8h0M180.9 244.2h0M161.1 240.1h0M66.3 230.9h0M119.3 242.3h0M64.3 253.7h0M179.7 239.7h0M113.6 230.6h0M66.5 225.2h0M150.8 248.1h0M64.7 232.3h0M80.7 200.1h0M157.1 234.1h0M140.6 232.4h0M77.1 217.0h0M126.1 235.4h0M102.7 219.0h0M79.0 243.6h0M139.5 246.0h0M83.6 241.6h0M69.5 221.3h0M83.5 242.0h0M79.2 224.1h0M61.6 232.8h0M79.2 252.6h0M117.0 251.5h0M165.6 232.0h0M80.5 215.0h0M168.6 230.3h0M73.2 223.6h0M103.6 247.2h0M175.4 257.7h0M109.7 240.2h0M158.1 246.0h0M109.7 230.2h0M182.9 255.2h0M125.2 245.6h0M110.5 256.2h0M169.6 246.0h0M86.1 223.6h0M118.5 221.9h0M115.8 227.7h0M120.8 245.0h0M65.2 231.2h0M71.3 234.0h0M124.8 236.3h0M120.5 251.3h0M144.6 230.0h0M86.4 222.1h0M119.2 231.6h0M171.7 252.4h0M157.9 234.3h0M85.8 234.9h0M92.4 239.2h0M132.0 241.0h0M131.3 247.5h0M60.8 217.0h0M179.8 239.5h0M176.1 258.6h0M139.2 255.9h0M170.6 253.0h0M97.8 234.3h0M138.0 249.7h0M72.8 227.9h0M60.5 231.2h0M126.2 216.8h0M130.0 243.4h0M77.6 229.7h0M83.5 240.9h0M153.3 235.4h0M123.7 239.5h0M84.2 221.5h0M105.7 230.3h0M100.9 232.3h0M97.8 234.2h0M84.6 223.9h0M147.3 257.4h0M175.3 236.8h0M79.9 207.9h0M109.5 233.9h0M66.3 231.1h0M115.4 225.1h0M91.6 227.0h0M122.0 229.5h0M116.6 245.3h0M81.6 239.8h0M82.6 235.2h0M175.7 254.6h0M62.7 236.6h0M72.8 243.5h0M102.2 233.8h0M66.2 212.9h0M133.9 245.2h0M101.4 234.5h0M124.4 233.5h0M118.2 215.2h0M146.0 248.2h0M146.2 248.2h0M73.0 242.1h0M154.4 236.0h0M137.9 221.2h0M174.1 249.9h0M128.6 235.3h0M139.5 258.7h0M155.3 247.8h0M169.5 257.2h0M97.2 219.8h0M86.2 221.6h0M170.2 246.9h0M130.4 253.0h0M135.5 229.4h0M72.4 241.8h0M97.8 237.4h0M160.7 245.4h0M162.0 233.3h0M61.9 212.0h0M163.4 236.9h0M170.7 225.1h0M157.4 259.4h0M154.1 250.0h0M78.3 215.5h0M123.9 230.2h0M68.3 232.4h0M77.3 234.5h0M168.5 236.3h0M173.0 234.2h0M144.8 232.8h0M71.6 243.2h0M156.9 250.7h0M59.7 236.6h0M67.8 211.8h0M182.7 255.4h0M74.3 252.4h0M128.1 244.7h0M103.1 224.2h0M81.6 225.7h0M152.7 222.2h0M162.1 236.0h0M105.9 227.6h0M95.7 239.4h0M90.7 233.4h0M181.1 250.9h0M116.9 248.0h0M118.0 237.4h0M98.9 233.5h0M113.3 227.1h0M168.7 237.8h0M131.8 240.8h0M95.5 243.2h0M129.5 221.8h0M134.7 231.8h0M175.0 231.3h0M123.4 235.6h0M146.6 249.7h0M150.0 253.5h0M106.4 242.9h0M114.1 244.7h0M94.7 247.9h0M82.7 237.6h0M137.9 244.0h0M59.7 234.7h0M137.0 222.4h0M139.9 250.5h0M74.6 217.7h0M115.0 239.5h0M182.7 241.9h0M132.6 235.8h0M183.0 254.6h0M103.9 231.1h0M75.2 209.1h0M103.3 207.7h0M169.5 223.4h0M127.2 223.7h0M112.8 218.6h0M88.2 223.9h0M168.6 253.4h0M147.5 225.5h0M103.4 233.1h0M71.3 230.4h0M161.1 227.8h0M121.8 225.5h0M84.3 229.7h0M168.0 244.7h0M77.2 226.5h0M97.6 220.4h0M107.5 233.0h0M69.3 219.9h0M80.2 220.9h0M180.4 259.5h0M116.0 231.5h0M100.7 232.0h0M69.7 241.4h0M62.5 210.2h0M139.8 235.4h0M163.6 240.0h0M160.4 240.0h0M132.9 218.6h0M163.8 243.5h0M122.4 235.5h0M146.3 231.1h0M79.0 215.9h0M149.0 256.5h0M99.9 246.3h0M111.0 255.1h0M181.8 246.9h0M96.5 223.9h0M120.8 233.4h0M172.6 241.6h0M65.3 236.7h0M167.0 230.5h0M155.0 242.7h0M113.6 214.1h0M129.7 230.0h0M154.4 250.3h0M74.2 248.3h0M82.6 241.8h0M100.3 225.2h0M120.6 239.3h0M66.4 228.5h0M179.7 239.2h0M137.5 234.3h0M111.2 228.6h0M66.3 234.7h0M126.0 247.3h0M76.4 229.4h0M71.4 231.6h0M66.5 222.6h0M124.4 242.4h0M167.6 232.0h0M112.1 227.3h0M175.4 225.9h0M126.1 226.2h0M89.5 226.9h0M144.3 240.0h0M79.3 224.6h0M173.0 227.4h0M65.0 234.1h0M132.9 229.6h0M89.7 211.6h0M117.2 229.7h0M151.8 241.4h0M162.0 242.9h0M67.0 220.0h0M153.8 238.5h0M104.4 226.4h0M86.8 238.2h0M150.2 230.1h0M98.8 240.6h0M126.9 242.8h0M163.9 234.3h0M69.8 225.1h0M111.6 231.8h0M96.0 246.2h0M98.8 235.3h0M61.1 249.1h0M139.2 228.2h0M182.5 233.1h0M83.1 228.8h0M141.4 239.7h0M135.1 241.7h0M139.0 243.5h0M147.1 235.9h0M182.5 245.9h0M179.0 251.7h0M125.5 254.8h0M173.5 247.1h0M125.1 225.9h0M160.6 247.6h0M78.1 206.9h0M119.3 218.3h0M108.4 242.3h0M92.7 220.0h0M123.1 253.2h0M121.1 230.4h0M128.1 244.7h0M151.5 252.5h0M131.2 237.0h0M160.3 234.6h0M89.0 236.8h0M92.5 245.4h0M60.6 219.6h0M157.7 240.0h0M78.7 221.5h0M150.4 223.5h0M94.9 245.0h0M127.7 240.2h0M164.9 247.5h0M121.1 230.6h0M148.2 239.4h0M94.3 214.9h0M81.6 235.7h0M67.7 229.8h0M75.9 241.3h0M67.0 226.7h0M65.7 224.1h0M149.6 238.2h0M77.2 216.8h0M98.6 224.0h0M71.4 231.7h0M140.0 232.9h0M181.8 246.2h0M140.9 223.6h0M72.9 236.2h0M131.3 253.1h0M66.3 240.5h0M173.0 241.9h0M106.2 242.3h0M66.2 213.7h0M75.9 226.9h0M172.1 233.7h0M176.3 242.3h0M93.9 240.7h0M84.2 227.7h0M133.1 225.1h0M91.7 231.6h0M71.8 212.1h0M130.6 251.2h0M81.9 225.2h0M108.8 259.2h0M116.7 234.7h0M119.6 227.7h0M81.9 234.1h0M175.0 246.9h0M67.3 240.6h0M126.6 223.4h0M138.8 257.9h0M114.5 228.9h0M157.9 234.2h0M136.6 243.1h0M139.8 251.9h0M63.2 252.9h0M130.2 245.5h0M180.2 256.5h0M160.9 236.6h0M141.8 241.8h0M158.6 258.0h0M119.1 230.8h0M108.9 210.7h0M169.4 255.9h0M179.5 252.1h0M75.6 209.6h0M124.2 238.6h0M141.9 225.4h0M167.2 254.7h0M138.8 235.0h0M143.3 233.0h0M141.4 241.7h0M78.5 234.5h0M75.0 239.3h0M152.6 218.0h0M82.3 243.9h0M127.3 245.6h0M88.1 241.8h0M143.5 254.9h0M90.1 249.8h0M139.8 224.2h0M160.3 238.0h0M181.0 258.8h0M133.0 229.6h0M170.5 246.4h0M135.2 238.7h0M119.0 225.5h0M163.6 234.4h0M79.1 236.3h0M76.1 225.7h0M125.7 238.3h0M72.9 250.2h0M60.5 224.0h0M162.7 246.0h0M170.7 236.8h0M149.5 243.2h0M64.3 214.9h0M170.6 244.2h0M137.6 230.0h0M173.0 239.5h0M155.6 235.1h0M148.5 221.7h0M113.9 213.7h0M114.9 238.4h0M135.4 229.2h0M90.5 237.9h0M136.8 236.9h0M76.6 228.7h0M152.5 256.0h0M100.1 234.7h0M110.1 238.4h0M174.5 224.8h0M101.7 223.3h0M61.6 229.9h0M160.5 247.8h0M140.9 242.7h0M82.7 237.8h0M64.3 219.7h0M69.6 238.6h0M95.3 231.0h0M66.8 256.6h0M134.1 228.8h0M86.0 233.6h0M78.3 228.8h0M159.7 240.9h0M154.1 246.4h0M90.1 237.2h0M163.9 246.0h0M87.7 226.2h0M75.2 229.5h0M95.2 225.8h0M121.9 234.1h0M149.1 242.5h0M169.6 241.4h0M178.4 259.0h0M84.9 211.6h0M147.4 238.1h0M130.1 240.5h0M166.7 247.9h0M145.6 241.9h0M65.4 229.5h0M112.0 239.5h0M144.6 230.6h0M131.4 226.6h0M159.4 242.6h0M79.2 228.5h0M68.5 239.7h0M144.9 232.7h0M134.4 228.8h0M143.7 243.5h0M92.5 245.6h0M132.8 241.6h0M122.9 218.7h0M150.1 260.1h0M118.3 240.3h0M123.7 230.7h0M110.0 233.8h0M83.1 237.4h0M168.5 230.2h0M162.2 241.4h0M122.8 236.4h0M68.5 223.7h0M82.4 232.4h0M145.4 245.1h0M101.0 211.3h0M105.5 234.8h0M120.0 229.0h0M71.5 222.1h0M99.3 213.3h0M65.8 234.7h0M65.6 230.0h0M144.4 239.6h0M170.8 251.5h0M84.9 223.5h0M88.3 223.3h0M118.2 226.2h0M88.4 223.6h0M177.1 252.9h0M96.0 237.9h0M171.9 258.8h0M157.5 254.4h0M147.2 254.5h0M95.7 226.4h0M179.6 246.4h0M81.8 241.1h0M181.8 241.2h0M159.0 222.0h0M177.4 256.2h0M143.9 233.5h0M160.8 252.4h0M132.9 227.1h0M135.7 224.9h0M145.4 235.0h0M98.1 233.3h0M140.7 232.8h0M93.0 248.5h0M176.6 243.4h0M147.7 231.9h0M85.8 238.7h0M165.9 236.4h0M167.5 224.7h0M103.7 246.2h0M100.8 237.0h0M77.9 225.5h0M146.1 255.8h0M94.0 216.1h0M90.5 226.7h0M120.3 221.2h0M112.8 248.6h0M74.6 232.6h0M175.6 250.4h0M179.1 242.1h0M104.4 213.2h0M85.6 221.0h0M155.3 248.7h0M62.9 227.5h0M123.2 234.6h0M112.9 240.4h0M83.6 234.8h0M77.4 223.3h0M170.4 231.4h0M109.7 224.7h0M94.0 247.4h0M75.8 219.0h0M97.5 238.0h0M177.0 247.1h0M105.0 225.2h0M66.0 226.4h0M102.2 239.5h0M148.1 233.2h0M161.0 227.0h0M80.5 230.4h0M142.7 234.7h0M163.6 260.4h0M176.3 230.8h0M135.3 248.5h0M76.0 232.8h0M69.9 233.2h0M84.3 220.2h0M125.7 243.4h0M182.4 243.7h0M175.9 241.0h0M68.8 211.6h0M64.7 236.9h0M149.3 221.9h0M178.0 247.7h0M150.9 247.7h0M182.7 242.8h0M76.6 239.1h0M179.7 249.8h0M159.5 236.1h0M141.4 230.3h0M173.4 236.4h0M120.1 248.5h0M132.5 238.7h0M114.6 231.2h0M180.7 260.2h0M154.7 240.1h0M159.9 248.1h0M158.3 233.8h0M138.3 224.0h0M166.4 235.9h0M127.4 241.9h0M67.4 223.3h0M169.3 241.0h0M132.4 236.1h0M88.5 239.3h0M126.3 237.2h0M145.4 241.2h0M109.0 234.7h0M170.9 256.2h0M99.8 222.0h0M63.0 211.4h0M136.4 240.4h0M109.4 238.3h0M126.4 237.4h0M168.4 243.5h0M85.6 235.1h0M130.9 248.4h0M69.2 214.8h0M99.7 226.3h0M157.1 246.1h0M130.1 238.1h0M181.9 232.7h0M159.2 246.1h0M74.6 234.5h0M152.6 247.1h0M155.3 227.6h0M179.4 246.6h0M116.1 250.1h0M123.6 228.9h0M106.2 229.1h0M147.1 231.3h0M112.6 226.3h0M75.7 207.0h0M175.2 237.3h0M145.9 227.2h0M102.6 237.5h0M68.5 219.5h0M59.6 228.0h0M126.4 221.3h0M98.2 240.6h0M171.2 233.3h0M86.6 230.0h0M165.9 245.2h0M115.2 228.5h0M123.7 242.9h0M80.8 241.4h0M118.5 237.9h0M59.9 206.4h0M146.1 233.2h0M96.8 220.7h0M147.5 236.5h0M86.5 237.7h0M167.2 235.0h0M69.6 232.3h0M134.8 242.5h0M68.3 242.8h0M109.1 249.6h0M145.5 242.3h0M79.8 226.4h0M84.1 223.6h0M136.0 226.2h0M130.1 238.4h0M149.1 241.2h0M73.9 218.9h0M159.8 247.0h0M108.5 228.5h0M159.0 229.7h0M63.6 222.9h0M62.5 246.8h0M89.7 242.9h0M173.4 256.7h0M157.5 241.5h0M105.1 243.3h0M113.5 243.7h0M177.5 242.9h0M97.6 219.3h0M86.9 226.0h0M114.7 225.8h0M152.1 242.2h0M93.8 244.4h0M155.3 236.1h0M82.8 250.1h0M115.5 238.6h0M115.9 248.9h0M138.3 228.7h0M138.4 259.1h0M68.5 229.4h0M160.7 233.6h0M69.4 234.7h0M144.8 249.6h0M107.0 226.1h0M80.9 228.5h0M159.4 244.7h0M86.2 225.9h0M62.3 235.9h0M160.7 247.6h0M86.0 238.6h0M96.2 225.9h0M72.3 235.5h0M117.1 221.2h0M155.0 219.5h0M157.3 232.6h0M149.6 229.8h0M169.3 235.2h0M160.8 239.3h0M129.4 254.3h0M108.1 241.5h0M145.2 251.0h0M91.1 238.0h0M101.3 236.5h0M97.3 237.6h0M121.6 217.0h0M95.3 227.8h0M168.9 241.7h0M171.7 249.1h0M69.8 243.2h0M69.0 231.4h0M85.1 245.5h0M176.0 247.6h0M66.1 225.3h0M115.4 223.1h0M69.2 216.0h0M180.7 244.8h0M101.5 243.6h0M93.7 229.3h0M105.8 235.9h0M72.4 217.0h0M158.0 249.5h0M118.5 242.3h0M114.3 222.7h0M182.0 246.0h0M173.0 248.0h0M82.0 233.1h0M116.0 227.4h0M179.1 255.9h0M135.6 246.5h0M94.0 227.2h0M174.4 234.3h0M95.2 234.2h0M120.4 228.8h0M69.8 223.0h0M134.4 231.9h0M74.5 248.5h0M62.0 239.3h0M110.9 231.7h0M153.4 254.9h0M143.7 237.9h0M104.0 228.5h0M155.3 254.7h0M89.7 220.9h0M98.4 208.7h0M162.0 235.4h0M94.4 217.5h0M164.3 244.7h0M180.6 248.1h0M91.6 241.0h0M74.0 258.1h0M167.9 259.3h0M119.1 252.9h0M83.6 240.7h0M95.6 238.5h0M138.6 228.5h0M65.3 231.5h0M161.2 220.6h0M95.7 221.2h0M76.4 232.4h0M159.9 250.5h0M132.2 235.4h0M68.6 226.3h0M78.2 239.4h0M132.6 253.8h0M135.0 260.0h0M76.1 228.3h0M171.9 234.6h0M170.9 247.8h0M110.3 220.9h0M103.6 221.1h0M170.3 225.5h0M120.4 243.7h0M158.9 241.4h0M139.3 240.4h0M99.2 240.3h0M71.8 219.9h0M60.1 222.3h0M93.2 230.9h0M133.1 239.8h0M147.6 258.6h0M149.4 239.5h0M102.2 215.8h0M78.9 219.0h0M77.4 230.7h0M103.8 247.8h0M123.0 246.2h0M179.1 253.4h0M120.3 247.8h0M126.6 243.2h0M145.3 229.3h0M145.4 229.0h0M160.8 242.8h0M133.1 237.4h0M170.5 243.2h0M124.3 238.8h0M64.4 222.8h0M99.0 219.7h0M154.2 232.1h0M152.8 247.6h0M144.9 216.4h0M63.6 225.6h0M120.8 225.0h0M75.9 233.5h0M72.6 226.6h0M83.5 219.9h0M176.4 249.0h0M108.6 229.2h0M102.0 217.2h0M60.3 241.5h0M121.7 250.7h0M78.0 236.1h0M166.3 239.8h0M156.5 257.3h0M88.2 227.7h0M182.8 246.0h0M155.7 241.8h0M164.4 232.6h0M94.6 232.6h0M155.6 248.1h0M143.6 235.9h0M166.3 258.9h0M165.8 239.4h0M146.9 227.8h0M126.0 249.2h0M162.9 227.8h0M93.6 219.6h0M74.5 234.7h0M113.9 208.7h0M84.5 244.3h0M142.5 223.1h0M104.8 221.9h0M136.1 249.7h0M97.3 220.5h0M160.3 230.2h0M124.8 241.4h0M131.8 231.8h0M110.6 222.1h0M178.9 252.3h0M172.4 260.0h0M117.3 227.9h0M138.3 220.4h0M112.4 219.2h0M89.3 220.8h0M128.1 255.0h0M102.6 240.7h0M100.5 225.0h0M93.1 233.2h0M77.6 211.8h0M69.1 213.9h0M134.5 223.3h0M75.8 223.0h0M116.3 255.4h0M67.2 221.9h0M103.8 213.8h0M63.9 232.3h0M86.5 233.5h0M95.3 229.4h0M132.1 254.4h0M93.3 215.8h0M97.4 228.5h0M176.5 259.1h0M63.9 243.6h0M166.3 242.2h0M181.7 224.9h0M151.7 225.5h0M73.1 233.1h0M96.0 217.5h0M69.9 226.3h0M95.0 251.6h0M137.8 226.5h0M89.0 215.5h0M172.9 255.1h0M69.2 223.6h0M71.4 222.0h0M154.5 231.0h0M130.1 258.4h0M62.8 231.8h0M123.5 233.7h0M112.1 235.2h0M153.7 234.3h0M60.3 210.9h0M63.0 230.5h0M155.3 222.9h0M86.2 216.4h0M122.9 230.0h0M179.6 245.4h0M93.3 241.4h0M66.7 209.8h0M151.5 236.2h0M144.0 234.4h0M109.8 225.2h0M117.2 230.3h0M133.5 237.5h0M91.8 216.4h0M109.6 230.2h0M98.2 220.5h0M77.7 226.0h0M181.8 246.9h0M163.8 232.3h0M157.9 251.3h0M171.3 251.3h0M175.3 249.1h0M167.8 233.8h0M83.3 231.4h0M71.0 218.5h0M113.5 228.1h0M153.1 233.0h0M152.5 234.9h0M98.0 251.0h0M89.2 231.2h0M133.4 227.7h0M81.8 210.7h0M99.5 213.3h0M131.7 253.7h0M159.6 236.0h0M92.0 227.5h0M156.8 229.6h0M80.2 224.3h0M104.8 222.0h0M119.7 240.1h0M104.6 236.6h0M96.6 245.6h0M91.6 216.9h0M149.7 230.3h0M154.5 230.7h0M62.6 227.7h0M113.1 240.7h0M86.1 217.9h0M73.1 227.4h0M163.6 240.0h0M130.6 222.5h0M158.5 240.0h0M148.8 249.8h0M122.2 241.6h0M150.3 240.0h0M112.5 229.5h0M95.4 234.9h0M97.2 222.7h0M83.5 227.4h0M102.9 232.8h0M128.6 240.1h0M144.4 223.2h0M87.0 223.6h0M107.1 226.8h0M157.0 256.5h0M135.5 226.8h0M133.3 236.9h0M113.5 225.7h0M62.3 236.5h0M162.6 236.3h0M117.6 235.8h0M76.0 216.2h0M75.2 222.8h0M146.1 245.7h0M158.8 229.6h0M174.8 237.5h0M118.3 237.4h0M163.2 238.0h0M110.4 246.4h0M129.4 245.7h0M123.3 234.2h0M155.5 251.0h0M126.3 238.8h0M169.0 253.1h0M123.2 235.1h0M81.3 231.0h0M112.6 228.5h0M104.0 219.8h0M93.4 239.9h0M159.1 239.2h0M122.5 244.7h0M160.7 255.0h0M153.1 229.8h0M124.2 226.6h0M82.2 226.6h0M75.4 248.8h0M164.3 250.1h0M71.6 216.9h0M91.0 239.9h0M84.5 222.1h0M68.9 244.0h0M158.9 252.6h0M75.8 222.2h0M85.6 241.6h0M103.2 230.1h0M136.2 238.5h0M98.8 233.8h0M118.5 233.4h0M74.0 235.7h0M134.3 227.9h0M122.1 257.3h0M99.6 231.2h0M161.2 242.0h0M160.4 230.9h0M156.9 246.6h0M87.3 206.3h0M99.8 221.7h0M165.3 244.3h0M168.2 254.2h0M69.8 217.6h0M126.7 226.1h0M66.7 212.3h0M159.3 256.6h0M62.9 217.2h0M83.3 242.5h0M119.3 236.4h0M157.7 246.4h0M170.3 244.3h0M157.5 250.6h0M123.6 231.5h0M147.0 228.7h0M116.0 234.4h0M97.5 227.8h0M129.4 238.1h0M179.5 260.4h0M124.4 246.3h0M97.1 238.3h0M113.9 250.7h0M97.9 243.5h0M114.7 242.5h0M180.9 225.9h0M118.2 240.5h0M176.5 251.9h0M110.3 241.4h0M124.8 233.7h0M139.5 224.0h0M93.3 231.4h0M64.5 220.6h0M139.0 244.3h0M177.7 247.6h0M141.5 248.2h0M80.2 235.7h0M143.1 228.1h0M121.3 248.3h0M103.1 234.3h0M97.1 247.9h0M127.8 225.6h0M85.2 250.3h0M165.2 235.5h0M87.8 226.6h0M79.1 222.7h0M160.1 253.9h0M90.9 224.6h0M107.5 240.3h0M153.8 254.7h0M94.9 234.2h0M148.5 227.2h0M116.3 244.3h0M174.2 240.7h0M144.7 239.2h0M73.6 229.9h0M155.6 245.0h0M69.6 223.1h0M142.6 247.1h0M106.2 248.0h0M157.2 239.4h0M84.3 248.2h0M148.3 241.3h0M172.6 223.1h0M128.9 242.5h0M156.8 240.4h0M87.4 235.5h0M62.7 221.7h0M122.9 241.0h0M172.8 252.8h0M92.6 253.0h0M111.3 260.1h0M108.2 230.5h0M146.8 232.6h0M69.1 208.8h0M157.4 246.7h0M123.3 220.6h0M131.8 218.6h0M136.4 225.0h0M60.6 209.3h0M153.9 243.6h0M92.6 228.7h0M92.5 228.9h0M87.1 238.9h0M68.8 234.1h0M158.1 240.0h0M142.6 241.7h0M125.2 229.1h0M173.8 230.3h0M78.3 225.5h0M163.1 234.5h0M101.5 241.1h0M96.3 247.9h0M92.7 219.4h0M139.7 225.8h0M164.0 256.6h0M180.2 241.2h0M76.9 215.7h0M167.5 248.5h0M147.0 241.2h0M136.7 236.3h0M152.5 256.1h0M70.3 232.2h0M137.0 234.8h0M112.5 244.5h0M180.7 235.0h0M102.0 215.7h0M86.3 234.5h0M165.8 229.9h0M100.9 236.9h0M162.3 256.0h0M73.1 243.1h0M73.9 232.6h0M106.9 230.2h0M152.1 230.0h0M105.1 239.9h0M89.1 215.8h0M120.6 255.3h0" stroke="#cf5a24" stroke-width="1.7" stroke-linecap="round" fill="none"/>
<path d="M174.5 247.3h0M179.4 261.6h0M122.4 250.4h0M138.5 212.7h0M179.5 249.4h0M112.6 213.0h0M112.8 211.1h0M77.5 203.4h0M176.3 227.0h0M171.1 260.0h0M93.6 252.9h0M172.0 252.5h0M105.9 220.8h0M114.9 256.4h0M127.3 244.3h0M135.4 244.9h0M166.0 250.6h0M166.1 223.7h0M69.4 250.9h0M156.2 259.0h0M105.2 246.5h0M129.2 257.6h0M163.9 263.0h0M70.9 263.1h0M83.2 215.4h0M91.9 257.2h0M122.8 203.1h0M82.1 243.9h0M145.4 254.4h0M159.7 220.5h0M119.4 256.4h0M136.7 209.8h0M105.5 245.8h0M144.8 251.6h0M77.6 219.7h0M68.6 260.3h0M119.4 211.8h0M178.3 262.2h0M143.4 230.4h0M165.1 217.1h0M67.0 255.9h0M72.0 251.2h0M148.9 255.7h0M151.9 228.0h0M173.9 258.5h0M92.8 232.3h0M81.8 210.1h0M155.6 256.0h0M106.7 255.4h0M181.6 251.6h0M174.2 221.7h0M114.3 242.6h0M155.3 261.5h0M158.1 225.9h0M176.7 237.3h0M148.1 240.1h0M113.0 225.5h0M105.7 233.7h0M115.4 196.1h0M155.4 227.2h0M115.9 256.2h0M118.7 232.4h0M102.1 262.4h0M122.3 227.9h0M122.7 260.9h0M130.4 242.1h0M144.6 216.7h0M149.4 232.6h0M161.5 230.6h0M80.5 209.2h0M83.3 245.3h0M154.1 250.3h0M104.2 232.9h0M85.7 250.6h0M157.6 220.6h0M114.5 220.9h0M69.9 256.4h0M179.1 262.2h0M86.9 256.4h0M82.1 210.2h0M73.1 214.9h0M160.8 257.1h0M99.5 220.2h0M173.4 259.7h0M143.5 248.7h0M111.7 262.3h0M175.2 236.9h0M104.9 260.0h0M73.7 253.2h0M179.8 250.9h0M158.3 257.7h0M124.7 258.4h0M73.7 239.3h0M141.3 228.7h0M81.4 225.9h0M141.0 257.2h0M125.6 211.1h0M140.9 237.4h0M137.8 236.6h0M78.3 215.7h0M112.4 261.8h0M107.4 199.6h0M142.0 257.5h0M159.8 240.5h0M182.8 226.2h0M158.0 230.1h0M164.9 252.8h0M102.5 258.6h0M129.9 241.8h0M178.0 230.8h0M112.7 218.0h0M137.0 227.1h0M123.3 258.9h0M141.4 218.7h0M173.0 234.0h0M99.5 213.6h0M176.6 261.8h0M175.6 241.6h0M76.6 207.6h0M103.8 213.4h0M62.6 248.8h0M116.9 220.9h0M107.4 228.1h0M102.9 209.7h0M69.1 203.5h0M68.5 254.7h0M154.6 249.8h0M116.2 205.5h0M83.3 263.0h0M171.4 256.3h0M167.4 261.7h0M69.4 247.3h0M120.5 224.0h0M120.4 261.8h0M109.0 261.8h0M163.5 260.2h0M115.9 223.7h0M178.2 235.3h0M102.6 251.4h0M163.2 254.6h0M78.5 201.9h0M182.8 258.8h0M109.1 247.7h0M70.4 259.1h0M126.8 249.9h0M91.7 207.2h0M98.4 207.0h0M133.2 210.9h0M169.5 257.7h0M114.8 245.9h0M78.3 198.8h0M81.0 232.8h0M114.0 217.2h0M141.8 240.5h0M103.1 227.9h0M158.6 263.0h0M89.8 239.6h0M125.9 216.6h0M85.0 202.1h0M145.7 230.0h0M66.6 243.6h0M119.9 222.1h0M145.6 230.6h0M74.1 261.5h0M153.3 220.8h0M146.7 256.8h0M161.4 263.1h0M151.2 233.7h0M115.8 208.4h0M151.5 255.3h0M114.5 245.7h0M156.6 221.2h0M126.2 203.3h0M113.4 243.7h0M90.3 211.9h0M164.7 231.5h0M63.7 203.0h0M69.4 204.8h0M165.0 262.4h0M68.3 205.7h0M89.0 232.9h0M164.3 229.6h0M88.8 206.8h0M180.9 253.5h0M84.9 242.6h0M152.4 222.6h0M137.9 216.0h0M96.2 221.2h0M124.0 219.9h0M147.4 211.0h0M113.1 257.4h0M125.9 255.5h0M151.0 258.7h0M148.6 227.9h0M104.5 258.8h0M118.8 214.4h0M106.8 217.9h0M89.8 238.0h0M65.4 261.7h0M151.1 237.1h0M69.6 258.0h0M78.4 262.6h0M81.0 259.5h0M73.6 193.3h0M147.5 251.5h0M102.6 253.3h0M182.9 229.2h0M60.3 215.2h0M73.2 208.8h0M182.2 223.9h0M113.1 212.9h0M65.8 203.7h0M82.9 217.1h0M98.9 217.1h0M79.1 255.0h0M60.0 233.9h0M97.5 251.5h0M178.5 233.2h0M77.0 214.2h0M100.8 256.2h0M131.8 211.5h0M80.8 244.1h0M145.8 261.5h0M71.1 225.6h0M74.4 255.7h0M86.2 229.5h0M61.0 195.4h0M59.4 254.7h0M147.4 212.4h0M169.3 254.4h0M180.9 233.0h0M106.9 227.5h0M71.0 250.9h0M88.5 234.5h0M144.9 232.2h0M101.7 194.4h0M60.2 210.2h0M83.1 254.1h0M105.7 244.6h0M163.1 227.2h0M131.1 260.3h0M156.0 224.7h0M113.0 215.4h0M158.2 241.7h0M111.9 223.4h0M92.5 208.1h0M149.4 253.0h0M73.8 232.4h0M63.1 195.4h0M78.6 256.3h0M105.8 220.9h0M166.8 227.6h0M96.9 226.4h0M105.4 214.7h0M162.7 257.6h0M174.1 250.3h0M94.3 209.0h0M143.4 237.8h0M150.4 211.6h0M134.8 217.9h0M163.3 243.9h0M175.3 262.2h0M72.2 193.0h0M168.7 241.5h0M60.7 262.2h0M78.6 224.6h0M67.1 204.0h0M174.3 227.5h0M114.9 226.4h0M101.2 240.3h0M65.8 242.3h0M182.7 221.5h0M68.6 206.3h0M99.7 198.4h0M147.9 255.7h0M96.1 252.2h0M139.8 225.0h0M72.2 223.5h0M89.8 210.9h0M61.9 204.2h0M74.2 263.0h0M108.5 221.3h0M71.2 218.0h0M88.6 202.9h0M73.7 208.6h0M172.0 257.8h0M119.1 239.8h0M73.4 196.2h0M91.2 262.4h0M128.2 209.4h0M148.7 233.4h0M75.5 206.7h0M110.9 229.3h0M177.7 258.1h0M154.9 253.7h0M175.9 227.8h0M101.3 200.5h0M67.9 253.7h0M131.8 239.8h0M143.6 223.9h0M88.4 217.4h0M143.0 259.7h0M69.2 204.7h0M82.5 236.1h0M113.4 214.7h0M102.2 247.8h0M74.3 205.2h0M115.0 247.9h0M165.5 250.0h0M178.7 235.9h0M110.6 214.8h0M69.2 192.5h0M113.1 210.5h0M143.8 230.6h0M163.0 257.7h0M117.5 218.1h0M99.5 225.0h0M104.4 261.2h0M125.0 249.9h0M136.9 258.9h0M104.2 262.4h0M66.6 201.3h0M155.1 226.9h0M87.4 223.1h0M78.7 214.5h0M121.1 234.8h0M120.8 244.3h0M127.7 253.7h0M68.1 246.4h0M94.5 233.2h0M161.0 256.0h0M103.6 254.1h0M140.6 262.1h0M104.5 236.5h0M136.9 247.8h0M127.0 247.1h0M154.9 258.2h0M147.0 261.2h0M104.3 262.7h0M149.8 261.3h0M94.8 248.4h0M120.4 232.5h0M146.5 248.1h0M90.8 216.8h0M181.1 237.2h0M99.3 223.9h0M144.8 250.3h0M131.5 217.5h0M81.5 244.3h0M61.4 216.7h0M77.7 226.2h0M94.1 233.8h0M182.9 223.4h0M73.8 196.1h0M132.3 218.1h0M79.4 220.2h0M63.7 256.7h0M174.5 259.8h0M121.0 202.6h0M77.0 221.1h0M91.2 213.8h0M67.9 251.3h0M87.6 219.6h0M73.1 209.8h0M138.8 260.8h0M63.8 209.4h0M117.0 230.5h0M128.4 259.1h0M169.9 234.0h0M118.2 255.8h0M169.5 259.2h0M144.1 219.6h0M91.5 218.5h0M171.3 232.4h0M99.7 195.5h0M111.3 226.8h0M159.1 263.0h0M82.4 209.2h0M101.8 230.0h0M142.9 260.7h0M101.9 203.9h0M159.1 218.2h0M121.3 225.1h0M169.1 224.7h0M62.3 241.4h0M73.6 259.9h0M116.0 235.1h0M60.4 217.4h0M83.6 235.3h0M159.6 224.3h0M181.0 255.6h0M70.1 248.9h0M170.9 250.0h0M161.6 252.6h0M156.8 214.0h0M85.0 257.2h0M77.7 250.2h0M166.0 258.8h0M125.3 218.7h0M164.1 255.1h0M126.5 223.7h0M113.6 261.9h0M103.8 194.8h0M122.3 244.3h0M154.6 262.9h0M131.0 218.1h0M156.1 253.2h0M129.6 250.0h0M108.5 207.3h0M147.0 225.1h0M105.2 249.3h0M151.4 223.5h0M72.7 263.3h0M97.3 209.5h0M176.0 257.3h0M137.3 212.5h0M72.3 226.5h0M121.6 254.8h0M125.0 245.7h0M103.4 208.8h0M117.1 247.3h0M166.2 260.5h0M119.1 230.8h0M130.0 220.9h0M136.6 253.1h0M148.0 223.7h0M91.5 214.3h0M141.7 251.3h0M87.7 253.5h0M158.2 239.3h0M92.4 231.8h0M65.1 246.1h0M76.3 256.8h0M114.6 226.6h0M127.2 207.7h0M104.7 256.5h0M121.5 260.0h0M161.8 259.0h0" stroke="#16699f" stroke-width="2.6" stroke-linecap="round" fill="none"/>
<path d="M174.5 247.3h0M179.4 261.6h0M122.4 250.4h0M138.5 212.7h0M179.5 249.4h0M112.6 213.0h0M112.8 211.1h0M77.5 203.4h0M176.3 227.0h0M171.1 260.0h0M93.6 252.9h0M172.0 252.5h0M105.9 220.8h0M114.9 256.4h0M127.3 244.3h0M135.4 244.9h0M166.0 250.6h0M166.1 223.7h0M69.4 250.9h0M156.2 259.0h0M105.2 246.5h0M129.2 257.6h0M163.9 263.0h0M70.9 263.1h0M83.2 215.4h0M91.9 257.2h0M122.8 203.1h0M82.1 243.9h0M145.4 254.4h0M159.7 220.5h0M119.4 256.4h0M136.7 209.8h0M105.5 245.8h0M144.8 251.6h0M77.6 219.7h0M68.6 260.3h0M119.4 211.8h0M178.3 262.2h0M143.4 230.4h0M165.1 217.1h0M67.0 255.9h0M72.0 251.2h0M148.9 255.7h0M151.9 228.0h0M173.9 258.5h0M92.8 232.3h0M81.8 210.1h0M155.6 256.0h0M106.7 255.4h0M181.6 251.6h0M174.2 221.7h0M114.3 242.6h0M155.3 261.5h0M158.1 225.9h0M176.7 237.3h0M148.1 240.1h0M113.0 225.5h0M105.7 233.7h0M115.4 196.1h0M155.4 227.2h0M115.9 256.2h0M118.7 232.4h0M102.1 262.4h0M122.3 227.9h0M122.7 260.9h0M130.4 242.1h0M144.6 216.7h0M149.4 232.6h0M161.5 230.6h0M80.5 209.2h0M83.3 245.3h0M154.1 250.3h0M104.2 232.9h0M85.7 250.6h0M157.6 220.6h0M114.5 220.9h0M69.9 256.4h0M179.1 262.2h0M86.9 256.4h0M82.1 210.2h0M73.1 214.9h0M160.8 257.1h0M99.5 220.2h0M173.4 259.7h0M143.5 248.7h0M111.7 262.3h0M175.2 236.9h0M104.9 260.0h0M73.7 253.2h0M179.8 250.9h0M158.3 257.7h0M124.7 258.4h0M73.7 239.3h0M141.3 228.7h0M81.4 225.9h0M141.0 257.2h0M125.6 211.1h0M140.9 237.4h0M137.8 236.6h0M78.3 215.7h0M112.4 261.8h0M107.4 199.6h0M142.0 257.5h0M159.8 240.5h0M182.8 226.2h0M158.0 230.1h0M164.9 252.8h0M102.5 258.6h0M129.9 241.8h0M178.0 230.8h0M112.7 218.0h0M137.0 227.1h0M123.3 258.9h0M141.4 218.7h0M173.0 234.0h0M99.5 213.6h0M176.6 261.8h0M175.6 241.6h0M76.6 207.6h0M103.8 213.4h0M62.6 248.8h0M116.9 220.9h0M107.4 228.1h0M102.9 209.7h0M69.1 203.5h0M68.5 254.7h0M154.6 249.8h0M116.2 205.5h0M83.3 263.0h0M171.4 256.3h0M167.4 261.7h0M69.4 247.3h0M120.5 224.0h0M120.4 261.8h0M109.0 261.8h0M163.5 260.2h0M115.9 223.7h0M178.2 235.3h0M102.6 251.4h0M163.2 254.6h0M78.5 201.9h0M182.8 258.8h0M109.1 247.7h0M70.4 259.1h0M126.8 249.9h0M91.7 207.2h0M98.4 207.0h0M133.2 210.9h0M169.5 257.7h0M114.8 245.9h0M78.3 198.8h0M81.0 232.8h0M114.0 217.2h0M141.8 240.5h0M103.1 227.9h0M158.6 263.0h0M89.8 239.6h0M125.9 216.6h0M85.0 202.1h0M145.7 230.0h0M66.6 243.6h0M119.9 222.1h0M145.6 230.6h0M74.1 261.5h0M153.3 220.8h0M146.7 256.8h0M161.4 263.1h0M151.2 233.7h0M115.8 208.4h0M151.5 255.3h0M114.5 245.7h0M156.6 221.2h0M126.2 203.3h0M113.4 243.7h0M90.3 211.9h0M164.7 231.5h0M63.7 203.0h0M69.4 204.8h0M165.0 262.4h0M68.3 205.7h0M89.0 232.9h0M164.3 229.6h0M88.8 206.8h0M180.9 253.5h0M84.9 242.6h0M152.4 222.6h0M137.9 216.0h0M96.2 221.2h0M124.0 219.9h0M147.4 211.0h0M113.1 257.4h0M125.9 255.5h0M151.0 258.7h0M148.6 227.9h0M104.5 258.8h0M118.8 214.4h0M106.8 217.9h0M89.8 238.0h0M65.4 261.7h0M151.1 237.1h0M69.6 258.0h0M78.4 262.6h0M81.0 259.5h0M73.6 193.3h0M147.5 251.5h0M102.6 253.3h0M182.9 229.2h0M60.3 215.2h0M73.2 208.8h0M182.2 223.9h0M113.1 212.9h0M65.8 203.7h0M82.9 217.1h0M98.9 217.1h0M79.1 255.0h0M60.0 233.9h0M97.5 251.5h0M178.5 233.2h0M77.0 214.2h0M100.8 256.2h0M131.8 211.5h0M80.8 244.1h0M145.8 261.5h0M71.1 225.6h0M74.4 255.7h0M86.2 229.5h0M61.0 195.4h0M59.4 254.7h0M147.4 212.4h0M169.3 254.4h0M180.9 233.0h0M106.9 227.5h0M71.0 250.9h0M88.5 234.5h0M144.9 232.2h0M101.7 194.4h0M60.2 210.2h0M83.1 254.1h0M105.7 244.6h0M163.1 227.2h0M131.1 260.3h0M156.0 224.7h0M113.0 215.4h0M158.2 241.7h0M111.9 223.4h0M92.5 208.1h0M149.4 253.0h0M73.8 232.4h0M63.1 195.4h0M78.6 256.3h0M105.8 220.9h0M166.8 227.6h0M96.9 226.4h0M105.4 214.7h0M162.7 257.6h0M174.1 250.3h0M94.3 209.0h0M143.4 237.8h0M150.4 211.6h0M134.8 217.9h0M163.3 243.9h0M175.3 262.2h0M72.2 193.0h0M168.7 241.5h0M60.7 262.2h0M78.6 224.6h0M67.1 204.0h0M174.3 227.5h0M114.9 226.4h0M101.2 240.3h0M65.8 242.3h0M182.7 221.5h0M68.6 206.3h0M99.7 198.4h0M147.9 255.7h0M96.1 252.2h0M139.8 225.0h0M72.2 223.5h0M89.8 210.9h0M61.9 204.2h0M74.2 263.0h0M108.5 221.3h0M71.2 218.0h0M88.6 202.9h0M73.7 208.6h0M172.0 257.8h0M119.1 239.8h0M73.4 196.2h0M91.2 262.4h0M128.2 209.4h0M148.7 233.4h0M75.5 206.7h0M110.9 229.3h0M177.7 258.1h0M154.9 253.7h0M175.9 227.8h0M101.3 200.5h0M67.9 253.7h0M131.8 239.8h0M143.6 223.9h0M88.4 217.4h0M143.0 259.7h0M69.2 204.7h0M82.5 236.1h0M113.4 214.7h0M102.2 247.8h0M74.3 205.2h0M115.0 247.9h0M165.5 250.0h0M178.7 235.9h0M110.6 214.8h0M69.2 192.5h0M113.1 210.5h0M143.8 230.6h0M163.0 257.7h0M117.5 218.1h0M99.5 225.0h0M104.4 261.2h0M125.0 249.9h0M136.9 258.9h0M104.2 262.4h0M66.6 201.3h0M155.1 226.9h0M87.4 223.1h0M78.7 214.5h0M121.1 234.8h0M120.8 244.3h0M127.7 253.7h0M68.1 246.4h0M94.5 233.2h0M161.0 256.0h0M103.6 254.1h0M140.6 262.1h0M104.5 236.5h0M136.9 247.8h0M127.0 247.1h0M154.9 258.2h0M147.0 261.2h0M104.3 262.7h0M149.8 261.3h0M94.8 248.4h0M120.4 232.5h0M146.5 248.1h0M90.8 216.8h0M181.1 237.2h0M99.3 223.9h0M144.8 250.3h0M131.5 217.5h0M81.5 244.3h0M61.4 216.7h0M77.7 226.2h0M94.1 233.8h0M182.9 223.4h0M73.8 196.1h0M132.3 218.1h0M79.4 220.2h0M63.7 256.7h0M174.5 259.8h0M121.0 202.6h0M77.0 221.1h0M91.2 213.8h0M67.9 251.3h0M87.6 219.6h0M73.1 209.8h0M138.8 260.8h0M63.8 209.4h0M117.0 230.5h0M128.4 259.1h0M169.9 234.0h0M118.2 255.8h0M169.5 259.2h0M144.1 219.6h0M91.5 218.5h0M171.3 232.4h0M99.7 195.5h0M111.3 226.8h0M159.1 263.0h0M82.4 209.2h0M101.8 230.0h0M142.9 260.7h0M101.9 203.9h0M159.1 218.2h0M121.3 225.1h0M169.1 224.7h0M62.3 241.4h0M73.6 259.9h0M116.0 235.1h0M60.4 217.4h0M83.6 235.3h0M159.6 224.3h0M181.0 255.6h0M70.1 248.9h0M170.9 250.0h0M161.6 252.6h0M156.8 214.0h0M85.0 257.2h0M77.7 250.2h0M166.0 258.8h0M125.3 218.7h0M164.1 255.1h0M126.5 223.7h0M113.6 261.9h0M103.8 194.8h0M122.3 244.3h0M154.6 262.9h0M131.0 218.1h0M156.1 253.2h0M129.6 250.0h0M108.5 207.3h0M147.0 225.1h0M105.2 249.3h0M151.4 223.5h0M72.7 263.3h0M97.3 209.5h0M176.0 257.3h0M137.3 212.5h0M72.3 226.5h0M121.6 254.8h0M125.0 245.7h0M103.4 208.8h0M117.1 247.3h0M166.2 260.5h0M119.1 230.8h0M130.0 220.9h0M136.6 253.1h0M148.0 223.7h0M91.5 214.3h0M141.7 251.3h0M87.7 253.5h0M158.2 239.3h0M92.4 231.8h0M65.1 246.1h0M76.3 256.8h0M114.6 226.6h0M127.2 207.7h0M104.7 256.5h0M121.5 260.0h0M161.8 259.0h0" stroke="#2a93d0" stroke-width="1.7" stroke-linecap="round" fill="none"/>
<line x1="58.4" y1="185.9" x2="58.4" y2="263.8" stroke="#555" stroke-width="0.7"/>
<line x1="58.4" y1="263.8" x2="183.2" y2="263.8" stroke="#555" stroke-width="0.7"/>
<line x1="56.6" y1="263.8" x2="58.4" y2="263.8" stroke="#555" stroke-width="0.6"/>
<text x="55.5" y="267.5" font-size="8.9" fill="#333" text-anchor="end">0</text>
<line x1="56.6" y1="234.6" x2="58.4" y2="234.6" stroke="#555" stroke-width="0.6"/>
<text x="55.5" y="238.3" font-size="8.9" fill="#333" text-anchor="end">500</text>
<line x1="56.6" y1="205.4" x2="58.4" y2="205.4" stroke="#555" stroke-width="0.6"/>
<text x="55.5" y="209.1" font-size="8.9" fill="#333" text-anchor="end">1,000</text>
<line x1="58.4" y1="263.8" x2="58.4" y2="265.6" stroke="#555" stroke-width="0.6"/>
<line x1="89.6" y1="263.8" x2="89.6" y2="265.6" stroke="#555" stroke-width="0.6"/>
<line x1="120.8" y1="263.8" x2="120.8" y2="265.6" stroke="#555" stroke-width="0.6"/>
<line x1="152" y1="263.8" x2="152" y2="265.6" stroke="#555" stroke-width="0.6"/>
<line x1="183.2" y1="263.8" x2="183.2" y2="265.6" stroke="#555" stroke-width="0.6"/>
<text x="57.9" y="277.4" font-size="9.2" fill="#333" text-anchor="middle">10<tspan font-size="6" dy="-3.6">3</tspan></text>
<text x="120.3" y="277.4" font-size="9.2" fill="#333" text-anchor="middle">10<tspan font-size="6" dy="-3.6">5</tspan></text>
<text x="182.7" y="277.4" font-size="9.2" fill="#333" text-anchor="middle">10<tspan font-size="6" dy="-3.6">7</tspan></text>
<text x="118" y="288" font-size="8.7" fill="#333" text-anchor="middle"><tspan font-style="italic">N</tspan> (cycles)</text>
<text transform="translate(28.5 225) rotate(-90)" font-size="8.7" fill="#333" text-anchor="middle">S (MPa)</text>
<circle cx="142" cy="191.6" r="2.3" fill="#1f87c5" stroke="#135f91" stroke-width="0.5"/>
<circle cx="142" cy="201.8" r="2.3" fill="#c4511f" stroke="#8e3812" stroke-width="0.5"/>
<text x="147.5" y="194.66" font-size="8.5" fill="#333">FD-AM</text>
<text x="147.5" y="204.86" font-size="8.5" fill="#333">FD-CMA</text>
<path d="M286.4 83.3L286.4 44.1A39.2 39.2 0 1 1 263.36 115.01Z" fill="#5e6d8b"/>
<path d="M286.4 83.3L263.36 115.01A39.2 39.2 0 0 1 286.4 44.1Z" fill="#92cd82"/>
<path d="M397 83.3L397 44.1A39.2 39.2 0 0 1 436.2 83.3Z" fill="#5cb85c"/>
<path d="M397 83.3L436.2 83.3A39.2 39.2 0 1 1 357.88 80.84Z" fill="#92cd82"/>
<path d="M397 83.3L357.88 80.84A39.2 39.2 0 0 1 397 44.1Z" fill="#5e6d8b"/>
<text x="289" y="32" font-size="8.6" fill="#333" text-anchor="middle">Standardized curves</text>
<text x="403.8" y="32" font-size="8.6" fill="#333" text-anchor="middle">No. specimens per curve</text>
<text x="268" y="77.55" font-size="8.2" fill="#2b3a2b" text-anchor="middle">Standard</text>
<text x="268" y="87.05" font-size="8.2" fill="#2b3a2b" text-anchor="middle">40%</text>
<text x="384" y="59.95" font-size="8.2" fill="#2a3040" text-anchor="middle">Insuffi-</text>
<text x="384" y="69.45" font-size="8.2" fill="#2a3040" text-anchor="middle">cient</text>
<text x="384" y="78.95" font-size="8.2" fill="#2a3040" text-anchor="middle">24%</text>
<text x="413.7" y="65.95" font-size="8.2" fill="#2b3a2b" text-anchor="middle">Design</text>
<text x="413.7" y="75.15" font-size="8.2" fill="#2b3a2b" text-anchor="middle">25%</text>
<text x="397" y="101.25" font-size="8.2" fill="#2b3a2b" text-anchor="middle">Preliminary</text>
<text x="397" y="110.75" font-size="8.2" fill="#2b3a2b" text-anchor="middle">51%</text>
<path d="M283.98 265.2L283.98 263.58L286.68 263.04L289.33 262.39L291.91 261.59L294.45 260.64L296.93 259.53L299.37 258.25L301.75 256.79L304.09 255.15L306.39 253.35L308.65 251.37L310.86 249.24L313.04 246.98L315.17 244.6L317.27 242.13L319.34 239.6L321.37 237.03L323.37 234.45L325.34 231.91L327.27 229.42L329.18 227.02L331.05 224.74L332.9 222.6L334.72 220.64L336.52 218.86L338.29 217.29L340.03 215.94L341.75 214.81L343.44 213.93L345.12 213.29L346.77 212.88L348.39 212.71L350 212.76L351.59 213.04L353.15 213.52L354.7 214.19L356.22 215.04L357.73 216.06L359.22 217.22L360.69 218.5L362.15 219.9L363.59 221.39L365.01 222.96L366.41 224.59L367.8 226.26L369.17 227.97L370.53 229.69L371.88 231.41L373.2 233.13L374.52 234.83L375.82 236.51L377.11 238.15L378.38 239.75L379.64 241.31L380.89 242.81L382.12 244.26L383.35 245.65L384.56 246.98L385.76 248.25L386.94 249.45L388.12 250.6L389.29 251.68L390.44 252.7L391.58 253.66L392.72 254.56L393.84 255.4L394.95 256.19L396.05 256.93L397.14 257.61L398.23 258.25L399.3 258.84L400.37 259.39L401.42 259.89L402.47 260.36L403.5 260.79L404.53 261.18L405.55 261.55L406.56 261.88L407.57 262.19L408.56 262.47L409.55 262.72L409.55 265.2Z" fill="#5e6d8b"/>
<path d="M330.35 265.2L330.35 265.17L331.84 265.16L333.3 265.14L334.75 265.1L336.18 265.06L337.6 265L339 264.91L340.38 264.79L341.75 264.63L343.1 264.43L344.44 264.16L345.76 263.82L347.07 263.4L348.37 262.87L349.65 262.23L350.92 261.46L352.18 260.54L353.42 259.47L354.65 258.22L355.87 256.8L357.08 255.2L358.27 253.41L359.45 251.45L360.63 249.31L361.79 247.01L362.94 244.57L364.08 242.02L365.21 239.37L366.32 236.67L367.43 233.95L368.53 231.24L369.62 228.59L370.7 226.03L371.77 223.61L372.83 221.35L373.88 219.31L374.93 217.5L375.96 215.95L376.99 214.69L378 213.73L379.01 213.08L380.01 212.75L381 212.73L381.99 213.01L382.97 213.59L383.93 214.45L384.9 215.56L385.85 216.9L386.8 218.45L387.74 220.19L388.67 222.07L389.59 224.07L390.51 226.16L391.42 228.32L392.33 230.51L393.23 232.72L394.12 234.92L395 237.09L395.88 239.21L396.75 241.27L397.62 243.25L398.48 245.14L399.33 246.94L400.18 248.64L401.03 250.24L401.86 251.73L402.69 253.11L403.52 254.39L404.34 255.56L405.15 256.64L405.96 257.62L406.77 258.5L407.57 259.31L408.36 260.03L409.15 260.67L409.93 261.25L410.71 261.76L411.48 262.22L412.25 262.62L413.02 262.97L413.78 263.28L413.78 265.2Z" fill="#8cc7ea"/>
<path d="M378.62 265.2L378.62 263.41L378.93 263.05L379.24 262.64L379.55 262.17L379.86 261.63L380.16 261.02L380.47 260.32L380.78 259.54L381.08 258.67L381.39 257.7L381.69 256.63L381.99 255.46L382.3 254.19L382.6 252.8L382.9 251.32L383.2 249.73L383.5 248.04L383.8 246.26L384.1 244.4L384.39 242.46L384.69 240.45L384.99 238.4L385.28 236.31L385.57 234.2L385.87 232.08L386.16 229.99L386.45 227.93L386.75 225.92L387.04 223.99L387.33 222.16L387.62 220.44L387.91 218.86L388.19 217.43L388.48 216.16L388.77 215.08L389.05 214.19L389.34 213.5L389.62 213.02L389.91 212.76L390.19 212.71L390.48 212.87L390.76 213.25L391.04 213.83L391.32 214.61L391.6 215.57L391.88 216.71L392.16 218.01L392.44 219.45L392.72 221.02L392.99 222.7L393.27 224.47L393.54 226.32L393.82 228.22L394.09 230.16L394.37 232.13L394.64 234.09L394.92 236.05L395.19 237.98L395.46 239.88L395.73 241.73L396 243.52L396.27 245.25L396.54 246.9L396.81 248.48L397.08 249.97L397.34 251.38L397.61 252.7L397.88 253.93L398.14 255.08L398.41 256.14L398.67 257.11L398.94 258.01L399.2 258.82L399.46 259.57L399.73 260.24L399.99 260.84L400.25 261.39L400.51 261.88L400.77 262.31L401.03 262.69L401.29 263.03L401.29 265.2Z" fill="#f37b21"/>
<line x1="265.8" y1="198.5" x2="265.8" y2="265.2" stroke="#999" stroke-width="0.8"/>
<line x1="265.8" y1="265.2" x2="424.5" y2="265.2" stroke="#999" stroke-width="0.8"/>
<line x1="289" y1="265.2" x2="289" y2="267" stroke="#999" stroke-width="0.6"/>
<line x1="324.36" y1="265.2" x2="324.36" y2="267" stroke="#999" stroke-width="0.6"/>
<line x1="351.78" y1="265.2" x2="351.78" y2="267" stroke="#999" stroke-width="0.6"/>
<line x1="374.19" y1="265.2" x2="374.19" y2="267" stroke="#999" stroke-width="0.6"/>
<line x1="393.14" y1="265.2" x2="393.14" y2="267" stroke="#999" stroke-width="0.6"/>
<line x1="409.55" y1="265.2" x2="409.55" y2="267" stroke="#999" stroke-width="0.6"/>
<line x1="424.03" y1="265.2" x2="424.03" y2="267" stroke="#999" stroke-width="0.6"/>
<text x="289" y="278.67" font-size="8.8" fill="#333" text-anchor="middle">300</text>
<text x="351.78" y="278.67" font-size="8.8" fill="#333" text-anchor="middle">500</text>
<text x="393.14" y="278.67" font-size="8.8" fill="#333" text-anchor="middle">700</text>
<text x="424.03" y="278.67" font-size="8.8" fill="#333" text-anchor="middle">900</text>
<text x="349.5" y="288" font-size="8.3" fill="#333" text-anchor="middle">S (MPa)</text>
<text transform="translate(258.8 227) rotate(-90)" font-size="8.3" fill="#333" text-anchor="middle"><tspan font-style="italic">P</tspan><tspan font-size="5.5" dy="2">f</tspan></text>
<text x="339.7" y="186.7" font-size="8.6" fill="#333" text-anchor="middle">Data scatter</text>
<rect x="273.6" y="205.1" width="4.6" height="4.6" fill="#f37b21"/>
<text x="282" y="210.45" font-size="8.2" fill="#333">NIMS</text>
<rect x="273.6" y="214.4" width="4.6" height="4.6" fill="#8cc7ea"/>
<text x="282" y="219.75" font-size="8.2" fill="#333">MMPDS</text>
<rect x="273.6" y="223.4" width="4.6" height="4.6" fill="#5e6d8b"/>
<text x="282" y="228.75" font-size="8.2" fill="#333">FD-AM</text>
<rect x="471" y="46.2" width="172.9" height="9.1" fill="#8a97b0"/>
<rect x="471" y="46.2" width="78.67" height="9.1" fill="#d9739f"/>
<text x="473.8" y="53.95" font-size="8.9" fill="#fff">Elongation</text>
<rect x="471" y="58.18" width="172.9" height="9.1" fill="#8a97b0"/>
<rect x="471" y="58.18" width="86.45" height="9.1" fill="#d9739f"/>
<text x="473.8" y="65.93" font-size="8.9" fill="#fff">Ultimate tensile strength</text>
<rect x="471" y="70.16" width="172.9" height="9.1" fill="#8a97b0"/>
<rect x="471" y="70.16" width="82.99" height="9.1" fill="#d9739f"/>
<text x="473.8" y="77.91" font-size="8.9" fill="#fff">Yield strength</text>
<rect x="471" y="82.14" width="172.9" height="9.1" fill="#8a97b0"/>
<rect x="471" y="82.14" width="25.93" height="9.1" fill="#d9739f"/>
<text x="473.8" y="89.89" font-size="8.9" fill="#fff">Modulus</text>
<rect x="471" y="94.12" width="172.9" height="9.1" fill="#8a97b0"/>
<rect x="471" y="94.12" width="167.71" height="9.1" fill="#5dbb5d"/>
<text x="473.8" y="101.87" font-size="8.9" fill="#fff">Specimen description</text>
<rect x="471" y="106.1" width="172.9" height="9.1" fill="#8a97b0"/>
<rect x="471" y="106.1" width="131.4" height="9.1" fill="#5dbb5d"/>
<text x="473.8" y="113.85" font-size="8.9" fill="#fff">Fatigue machine</text>
<rect x="471" y="118.08" width="172.9" height="9.1" fill="#8a97b0"/>
<rect x="471" y="118.08" width="140.05" height="9.1" fill="#5dbb5d"/>
<text x="473.8" y="125.83" font-size="8.9" fill="#fff">Frequency</text>
<rect x="471" y="130.06" width="172.9" height="9.1" fill="#8a97b0"/>
<rect x="471" y="130.06" width="170.13" height="9.1" fill="#5dbb5d"/>
<text x="473.8" y="137.81" font-size="8.9" fill="#fff">Load ratio</text>
<rect x="471" y="142.04" width="172.9" height="9.1" fill="#8a97b0"/>
<rect x="471" y="142.04" width="172.9" height="9.1" fill="#5dbb5d"/>
<text x="473.8" y="149.79" font-size="8.9" fill="#fff">Types of fatigue test</text>
<rect x="471" y="154.02" width="172.9" height="9.1" fill="#8a97b0"/>
<rect x="471" y="154.02" width="153.36" height="9.1" fill="#c99d3a"/>
<text x="473.8" y="161.77" font-size="8.9" fill="#fff">Surface treatment</text>
<rect x="471" y="166" width="172.9" height="9.1" fill="#8a97b0"/>
<rect x="471" y="166" width="134.34" height="9.1" fill="#c99d3a"/>
<text x="473.8" y="173.75" font-size="8.9" fill="#fff">Heat treatment</text>
<rect x="471" y="177.98" width="172.9" height="9.1" fill="#8a97b0"/>
<rect x="471" y="177.98" width="157.86" height="9.1" fill="#e06868"/>
<text x="473.8" y="185.73" font-size="8.9" fill="#fff">Building direction</text>
<rect x="471" y="189.96" width="172.9" height="9.1" fill="#8a97b0"/>
<rect x="471" y="189.96" width="129.16" height="9.1" fill="#e06868"/>
<text x="473.8" y="197.71" font-size="8.9" fill="#fff">Layer thickness</text>
<rect x="471" y="201.94" width="172.9" height="9.1" fill="#8a97b0"/>
<rect x="471" y="201.94" width="82.99" height="9.1" fill="#e06868"/>
<text x="473.8" y="209.69" font-size="8.9" fill="#fff">Hatch space</text>
<rect x="471" y="213.92" width="172.9" height="9.1" fill="#8a97b0"/>
<rect x="471" y="213.92" width="104.6" height="9.1" fill="#e06868"/>
<text x="473.8" y="221.67" font-size="8.9" fill="#fff">Scan speed</text>
<rect x="471" y="225.9" width="172.9" height="9.1" fill="#8a97b0"/>
<rect x="471" y="225.9" width="148.69" height="9.1" fill="#e06868"/>
<text x="473.8" y="233.65" font-size="8.9" fill="#fff">AM machine</text>
<rect x="471" y="237.88" width="172.9" height="9.1" fill="#8a97b0"/>
<rect x="471" y="237.88" width="172.9" height="9.1" fill="#e06868"/>
<text x="473.8" y="245.63" font-size="8.9" fill="#fff">Types of AM</text>
<rect x="471" y="249.86" width="172.9" height="9.1" fill="#8a97b0"/>
<rect x="471" y="249.86" width="172.9" height="9.1" fill="#8cc7ea"/>
<text x="473.8" y="257.61" font-size="8.9" fill="#fff">Material</text>
<line x1="470.7" y1="32" x2="470.7" y2="266.6" stroke="#444" stroke-width="0.7"/>
<line x1="470.7" y1="266.3" x2="643.9" y2="266.3" stroke="#444" stroke-width="0.7"/>
<line x1="471" y1="266.3" x2="471" y2="268.3" stroke="#444" stroke-width="0.6"/>
<text x="471" y="277.4" font-size="8.9" fill="#333" text-anchor="middle">0</text>
<line x1="505.58" y1="266.3" x2="505.58" y2="268.3" stroke="#444" stroke-width="0.6"/>
<text x="505.58" y="277.4" font-size="8.9" fill="#333" text-anchor="middle">20</text>
<line x1="540.16" y1="266.3" x2="540.16" y2="268.3" stroke="#444" stroke-width="0.6"/>
<text x="540.16" y="277.4" font-size="8.9" fill="#333" text-anchor="middle">40</text>
<line x1="574.74" y1="266.3" x2="574.74" y2="268.3" stroke="#444" stroke-width="0.6"/>
<text x="574.74" y="277.4" font-size="8.9" fill="#333" text-anchor="middle">60</text>
<line x1="609.32" y1="266.3" x2="609.32" y2="268.3" stroke="#444" stroke-width="0.6"/>
<text x="609.32" y="277.4" font-size="8.9" fill="#333" text-anchor="middle">80</text>
<line x1="643.9" y1="266.3" x2="643.9" y2="268.3" stroke="#444" stroke-width="0.6"/>
<text x="641.1" y="277.4" font-size="8.9" fill="#333" text-anchor="middle">100</text>
<text x="565.3" y="287.19" font-size="8.3" fill="#333" text-anchor="middle">Fill rate (%)</text>
<path d="M59.6 335.9C75.4 335.9 75.4 350 91.2 350L91.2 379.78C75.4 379.78 75.4 364.37 59.6 364.37Z" fill="#5a8fd2" fill-opacity="0.45"/>
<path d="M59.6 364.37C75.4 364.37 75.4 446.6 91.2 446.6L91.2 453.2C75.4 453.2 75.4 372.39 59.6 372.39Z" fill="#5a8fd2" fill-opacity="0.45"/>
<path d="M59.6 372.39C75.4 372.39 75.4 459.7 91.2 459.7L91.2 461.24C75.4 461.24 75.4 374.4 59.6 374.4Z" fill="#5a8fd2" fill-opacity="0.45"/>
<path d="M59.6 374.4C75.4 374.4 75.4 467 91.2 467L91.2 468.49C75.4 468.49 75.4 376 59.6 376Z" fill="#5a8fd2" fill-opacity="0.45"/>
<path d="M59.6 378.9C75.4 378.9 75.4 379.78 91.2 379.78L91.2 393.07C75.4 393.07 75.4 391.6 59.6 391.6Z" fill="#5a8fd2" fill-opacity="0.45"/>
<path d="M59.6 394.5C75.4 394.5 75.4 393.07 91.2 393.07L91.2 403.83C75.4 403.83 75.4 404.79 59.6 404.79Z" fill="#5a8fd2" fill-opacity="0.45"/>
<path d="M59.6 404.79C75.4 404.79 75.4 461.24 91.2 461.24L91.2 462.16C75.4 462.16 75.4 406 59.6 406Z" fill="#5a8fd2" fill-opacity="0.45"/>
<path d="M59.6 406C75.4 406 75.4 468.49 91.2 468.49L91.2 469.06C75.4 469.06 75.4 406.6 59.6 406.6Z" fill="#5a8fd2" fill-opacity="0.45"/>
<path d="M59.6 409.5C75.4 409.5 75.4 403.83 91.2 403.83L91.2 415.13C75.4 415.13 75.4 420.3 59.6 420.3Z" fill="#5a8fd2" fill-opacity="0.45"/>
<path d="M59.6 420.3C75.4 420.3 75.4 453.2 91.2 453.2L91.2 453.75C75.4 453.75 75.4 420.98 59.6 420.98Z" fill="#5a8fd2" fill-opacity="0.45"/>
<path d="M59.6 420.98C75.4 420.98 75.4 462.16 91.2 462.16L91.2 463.2C75.4 463.2 75.4 422.33 59.6 422.33Z" fill="#5a8fd2" fill-opacity="0.45"/>
<path d="M59.6 422.33C75.4 422.33 75.4 469.06 91.2 469.06L91.2 469.69C75.4 469.69 75.4 423 59.6 423Z" fill="#5a8fd2" fill-opacity="0.45"/>
<path d="M59.6 425.7C75.4 425.7 75.4 415.13 91.2 415.13L91.2 425C75.4 425 75.4 435.13 59.6 435.13Z" fill="#5a8fd2" fill-opacity="0.45"/>
<path d="M59.6 435.13C75.4 435.13 75.4 453.75 91.2 453.75L91.2 454.21C75.4 454.21 75.4 435.69 59.6 435.69Z" fill="#5a8fd2" fill-opacity="0.45"/>
<path d="M59.6 435.69C75.4 435.69 75.4 463.2 91.2 463.2L91.2 463.62C75.4 463.62 75.4 436.25 59.6 436.25Z" fill="#5a8fd2" fill-opacity="0.45"/>
<path d="M59.6 436.25C75.4 436.25 75.4 469.69 91.2 469.69L91.2 470.2C75.4 470.2 75.4 436.8 59.6 436.8Z" fill="#5a8fd2" fill-opacity="0.45"/>
<path d="M59.6 440.1C75.4 440.1 75.4 425 91.2 425L91.2 429.18C75.4 429.18 75.4 444.1 59.6 444.1Z" fill="#5a8fd2" fill-opacity="0.45"/>
<path d="M59.6 449.3C75.4 449.3 75.4 429.18 91.2 429.18L91.2 435.8C75.4 435.8 75.4 455.62 59.6 455.62Z" fill="#5a8fd2" fill-opacity="0.45"/>
<path d="M59.6 455.62C75.4 455.62 75.4 454.21 91.2 454.21L91.2 454.86C75.4 454.86 75.4 456.41 59.6 456.41Z" fill="#5a8fd2" fill-opacity="0.45"/>
<path d="M59.6 456.41C75.4 456.41 75.4 470.2 91.2 470.2L91.2 470.94C75.4 470.94 75.4 457.2 59.6 457.2Z" fill="#5a8fd2" fill-opacity="0.45"/>
<path d="M59.6 461.8C75.4 461.8 75.4 435.8 91.2 435.8L91.2 438.72C75.4 438.72 75.4 464.6 59.6 464.6Z" fill="#5a8fd2" fill-opacity="0.45"/>
<path d="M59.6 464.6C75.4 464.6 75.4 463.62 91.2 463.62L91.2 464.54C75.4 464.54 75.4 465.8 59.6 465.8Z" fill="#5a8fd2" fill-opacity="0.45"/>
<path d="M59.6 472.1C75.4 472.1 75.4 438.72 91.2 438.72L91.2 440.61C75.4 440.61 75.4 473.9 59.6 473.9Z" fill="#5a8fd2" fill-opacity="0.45"/>
<path d="M59.6 473.9C75.4 473.9 75.4 454.86 91.2 454.86L91.2 456.34C75.4 456.34 75.4 475.7 59.6 475.7Z" fill="#5a8fd2" fill-opacity="0.45"/>
<path d="M59.6 482.2C75.4 482.2 75.4 440.61 91.2 440.61L91.2 442.7C75.4 442.7 75.4 484.2 59.6 484.2Z" fill="#5a8fd2" fill-opacity="0.45"/>
<path d="M59.6 484.2C75.4 484.2 75.4 456.34 91.2 456.34L91.2 457C75.4 457 75.4 485 59.6 485Z" fill="#5a8fd2" fill-opacity="0.45"/>
<path d="M59.6 485C75.4 485 75.4 464.54 91.2 464.54L91.2 465C75.4 465 75.4 485.6 59.6 485.6Z" fill="#5a8fd2" fill-opacity="0.45"/>
<path d="M59.6 485.6C75.4 485.6 75.4 470.94 91.2 470.94L91.2 471.5C75.4 471.5 75.4 486.2 59.6 486.2Z" fill="#5a8fd2" fill-opacity="0.45"/>
<path d="M98.8 350C114.95 350 114.95 350 131.1 350L131.1 397.71C114.95 397.71 114.95 398.2 98.8 398.2Z" fill="#c49a3c" fill-opacity="0.45"/>
<path d="M98.8 398.2C114.95 398.2 114.95 406.7 131.1 406.7L131.1 442.22C114.95 442.22 114.95 431.58 98.8 431.58Z" fill="#c49a3c" fill-opacity="0.45"/>
<path d="M98.8 431.58C114.95 431.58 114.95 455.8 131.1 455.8L131.1 466.58C114.95 466.58 114.95 442.7 98.8 442.7Z" fill="#c49a3c" fill-opacity="0.45"/>
<path d="M98.8 446.6C114.95 446.6 114.95 397.71 131.1 397.71L131.1 399.77C114.95 399.77 114.95 448.68 98.8 448.68Z" fill="#c49a3c" fill-opacity="0.45"/>
<path d="M98.8 448.68C114.95 448.68 114.95 442.22 131.1 442.22L131.1 447.75C114.95 447.75 114.95 453.88 98.8 453.88Z" fill="#c49a3c" fill-opacity="0.45"/>
<path d="M98.8 453.88C114.95 453.88 114.95 466.58 131.1 466.58L131.1 469.6C114.95 469.6 114.95 457 98.8 457Z" fill="#c49a3c" fill-opacity="0.45"/>
<path d="M98.8 459.7C114.95 459.7 114.95 399.77 131.1 399.77L131.1 401.86C114.95 401.86 114.95 461.82 98.8 461.82Z" fill="#c49a3c" fill-opacity="0.45"/>
<path d="M98.8 461.82C114.95 461.82 114.95 447.75 131.1 447.75L131.1 450.01C114.95 450.01 114.95 463.94 98.8 463.94Z" fill="#c49a3c" fill-opacity="0.45"/>
<path d="M98.8 463.94C114.95 463.94 114.95 469.6 131.1 469.6L131.1 470.63C114.95 470.63 114.95 465 98.8 465Z" fill="#c49a3c" fill-opacity="0.45"/>
<path d="M98.8 467C114.95 467 114.95 401.86 131.1 401.86L131.1 403.2C114.95 403.2 114.95 468.35 98.8 468.35Z" fill="#c49a3c" fill-opacity="0.45"/>
<path d="M98.8 468.35C114.95 468.35 114.95 450.01 131.1 450.01L131.1 452.4C114.95 452.4 114.95 470.6 98.8 470.6Z" fill="#c49a3c" fill-opacity="0.45"/>
<path d="M98.8 470.6C114.95 470.6 114.95 470.63 131.1 470.63L131.1 471.5C114.95 471.5 114.95 471.5 98.8 471.5Z" fill="#c49a3c" fill-opacity="0.45"/>
<path d="M138.6 350C154.45 350 154.45 350 170.3 350L170.3 362.77C154.45 362.77 154.45 363.83 138.6 363.83Z" fill="#f07a22" fill-opacity="0.45"/>
<path d="M138.6 363.83C154.45 363.83 154.45 386.2 170.3 386.2L170.3 403.18C154.45 403.18 154.45 381.92 138.6 381.92Z" fill="#f07a22" fill-opacity="0.45"/>
<path d="M138.6 381.92C154.45 381.92 154.45 421.6 170.3 421.6L170.3 438.2C154.45 438.2 154.45 396.82 138.6 396.82Z" fill="#f07a22" fill-opacity="0.45"/>
<path d="M138.6 396.82C154.45 396.82 154.45 457 170.3 457L170.3 463.96C154.45 463.96 154.45 403.2 138.6 403.2Z" fill="#f07a22" fill-opacity="0.45"/>
<path d="M138.6 406.7C154.45 406.7 154.45 362.77 170.3 362.77L170.3 379.65C154.45 379.65 154.45 424.98 138.6 424.98Z" fill="#f07a22" fill-opacity="0.45"/>
<path d="M138.6 424.98C154.45 424.98 154.45 403.18 170.3 403.18L170.3 416.05C154.45 416.05 154.45 438.69 138.6 438.69Z" fill="#f07a22" fill-opacity="0.45"/>
<path d="M138.6 438.69C154.45 438.69 154.45 438.2 170.3 438.2L170.3 448.38C154.45 448.38 154.45 447.83 138.6 447.83Z" fill="#f07a22" fill-opacity="0.45"/>
<path d="M138.6 447.83C154.45 447.83 154.45 463.96 170.3 463.96L170.3 468.93C154.45 468.93 154.45 452.4 138.6 452.4Z" fill="#f07a22" fill-opacity="0.45"/>
<path d="M138.6 455.8C154.45 455.8 154.45 379.65 170.3 379.65L170.3 384C154.45 384 154.45 460.51 138.6 460.51Z" fill="#f07a22" fill-opacity="0.45"/>
<path d="M138.6 460.51C154.45 460.51 154.45 416.05 170.3 416.05L170.3 419C154.45 419 154.45 463.65 138.6 463.65Z" fill="#f07a22" fill-opacity="0.45"/>
<path d="M138.6 463.65C154.45 463.65 154.45 448.38 170.3 448.38L170.3 454.5C154.45 454.5 154.45 469.14 138.6 469.14Z" fill="#f07a22" fill-opacity="0.45"/>
<path d="M138.6 469.14C154.45 469.14 154.45 468.93 170.3 468.93L170.3 471.5C154.45 471.5 154.45 471.5 138.6 471.5Z" fill="#f07a22" fill-opacity="0.45"/>
<path d="M177.8 350C194 350 194 350 210.2 350L210.2 385.03C194 385.03 194 384 177.8 384Z" fill="#bdc42e" fill-opacity="0.45"/>
<path d="M177.8 386.2C194 386.2 194 385.03 210.2 385.03L210.2 416.45C194 416.45 194 416.7 177.8 416.7Z" fill="#bdc42e" fill-opacity="0.45"/>
<path d="M177.8 416.7C194 416.7 194 465 210.2 465L210.2 467.87C194 467.87 194 419 177.8 419Z" fill="#bdc42e" fill-opacity="0.45"/>
<path d="M177.8 421.6C194 421.6 194 416.45 210.2 416.45L210.2 450.35C194 450.35 194 454.5 177.8 454.5Z" fill="#bdc42e" fill-opacity="0.45"/>
<path d="M177.8 457C194 457 194 450.35 210.2 450.35L210.2 462.3C194 462.3 194 468.6 177.8 468.6Z" fill="#bdc42e" fill-opacity="0.45"/>
<path d="M177.8 468.6C194 468.6 194 467.87 210.2 467.87L210.2 471.5C194 471.5 194 471.5 177.8 471.5Z" fill="#bdc42e" fill-opacity="0.45"/>
<path d="M217.6 350C233.6 350 233.6 350 249.6 350L249.6 407.86C233.6 407.86 233.6 408.4 217.6 408.4Z" fill="#5cb85c" fill-opacity="0.45"/>
<path d="M217.6 408.4C233.6 408.4 233.6 411 249.6 411L249.6 451.31C233.6 451.31 233.6 449.95 217.6 449.95Z" fill="#5cb85c" fill-opacity="0.45"/>
<path d="M217.6 449.95C233.6 449.95 233.6 455.8 249.6 455.8L249.6 467.73C233.6 467.73 233.6 462.3 217.6 462.3Z" fill="#5cb85c" fill-opacity="0.45"/>
<path d="M217.6 465C233.6 465 233.6 407.86 249.6 407.86L249.6 408.5C233.6 408.5 233.6 465.65 217.6 465.65Z" fill="#5cb85c" fill-opacity="0.45"/>
<path d="M217.6 465.65C233.6 465.65 233.6 451.31 249.6 451.31L249.6 453.2C233.6 453.2 233.6 467.6 217.6 467.6Z" fill="#5cb85c" fill-opacity="0.45"/>
<path d="M217.6 467.6C233.6 467.6 233.6 467.73 249.6 467.73L249.6 471.5C233.6 471.5 233.6 471.5 217.6 471.5Z" fill="#5cb85c" fill-opacity="0.45"/>
<rect x="51.9" y="335.9" width="7.7" height="40.1" fill="#4a94cd"/>
<rect x="51.9" y="378.9" width="7.7" height="12.7" fill="#4a94cd"/>
<rect x="51.9" y="394.5" width="7.7" height="12.1" fill="#4a94cd"/>
<rect x="51.9" y="409.5" width="7.7" height="13.5" fill="#4a94cd"/>
<rect x="51.9" y="425.7" width="7.7" height="11.1" fill="#4a94cd"/>
<rect x="51.9" y="440.1" width="7.7" height="4" fill="#4a94cd"/>
<rect x="51.9" y="449.3" width="7.7" height="7.9" fill="#4a94cd"/>
<rect x="51.9" y="461.8" width="7.7" height="4" fill="#4a94cd"/>
<rect x="51.9" y="472.1" width="7.7" height="3.6" fill="#4a94cd"/>
<rect x="51.9" y="482.2" width="7.7" height="4" fill="#4a94cd"/>
<rect x="91.2" y="350" width="7.6" height="92.7" fill="#c49a3c"/>
<rect x="91.2" y="446.6" width="7.6" height="10.4" fill="#c49a3c"/>
<rect x="91.2" y="459.7" width="7.6" height="5.3" fill="#c49a3c"/>
<rect x="91.2" y="467" width="7.6" height="4.5" fill="#c49a3c"/>
<rect x="131.1" y="350" width="7.5" height="53.2" fill="#f07a22"/>
<rect x="131.1" y="406.7" width="7.5" height="45.7" fill="#f07a22"/>
<rect x="131.1" y="455.8" width="7.5" height="15.7" fill="#f07a22"/>
<rect x="170.3" y="350" width="7.5" height="34" fill="#bdc42e"/>
<rect x="170.3" y="386.2" width="7.5" height="32.8" fill="#bdc42e"/>
<rect x="170.3" y="421.6" width="7.5" height="32.9" fill="#bdc42e"/>
<rect x="170.3" y="457" width="7.5" height="14.5" fill="#bdc42e"/>
<rect x="210.2" y="350" width="7.4" height="112.3" fill="#5cb85c"/>
<rect x="210.2" y="465" width="7.4" height="6.5" fill="#5cb85c"/>
<rect x="249.6" y="350" width="7.4" height="58.5" fill="#cc79b5"/>
<rect x="249.6" y="411" width="7.4" height="42.2" fill="#cc79b5"/>
<rect x="249.6" y="455.8" width="7.4" height="15.7" fill="#cc79b5"/>
<path d="M59.6 532.2C75.4 532.2 75.4 544.8 91.2 544.8L91.2 551.31C75.4 551.31 75.4 537.2 59.6 537.2Z" fill="#5a8fd2" fill-opacity="0.45"/>
<path d="M59.6 537.2C75.4 537.2 75.4 604.8 91.2 604.8L91.2 606.31C75.4 606.31 75.4 539.2 59.6 539.2Z" fill="#5a8fd2" fill-opacity="0.45"/>
<path d="M59.6 539.2C75.4 539.2 75.4 625.2 91.2 625.2L91.2 626.44C75.4 626.44 75.4 540.7 59.6 540.7Z" fill="#5a8fd2" fill-opacity="0.45"/>
<path d="M59.6 540.7C75.4 540.7 75.4 644.7 91.2 644.7L91.2 646.15C75.4 646.15 75.4 542.2 59.6 542.2Z" fill="#5a8fd2" fill-opacity="0.45"/>
<path d="M59.6 544.8C75.4 544.8 75.4 551.31 91.2 551.31L91.2 556.68C75.4 556.68 75.4 548.92 59.6 548.92Z" fill="#5a8fd2" fill-opacity="0.45"/>
<path d="M59.6 548.92C75.4 548.92 75.4 606.31 91.2 606.31L91.2 607.87C75.4 607.87 75.4 550.98 59.6 550.98Z" fill="#5a8fd2" fill-opacity="0.45"/>
<path d="M59.6 550.98C75.4 550.98 75.4 626.44 91.2 626.44L91.2 628.14C75.4 628.14 75.4 553.04 59.6 553.04Z" fill="#5a8fd2" fill-opacity="0.45"/>
<path d="M59.6 553.04C75.4 553.04 75.4 646.15 91.2 646.15L91.2 648.15C75.4 648.15 75.4 555.1 59.6 555.1Z" fill="#5a8fd2" fill-opacity="0.45"/>
<path d="M59.6 557.9C75.4 557.9 75.4 556.68 91.2 556.68L91.2 561.38C75.4 561.38 75.4 561.5 59.6 561.5Z" fill="#5a8fd2" fill-opacity="0.45"/>
<path d="M59.6 561.5C75.4 561.5 75.4 607.87 91.2 607.87L91.2 609.82C75.4 609.82 75.4 564.08 59.6 564.08Z" fill="#5a8fd2" fill-opacity="0.45"/>
<path d="M59.6 564.08C75.4 564.08 75.4 628.14 91.2 628.14L91.2 629.85C75.4 629.85 75.4 566.14 59.6 566.14Z" fill="#5a8fd2" fill-opacity="0.45"/>
<path d="M59.6 566.14C75.4 566.14 75.4 648.15 91.2 648.15L91.2 650.15C75.4 650.15 75.4 568.2 59.6 568.2Z" fill="#5a8fd2" fill-opacity="0.45"/>
<path d="M59.6 570.9C75.4 570.9 75.4 561.38 91.2 561.38L91.2 568.22C75.4 568.22 75.4 576.15 59.6 576.15Z" fill="#5a8fd2" fill-opacity="0.45"/>
<path d="M59.6 576.15C75.4 576.15 75.4 609.82 91.2 609.82L91.2 611.41C75.4 611.41 75.4 578.25 59.6 578.25Z" fill="#5a8fd2" fill-opacity="0.45"/>
<path d="M59.6 578.25C75.4 578.25 75.4 629.85 91.2 629.85L91.2 631.15C75.4 631.15 75.4 579.83 59.6 579.83Z" fill="#5a8fd2" fill-opacity="0.45"/>
<path d="M59.6 579.83C75.4 579.83 75.4 650.15 91.2 650.15L91.2 651.67C75.4 651.67 75.4 581.4 59.6 581.4Z" fill="#5a8fd2" fill-opacity="0.45"/>
<path d="M59.6 583.7C75.4 583.7 75.4 568.22 91.2 568.22L91.2 573.64C75.4 573.64 75.4 587.86 59.6 587.86Z" fill="#5a8fd2" fill-opacity="0.45"/>
<path d="M59.6 587.86C75.4 587.86 75.4 611.41 91.2 611.41L91.2 612.98C75.4 612.98 75.4 589.94 59.6 589.94Z" fill="#5a8fd2" fill-opacity="0.45"/>
<path d="M59.6 589.94C75.4 589.94 75.4 631.15 91.2 631.15L91.2 632.87C75.4 632.87 75.4 592.02 59.6 592.02Z" fill="#5a8fd2" fill-opacity="0.45"/>
<path d="M59.6 592.02C75.4 592.02 75.4 651.67 91.2 651.67L91.2 653.69C75.4 653.69 75.4 594.1 59.6 594.1Z" fill="#5a8fd2" fill-opacity="0.45"/>
<path d="M59.6 596.8C75.4 596.8 75.4 573.64 91.2 573.64L91.2 577.66C75.4 577.66 75.4 599.89 59.6 599.89Z" fill="#5a8fd2" fill-opacity="0.45"/>
<path d="M59.6 599.89C75.4 599.89 75.4 612.98 91.2 612.98L91.2 615.32C75.4 615.32 75.4 602.98 59.6 602.98Z" fill="#5a8fd2" fill-opacity="0.45"/>
<path d="M59.6 602.98C75.4 602.98 75.4 632.87 91.2 632.87L91.2 635C75.4 635 75.4 605.56 59.6 605.56Z" fill="#5a8fd2" fill-opacity="0.45"/>
<path d="M59.6 605.56C75.4 605.56 75.4 653.69 91.2 653.69L91.2 655.19C75.4 655.19 75.4 607.1 59.6 607.1Z" fill="#5a8fd2" fill-opacity="0.45"/>
<path d="M59.6 610C75.4 610 75.4 577.66 91.2 577.66L91.2 581.52C75.4 581.52 75.4 612.96 59.6 612.96Z" fill="#5a8fd2" fill-opacity="0.45"/>
<path d="M59.6 612.96C75.4 612.96 75.4 615.32 91.2 615.32L91.2 616.44C75.4 616.44 75.4 614.44 59.6 614.44Z" fill="#5a8fd2" fill-opacity="0.45"/>
<path d="M59.6 614.44C75.4 614.44 75.4 635 91.2 635L91.2 636.22C75.4 636.22 75.4 615.92 59.6 615.92Z" fill="#5a8fd2" fill-opacity="0.45"/>
<path d="M59.6 615.92C75.4 615.92 75.4 655.19 91.2 655.19L91.2 656.62C75.4 656.62 75.4 617.4 59.6 617.4Z" fill="#5a8fd2" fill-opacity="0.45"/>
<path d="M59.6 619.6C75.4 619.6 75.4 581.52 91.2 581.52L91.2 585.43C75.4 585.43 75.4 622.6 59.6 622.6Z" fill="#5a8fd2" fill-opacity="0.45"/>
<path d="M59.6 622.6C75.4 622.6 75.4 616.44 91.2 616.44L91.2 617.58C75.4 617.58 75.4 624.1 59.6 624.1Z" fill="#5a8fd2" fill-opacity="0.45"/>
<path d="M59.6 624.1C75.4 624.1 75.4 636.22 91.2 636.22L91.2 637.47C75.4 637.47 75.4 625.6 59.6 625.6Z" fill="#5a8fd2" fill-opacity="0.45"/>
<path d="M59.6 625.6C75.4 625.6 75.4 656.62 91.2 656.62L91.2 658.07C75.4 658.07 75.4 627.1 59.6 627.1Z" fill="#5a8fd2" fill-opacity="0.45"/>
<path d="M59.6 629.1C75.4 629.1 75.4 585.43 91.2 585.43L91.2 589.99C75.4 589.99 75.4 632.6 59.6 632.6Z" fill="#5a8fd2" fill-opacity="0.45"/>
<path d="M59.6 632.6C75.4 632.6 75.4 617.58 91.2 617.58L91.2 618.1C75.4 618.1 75.4 633.3 59.6 633.3Z" fill="#5a8fd2" fill-opacity="0.45"/>
<path d="M59.6 633.3C75.4 633.3 75.4 637.47 91.2 637.47L91.2 638.62C75.4 638.62 75.4 634.7 59.6 634.7Z" fill="#5a8fd2" fill-opacity="0.45"/>
<path d="M59.6 634.7C75.4 634.7 75.4 658.07 91.2 658.07L91.2 659.43C75.4 659.43 75.4 636.1 59.6 636.1Z" fill="#5a8fd2" fill-opacity="0.45"/>
<path d="M59.6 638C75.4 638 75.4 589.99 91.2 589.99L91.2 592.84C75.4 592.84 75.4 640.19 59.6 640.19Z" fill="#5a8fd2" fill-opacity="0.45"/>
<path d="M59.6 640.19C75.4 640.19 75.4 618.1 91.2 618.1L91.2 619.76C75.4 619.76 75.4 642.38 59.6 642.38Z" fill="#5a8fd2" fill-opacity="0.45"/>
<path d="M59.6 642.38C75.4 642.38 75.4 638.62 91.2 638.62L91.2 639.83C75.4 639.83 75.4 643.84 59.6 643.84Z" fill="#5a8fd2" fill-opacity="0.45"/>
<path d="M59.6 643.84C75.4 643.84 75.4 659.43 91.2 659.43L91.2 660.85C75.4 660.85 75.4 645.3 59.6 645.3Z" fill="#5a8fd2" fill-opacity="0.45"/>
<path d="M59.6 647.6C75.4 647.6 75.4 592.84 91.2 592.84L91.2 597.33C75.4 597.33 75.4 651.05 59.6 651.05Z" fill="#5a8fd2" fill-opacity="0.45"/>
<path d="M59.6 651.05C75.4 651.05 75.4 619.76 91.2 619.76L91.2 620.81C75.4 620.81 75.4 652.43 59.6 652.43Z" fill="#5a8fd2" fill-opacity="0.45"/>
<path d="M59.6 652.43C75.4 652.43 75.4 639.83 91.2 639.83L91.2 640.4C75.4 640.4 75.4 653.12 59.6 653.12Z" fill="#5a8fd2" fill-opacity="0.45"/>
<path d="M59.6 653.12C75.4 653.12 75.4 660.85 91.2 660.85L91.2 662.18C75.4 662.18 75.4 654.5 59.6 654.5Z" fill="#5a8fd2" fill-opacity="0.45"/>
<path d="M59.6 656.8C75.4 656.8 75.4 597.33 91.2 597.33L91.2 600.26C75.4 600.26 75.4 659.05 59.6 659.05Z" fill="#5a8fd2" fill-opacity="0.45"/>
<path d="M59.6 659.05C75.4 659.05 75.4 620.81 91.2 620.81L91.2 621.94C75.4 621.94 75.4 660.55 59.6 660.55Z" fill="#5a8fd2" fill-opacity="0.45"/>
<path d="M59.6 660.55C75.4 660.55 75.4 640.4 91.2 640.4L91.2 641.64C75.4 641.64 75.4 662.05 59.6 662.05Z" fill="#5a8fd2" fill-opacity="0.45"/>
<path d="M59.6 662.05C75.4 662.05 75.4 662.18 91.2 662.18L91.2 664.36C75.4 664.36 75.4 664.3 59.6 664.3Z" fill="#5a8fd2" fill-opacity="0.45"/>
<path d="M59.6 667C75.4 667 75.4 600.26 91.2 600.26L91.2 603C75.4 603 75.4 669.1 59.6 669.1Z" fill="#5a8fd2" fill-opacity="0.45"/>
<path d="M59.6 669.1C75.4 669.1 75.4 621.94 91.2 621.94L91.2 623C75.4 623 75.4 670.5 59.6 670.5Z" fill="#5a8fd2" fill-opacity="0.45"/>
<path d="M59.6 670.5C75.4 670.5 75.4 641.64 91.2 641.64L91.2 642.8C75.4 642.8 75.4 671.9 59.6 671.9Z" fill="#5a8fd2" fill-opacity="0.45"/>
<path d="M59.6 671.9C75.4 671.9 75.4 664.36 91.2 664.36L91.2 666.4C75.4 666.4 75.4 674 59.6 674Z" fill="#5a8fd2" fill-opacity="0.45"/>
<path d="M98.8 544.8C114.95 544.8 114.95 544.8 131.1 544.8L131.1 566.8C114.95 566.8 114.95 568.08 98.8 568.08Z" fill="#c49a3c" fill-opacity="0.45"/>
<path d="M98.8 568.08C114.95 568.08 114.95 586.9 131.1 586.9L131.1 605.21C114.95 605.21 114.95 585.54 98.8 585.54Z" fill="#c49a3c" fill-opacity="0.45"/>
<path d="M98.8 585.54C114.95 585.54 114.95 628.4 131.1 628.4L131.1 645.57C114.95 645.57 114.95 603 98.8 603Z" fill="#c49a3c" fill-opacity="0.45"/>
<path d="M98.8 604.8C114.95 604.8 114.95 566.8 131.1 566.8L131.1 571.96C114.95 571.96 114.95 610.26 98.8 610.26Z" fill="#c49a3c" fill-opacity="0.45"/>
<path d="M98.8 610.26C114.95 610.26 114.95 605.21 131.1 605.21L131.1 612.84C114.95 612.84 114.95 617.54 98.8 617.54Z" fill="#c49a3c" fill-opacity="0.45"/>
<path d="M98.8 617.54C114.95 617.54 114.95 645.57 131.1 645.57L131.1 650.94C114.95 650.94 114.95 623 98.8 623Z" fill="#c49a3c" fill-opacity="0.45"/>
<path d="M98.8 625.2C114.95 625.2 114.95 571.96 131.1 571.96L131.1 576.95C114.95 576.95 114.95 630.48 98.8 630.48Z" fill="#c49a3c" fill-opacity="0.45"/>
<path d="M98.8 630.48C114.95 630.48 114.95 612.84 131.1 612.84L131.1 618.37C114.95 618.37 114.95 635.76 98.8 635.76Z" fill="#c49a3c" fill-opacity="0.45"/>
<path d="M98.8 635.76C114.95 635.76 114.95 650.94 131.1 650.94L131.1 657.86C114.95 657.86 114.95 642.8 98.8 642.8Z" fill="#c49a3c" fill-opacity="0.45"/>
<path d="M98.8 644.7C114.95 644.7 114.95 576.95 131.1 576.95L131.1 583.1C114.95 583.1 114.95 651.21 98.8 651.21Z" fill="#c49a3c" fill-opacity="0.45"/>
<path d="M98.8 651.21C114.95 651.21 114.95 618.37 131.1 618.37L131.1 625.2C114.95 625.2 114.95 657.72 98.8 657.72Z" fill="#c49a3c" fill-opacity="0.45"/>
<path d="M98.8 657.72C114.95 657.72 114.95 657.86 131.1 657.86L131.1 666.4C114.95 666.4 114.95 666.4 98.8 666.4Z" fill="#c49a3c" fill-opacity="0.45"/>
<path d="M138.6 544.8C154.45 544.8 154.45 544.8 170.3 544.8L170.3 560.16C154.45 560.16 154.45 560.12 138.6 560.12Z" fill="#f07a22" fill-opacity="0.45"/>
<path d="M138.6 560.12C154.45 560.12 154.45 586.9 170.3 586.9L170.3 598.42C154.45 598.42 154.45 571.61 138.6 571.61Z" fill="#f07a22" fill-opacity="0.45"/>
<path d="M138.6 571.61C154.45 571.61 154.45 628.4 170.3 628.4L170.3 639.84C154.45 639.84 154.45 583.1 138.6 583.1Z" fill="#f07a22" fill-opacity="0.45"/>
<path d="M138.6 586.9C154.45 586.9 154.45 560.16 170.3 560.16L170.3 571.67C154.45 571.67 154.45 598.39 138.6 598.39Z" fill="#f07a22" fill-opacity="0.45"/>
<path d="M138.6 598.39C154.45 598.39 154.45 598.42 170.3 598.42L170.3 613.77C154.45 613.77 154.45 613.71 138.6 613.71Z" fill="#f07a22" fill-opacity="0.45"/>
<path d="M138.6 613.71C154.45 613.71 154.45 639.84 170.3 639.84L170.3 651.27C154.45 651.27 154.45 625.2 138.6 625.2Z" fill="#f07a22" fill-opacity="0.45"/>
<path d="M138.6 628.4C154.45 628.4 154.45 571.67 170.3 571.67L170.3 583.1C154.45 583.1 154.45 639.8 138.6 639.8Z" fill="#f07a22" fill-opacity="0.45"/>
<path d="M138.6 639.8C154.45 639.8 154.45 613.77 170.3 613.77L170.3 625.2C154.45 625.2 154.45 651.2 138.6 651.2Z" fill="#f07a22" fill-opacity="0.45"/>
<path d="M138.6 651.2C154.45 651.2 154.45 651.27 170.3 651.27L170.3 666.4C154.45 666.4 154.45 666.4 138.6 666.4Z" fill="#f07a22" fill-opacity="0.45"/>
<path d="M177.8 544.8C194 544.8 194 544.8 210.2 544.8L210.2 582.38C194 582.38 194 577.36 177.8 577.36Z" fill="#bdc42e" fill-opacity="0.45"/>
<path d="M177.8 577.36C194 577.36 194 644 210.2 644L210.2 647.75C194 647.75 194 583.1 177.8 583.1Z" fill="#bdc42e" fill-opacity="0.45"/>
<path d="M177.8 586.9C194 586.9 194 582.38 210.2 582.38L210.2 617.76C194 617.76 194 617.54 177.8 617.54Z" fill="#bdc42e" fill-opacity="0.45"/>
<path d="M177.8 617.54C194 617.54 194 647.75 210.2 647.75L210.2 652.75C194 652.75 194 625.2 177.8 625.2Z" fill="#bdc42e" fill-opacity="0.45"/>
<path d="M177.8 628.4C194 628.4 194 617.76 210.2 617.76L210.2 637.5C194 637.5 194 645.5 177.8 645.5Z" fill="#bdc42e" fill-opacity="0.45"/>
<path d="M177.8 645.5C194 645.5 194 652.75 210.2 652.75L210.2 666.4C194 666.4 194 666.4 177.8 666.4Z" fill="#bdc42e" fill-opacity="0.45"/>
<path d="M217.6 544.8C233.6 544.8 233.6 544.8 249.6 544.8L249.6 578.97C233.6 578.97 233.6 581.88 217.6 581.88Z" fill="#5cb85c" fill-opacity="0.45"/>
<path d="M217.6 581.88C233.6 581.88 233.6 586.9 249.6 586.9L249.6 620.55C233.6 620.55 233.6 614.33 217.6 614.33Z" fill="#5cb85c" fill-opacity="0.45"/>
<path d="M217.6 614.33C233.6 614.33 233.6 628.4 249.6 628.4L249.6 652.45C233.6 652.45 233.6 637.5 217.6 637.5Z" fill="#5cb85c" fill-opacity="0.45"/>
<path d="M217.6 644C233.6 644 233.6 578.97 249.6 578.97L249.6 583.1C233.6 583.1 233.6 648.48 217.6 648.48Z" fill="#5cb85c" fill-opacity="0.45"/>
<path d="M217.6 648.48C233.6 648.48 233.6 620.55 249.6 620.55L249.6 625.2C233.6 625.2 233.6 652.96 217.6 652.96Z" fill="#5cb85c" fill-opacity="0.45"/>
<path d="M217.6 652.96C233.6 652.96 233.6 652.45 249.6 652.45L249.6 666.4C233.6 666.4 233.6 666.4 217.6 666.4Z" fill="#5cb85c" fill-opacity="0.45"/>
<rect x="51.9" y="532.2" width="7.7" height="10" fill="#4a94cd"/>
<rect x="51.9" y="544.8" width="7.7" height="10.3" fill="#4a94cd"/>
<rect x="51.9" y="557.9" width="7.7" height="10.3" fill="#4a94cd"/>
<rect x="51.9" y="570.9" width="7.7" height="10.5" fill="#4a94cd"/>
<rect x="51.9" y="583.7" width="7.7" height="10.4" fill="#4a94cd"/>
<rect x="51.9" y="596.8" width="7.7" height="10.3" fill="#4a94cd"/>
<rect x="51.9" y="610" width="7.7" height="7.4" fill="#4a94cd"/>
<rect x="51.9" y="619.6" width="7.7" height="7.5" fill="#4a94cd"/>
<rect x="51.9" y="629.1" width="7.7" height="7" fill="#4a94cd"/>
<rect x="51.9" y="638" width="7.7" height="7.3" fill="#4a94cd"/>
<rect x="51.9" y="647.6" width="7.7" height="6.9" fill="#4a94cd"/>
<rect x="51.9" y="656.8" width="7.7" height="7.5" fill="#4a94cd"/>
<rect x="51.9" y="667" width="7.7" height="7" fill="#4a94cd"/>
<rect x="91.2" y="544.8" width="7.6" height="58.2" fill="#c49a3c"/>
<rect x="91.2" y="604.8" width="7.6" height="18.2" fill="#c49a3c"/>
<rect x="91.2" y="625.2" width="7.6" height="17.6" fill="#c49a3c"/>
<rect x="91.2" y="644.7" width="7.6" height="21.7" fill="#c49a3c"/>
<rect x="131.1" y="544.8" width="7.5" height="38.3" fill="#f07a22"/>
<rect x="131.1" y="586.9" width="7.5" height="38.3" fill="#f07a22"/>
<rect x="131.1" y="628.4" width="7.5" height="38" fill="#f07a22"/>
<rect x="170.3" y="544.8" width="7.5" height="38.3" fill="#bdc42e"/>
<rect x="170.3" y="586.9" width="7.5" height="38.3" fill="#bdc42e"/>
<rect x="170.3" y="628.4" width="7.5" height="38" fill="#bdc42e"/>
<rect x="210.2" y="544.8" width="7.4" height="92.7" fill="#5cb85c"/>
<rect x="210.2" y="644" width="7.4" height="22.4" fill="#5cb85c"/>
<rect x="249.6" y="544.8" width="7.4" height="38.3" fill="#cc79b5"/>
<rect x="249.6" y="586.9" width="7.4" height="38.3" fill="#cc79b5"/>
<rect x="249.6" y="628.4" width="7.4" height="38" fill="#cc79b5"/>
<text x="47.3" y="357.1" font-size="8.6" fill="#333" text-anchor="end">Ti-6Al-4V</text>
<text x="47.3" y="388" font-size="8.6" fill="#333" text-anchor="end">AlSi10Mg</text>
<text x="47.3" y="403.7" font-size="8.6" fill="#333" text-anchor="end">316L</text>
<text x="47.3" y="418.1" font-size="8.6" fill="#333" text-anchor="end">IN718</text>
<text x="47.3" y="433.4" font-size="8.6" fill="#333" text-anchor="end">Fe-alloys</text>
<text x="47.3" y="444.4" font-size="8.6" fill="#333" text-anchor="end">18Ni300</text>
<text x="47.3" y="455.7" font-size="8.6" fill="#333" text-anchor="end">Al-alloys</text>
<text x="47.3" y="465.5" font-size="8.6" fill="#333" text-anchor="end">Ni-alloys</text>
<text x="47.3" y="476.5" font-size="8.6" fill="#333" text-anchor="end">Ti-alloys</text>
<text x="47.3" y="486.5" font-size="8.6" fill="#333" text-anchor="end">Other alloys</text>
<text x="100.6" y="398.92" font-size="8.1" fill="#333">L-PBF</text>
<text x="100.6" y="455.32" font-size="8.1" fill="#333">E-PBF</text>
<text x="100.6" y="464.72" font-size="8.1" fill="#333">P-DED</text>
<text x="100.6" y="472.32" font-size="8.1" fill="#333">W-DED</text>
<text x="139.6" y="377.5" font-size="8.6" fill="#333">Heat-</text>
<text x="139.6" y="386.6" font-size="8.6" fill="#333">treated</text>
<text x="138.6" y="425.5" font-size="8.6" fill="#333">Not heat-</text>
<text x="139.6" y="435.2" font-size="8.6" fill="#333">treated</text>
<text x="154.4" y="458.1" font-size="8.6" fill="#333" text-anchor="middle">Hot</text>
<text x="154.4" y="467.6" font-size="8.6" fill="#333" text-anchor="middle">isostatic</text>
<text x="154.4" y="477.8" font-size="8.6" fill="#333" text-anchor="middle">pressed</text>
<text x="193.6" y="369.1" font-size="8.6" fill="#333" text-anchor="middle">Machine</text>
<text x="193.6" y="405.1" font-size="8.6" fill="#333" text-anchor="middle">Polish</text>
<text x="193.6" y="441.3" font-size="8.6" fill="#333" text-anchor="middle">As-built</text>
<text x="193.6" y="466.8" font-size="8.6" fill="#333" text-anchor="middle">Other</text>
<text x="231.8" y="407.7" font-size="8.6" fill="#333" text-anchor="middle">Room</text>
<text x="231.8" y="472.5" font-size="8.6" fill="#333" text-anchor="middle">High</text>
<text x="259.3" y="383.5" font-size="8.6" fill="#333">−1</text>
<text x="259.3" y="433.9" font-size="8.6" fill="#333">0.1</text>
<text x="259.3" y="466.1" font-size="8.6" fill="#333">Other</text>
<text x="226.4" y="342.8" font-size="8.6" fill="#333" text-anchor="middle">Literature data</text>
<text x="47.3" y="540" font-size="8.6" fill="#333" text-anchor="end">Ti-6Al-4V</text>
<text x="47.3" y="553.2" font-size="8.6" fill="#333" text-anchor="end">316L</text>
<text x="47.3" y="566" font-size="8.6" fill="#333" text-anchor="end">IN718</text>
<text x="47.3" y="579" font-size="8.6" fill="#333" text-anchor="end">18Ni300</text>
<text x="47.3" y="592.2" font-size="8.6" fill="#333" text-anchor="end">17-4PH</text>
<text x="47.3" y="605" font-size="8.6" fill="#333" text-anchor="end">IN625</text>
<text x="47.3" y="615.8" font-size="8.6" fill="#333" text-anchor="end">Fe-alloys</text>
<text x="47.3" y="625.9" font-size="8.6" fill="#333" text-anchor="end">Al-alloys</text>
<text x="47.3" y="635.1" font-size="8.6" fill="#333" text-anchor="end">AlSi10Mg</text>
<text x="47.3" y="644.7" font-size="8.6" fill="#333" text-anchor="end">Ni-alloys</text>
<text x="47.3" y="654.3" font-size="8.6" fill="#333" text-anchor="end">AlSiMg</text>
<text x="47.3" y="662.8" font-size="8.6" fill="#333" text-anchor="end">Ti-alloys</text>
<text x="47.3" y="672.9" font-size="8.6" fill="#333" text-anchor="end">Other alloys</text>
<text x="100.6" y="575.42" font-size="8.1" fill="#333">L-PBF</text>
<text x="100.6" y="615.62" font-size="8.1" fill="#333">P-DED</text>
<text x="100.6" y="635.62" font-size="8.1" fill="#333">W-DED</text>
<text x="100.6" y="657.72" font-size="8.1" fill="#333">E-PBF</text>
<text x="154.4" y="564.1" font-size="8.6" fill="#333" text-anchor="middle">Heat-</text>
<text x="154.4" y="573.1" font-size="8.6" fill="#333" text-anchor="middle">treated</text>
<text x="154.4" y="605.4" font-size="8.6" fill="#333" text-anchor="middle">Not heat-</text>
<text x="154.4" y="614.6" font-size="8.6" fill="#333" text-anchor="middle">treated</text>
<text x="154.4" y="641.1" font-size="8.6" fill="#333" text-anchor="middle">Hot</text>
<text x="154.4" y="650.7" font-size="8.6" fill="#333" text-anchor="middle">isostatic</text>
<text x="154.4" y="660.8" font-size="8.6" fill="#333" text-anchor="middle">pressed</text>
<text x="194.2" y="566.9" font-size="8.6" fill="#333" text-anchor="middle">As-built</text>
<text x="194.2" y="597.3" font-size="8.6" fill="#333" text-anchor="middle">Machine</text>
<text x="194.2" y="605.4" font-size="8.6" fill="#333" text-anchor="middle">+</text>
<text x="194.2" y="614.1" font-size="8.6" fill="#333" text-anchor="middle">polish</text>
<text x="194.2" y="650.2" font-size="8.6" fill="#333" text-anchor="middle">Other</text>
<text x="233.2" y="598.5" font-size="8.6" fill="#333" text-anchor="middle">Room</text>
<text x="233.2" y="657.2" font-size="8.6" fill="#333" text-anchor="middle">High</text>
<text x="258.6" y="577.3" font-size="8.6" fill="#333">−1</text>
<text x="258.6" y="609.1" font-size="8.6" fill="#333">0.1</text>
<text x="258.6" y="650.7" font-size="8.6" fill="#333">Other</text>
<text x="215.1" y="682.7" font-size="8.6" fill="#333" text-anchor="middle">Optimized research</text>
<rect x="39.3" y="497" width="34.8" height="22.8" fill="#4a94cd"/>
<text x="40.9" y="505.77" font-size="8.8" fill="#2a2a2a">Material</text>
<rect x="77.3" y="497" width="35.5" height="22.8" fill="#c49a3c"/>
<text x="78.9" y="505.77" font-size="8.8" fill="#2a2a2a">AM type</text>
<rect x="116.2" y="497" width="38.7" height="22.8" fill="#f07a22"/>
<text x="117.8" y="505.77" font-size="8.8" fill="#2a2a2a">Heat</text>
<text x="117.8" y="515.27" font-size="8.8" fill="#2a2a2a">treatment</text>
<rect x="156.6" y="497" width="40.3" height="22.8" fill="#bdc42e"/>
<text x="158.2" y="505.77" font-size="8.8" fill="#2a2a2a">Surface</text>
<text x="158.2" y="515.27" font-size="8.8" fill="#2a2a2a">treatment</text>
<rect x="198.9" y="497" width="53.8" height="22.8" fill="#5cb85c"/>
<text x="200.5" y="505.77" font-size="8.8" fill="#2a2a2a">Test</text>
<text x="200.5" y="515.27" font-size="8.8" fill="#2a2a2a">temperature</text>
<rect x="255" y="497" width="25.2" height="22.8" fill="#cc79b5"/>
<text x="256.6" y="505.77" font-size="8.8" fill="#2a2a2a">Stress</text>
<text x="256.6" y="515.27" font-size="8.8" fill="#2a2a2a">ratio</text>
<text x="338.8" y="360.6" font-size="8.6" fill="#333">&lt;terminology&gt;</text>
<text x="351.6" y="371.7" font-size="8.6" fill="#333">&lt; stress_amplitude&gt;</text>
<text x="365.2" y="381.82" font-size="7.0" fill="#333">...</text>
<text x="351.6" y="392.2" font-size="8.6" fill="#333">&lt;/stress_amplitude&gt;</text>
<text x="351.6" y="402.42" font-size="7.0" fill="#333">...</text>
<text x="351.6" y="413.3" font-size="8.6" fill="#333">&lt; stress_ratio&gt;</text>
<text x="365.2" y="423.72" font-size="7.0" fill="#333">...</text>
<text x="351.6" y="433.8" font-size="8.6" fill="#333">&lt;/stress_ratio&gt;</text>
<text x="351.6" y="445.02" font-size="7.0" fill="#333">...</text>
<text x="338.8" y="454.9" font-size="8.6" fill="#333">&lt;/terminology&gt;</text>
<text x="451" y="360.5" font-size="8.6" fill="#333">&lt;procedure&gt;</text>
<text x="464.1" y="371.6" font-size="8.6" fill="#333">&lt; heat_treatment&gt;</text>
<text x="476.9" y="382.22" font-size="7.0" fill="#333">...</text>
<text x="464.1" y="392.4" font-size="8.6" fill="#333">&lt;/ heat_treatment&gt;</text>
<text x="464.1" y="403.02" font-size="7.0" fill="#333">...</text>
<text x="464.1" y="413.5" font-size="8.6" fill="#333">&lt;test&gt;</text>
<text x="476.9" y="424.22" font-size="7.0" fill="#333">...</text>
<text x="465.5" y="434.3" font-size="8.6" fill="#333">&lt;/test&gt;</text>
<text x="465.5" y="444.32" font-size="7.0" fill="#333">...</text>
<text x="451" y="455.4" font-size="8.6" fill="#333">&lt;/procedure&gt;</text>
<text x="556.7" y="360.5" font-size="8.6" fill="#333">&lt;data&gt;</text>
<text x="571.5" y="371.6" font-size="8.6" fill="#333">&lt;sn&gt;</text>
<text x="583.5" y="382.22" font-size="7.0" fill="#333">...</text>
<text x="570.1" y="392.4" font-size="8.6" fill="#333">&lt;/sn&gt;</text>
<text x="556.7" y="403.5" font-size="8.6" fill="#333">&lt;/data&gt;</text>
<text x="556.7" y="413.5" font-size="8.6" fill="#333">&lt;image&gt;</text>
<text x="570.1" y="424.22" font-size="7.0" fill="#333">...</text>
<text x="556.7" y="434.3" font-size="8.6" fill="#333">&lt;/image&gt;</text>
<line x1="339.2" y1="361.5" x2="339.2" y2="447.5" stroke="#c8c8c8" stroke-width="0.9"/>
<line x1="353.3" y1="371.2" x2="353.3" y2="384.5" stroke="#8c8c8c" stroke-width="0.7"/>
<line x1="353.3" y1="412.8" x2="353.3" y2="426.8" stroke="#8c8c8c" stroke-width="0.7"/>
<line x1="451.4" y1="361.5" x2="451.4" y2="447" stroke="#c8c8c8" stroke-width="0.9"/>
<line x1="465" y1="371.2" x2="465" y2="384.5" stroke="#8c8c8c" stroke-width="0.7"/>
<line x1="465" y1="412.8" x2="465" y2="426.8" stroke="#8c8c8c" stroke-width="0.7"/>
<line x1="557" y1="361.5" x2="557" y2="396" stroke="#c8c8c8" stroke-width="0.9"/>
<line x1="571.5" y1="371.2" x2="571.5" y2="385.5" stroke="#8c8c8c" stroke-width="0.7"/>
<line x1="557" y1="412.5" x2="557" y2="428" stroke="#c8c8c8" stroke-width="0.9"/>
<rect x="606.1" y="350.9" width="55.9" height="23.8" fill="#8cc7ea"/>
<text x="608.9" y="360.67" font-size="8.8" fill="#22313f">Government,</text>
<text x="608.9" y="370.37" font-size="8.8" fill="#22313f">company</text>
<rect x="606.1" y="390.5" width="55.9" height="24" fill="#8cc7ea"/>
<text x="608.9" y="400.27" font-size="8.8" fill="#22313f">Organization,</text>
<text x="608.9" y="409.97" font-size="8.8" fill="#22313f">publisher</text>
<rect x="606.1" y="430.2" width="55.9" height="24" fill="#8cc7ea"/>
<text x="608.9" y="439.97" font-size="8.8" fill="#22313f">Researcher,</text>
<text x="608.9" y="449.67" font-size="8.8" fill="#22313f">engineer</text>
<path d="M317.3 544.6H337.6L342.6 549.9V576.3H317.3Q316 576.3 316 575V545.9Q316 544.6 317.3 544.6Z" fill="#fff" stroke="#1f3f73" stroke-width="1.3" stroke-linejoin="round"/>
<path d="M337.5 544.8V548.6Q337.5 549.7 338.6 549.7H342.5Z" fill="#fff" stroke="#1f3f73" stroke-width="1.1" stroke-linejoin="round"/>
<line x1="318" y1="548.8" x2="336.3" y2="548.8" stroke="#808080" stroke-width="1.5"/>
<line x1="318" y1="553.2" x2="339.9" y2="553.2" stroke="#e6ecf4" stroke-width="1.0"/>
<line x1="318" y1="555.3" x2="339.9" y2="555.3" stroke="#f5b73b" stroke-width="1.0"/>
<line x1="318" y1="557.4" x2="339.9" y2="557.4" stroke="#f5b73b" stroke-width="1.0"/>
<line x1="318" y1="559.5" x2="339.9" y2="559.5" stroke="#e6ecf4" stroke-width="1.0"/>
<line x1="318" y1="562.1" x2="339.9" y2="562.1" stroke="#6b7a90" stroke-width="1.4"/>
<line x1="318" y1="564.3" x2="339.9" y2="564.3" stroke="#2f4468" stroke-width="1.0"/>
<line x1="318" y1="566.6" x2="339.9" y2="566.6" stroke="#e6ecf4" stroke-width="1.0"/>
<line x1="318" y1="568.5" x2="339.9" y2="568.5" stroke="#e57373" stroke-width="1.0"/>
<line x1="318" y1="570.9" x2="339.9" y2="570.9" stroke="#f0a8a8" stroke-width="1.5"/>
<line x1="318" y1="573.2" x2="339.9" y2="573.2" stroke="#e6ecf4" stroke-width="1.0"/>
<line x1="348.7" y1="563.3" x2="365.8" y2="563.3" stroke="#2f4870" stroke-width="1.0"/>
<path d="M368.5 563.3L365.3 565L365.3 561.6Z" fill="#2f4870"/>
<rect x="372" y="542.9" width="48.6" height="34.6" fill="#8cc7ea"/>
<rect x="372" y="542.9" width="48.6" height="3.9" fill="#2a4573"/>
<circle cx="374.8" cy="544.9" r="1.05" fill="#f07a22"/>
<circle cx="378.7" cy="544.9" r="1.05" fill="#f5d142"/>
<circle cx="382.3" cy="544.9" r="1.05" fill="#8cc7ea"/>
<rect x="389.2" y="544.2" width="28.8" height="1.5" fill="#c3cad8"/>
<text transform="translate(374.5 556.2) scale(0.93 1.1)" font-size="7.9" fill="#1f2a3a">NLP</text>
<text transform="translate(395.3 556.2) scale(0.93 1.1)" font-size="7.9" fill="#eee29a">ULFD</text>
<text transform="translate(374.5 564.7) scale(0.93 1.1)" font-size="7.9" fill="#1f2a3a">CV</text>
<text transform="translate(374.5 573.2) scale(0.93 1.1)" font-size="7.9" fill="#1f2a3a">EXPERT</text>
<line x1="397" y1="578.5" x2="397" y2="643.5" stroke="#2f4870" stroke-width="1.0"/>
<path d="M397 646.2L395.3 643L398.7 643Z" fill="#2f4870"/>
<line x1="329" y1="643.5" x2="329" y2="581.2" stroke="#2f4870" stroke-width="1.0"/>
<path d="M329 578.5L330.7 581.7L327.3 581.7Z" fill="#2f4870"/>
<rect x="306.3" y="647.6" width="53.1" height="35.6" fill="#d5dce6"/>
<text x="308.6" y="657.5" font-size="10.0" fill="#2a2f38">Materials</text>
<text x="308.6" y="668.6" font-size="10.0" fill="#2a2f38">processing</text>
<text x="308.6" y="679.2" font-size="10.0" fill="#2a2f38">testing</text>
<line x1="379.8" y1="665.5" x2="364.3" y2="665.5" stroke="#2f4870" stroke-width="1.0"/>
<path d="M361.6 665.5L364.8 663.8L364.8 667.2Z" fill="#2f4870"/>
<path d="M383.3 651.4V655.4A12.9 1.7 0 0 0 409.1 655.4V651.4A12.9 1.7 0 0 0 383.3 651.4Z" fill="#b7c2d4"/>
<path d="M383.3 658.7V662.7A12.9 1.7 0 0 0 409.1 662.7V658.7A12.9 1.7 0 0 0 383.3 658.7Z" fill="#b7c2d4"/>
<path d="M383.3 666V670A12.9 1.7 0 0 0 409.1 670V666A12.9 1.7 0 0 0 383.3 666Z" fill="#b7c2d4"/>
<path d="M383.3 673.3V677.3A12.9 1.7 0 0 0 409.1 677.3V673.3A12.9 1.7 0 0 0 383.3 673.3Z" fill="#b7c2d4"/>
<ellipse cx="396.2" cy="651.4" rx="12.9" ry="1.7" fill="#c9d2e0"/>
<defs><filter id="gn" x="0" y="0" width="100%" height="100%" color-interpolation-filters="sRGB"><feTurbulence type="fractalNoise" baseFrequency="0.85" numOctaves="2" seed="3"/><feColorMatrix type="matrix" values="0.9 0 0 0 0.05  0.9 0 0 0 0.05  0.9 0 0 0 0.05  0 0 0 0 1"/></filter><filter id="gn2" x="0" y="0" width="100%" height="100%" color-interpolation-filters="sRGB"><feTurbulence type="fractalNoise" baseFrequency="1.1" numOctaves="3" seed="11"/><feColorMatrix type="matrix" values="0.85 0 0 0 0.01  0.85 0 0 0 0.01  0.85 0 0 0 0.01  0 0 0 0 1"/><feGaussianBlur stdDeviation="0.3"/></filter><filter id="gn3" x="0" y="0" width="100%" height="100%" color-interpolation-filters="sRGB"><feTurbulence type="fractalNoise" baseFrequency="0.6" numOctaves="2" seed="5"/><feColorMatrix type="matrix" values="0 0 0 0 0.35  0 0 0 0 0.35  0 0 0 0 0.35  0 0 0 -3.2 1.25"/></filter><filter id="gn4" x="0" y="0" width="100%" height="100%" color-interpolation-filters="sRGB"><feTurbulence type="fractalNoise" baseFrequency="0.5" numOctaves="2" seed="21"/><feColorMatrix type="matrix" values="0 0 0 0 0.45  0 0 0 0 0.46  0 0 0 0 0.22  0 0 0 -2.2 1.25"/><feGaussianBlur stdDeviation="0.3"/></filter><radialGradient id="fg" cx="0.38" cy="0.34" r="0.72"><stop offset="0" stop-color="#e2e2e2"/><stop offset="0.3" stop-color="#c8c8c8"/><stop offset="0.75" stop-color="#a4a4a4"/><stop offset="1" stop-color="#929292"/></radialGradient><radialGradient id="fd" cx="0.6" cy="0.14" r="0.3"><stop offset="0" stop-color="#303030" stop-opacity="0.95"/><stop offset="0.6" stop-color="#505050" stop-opacity="0.6"/><stop offset="1" stop-color="#606060" stop-opacity="0"/></radialGradient><clipPath id="fcirc"><ellipse cx="451.5" cy="577.4" rx="19.4" ry="19.9"/></clipPath><clipPath id="semy"><path d="M607 609.2C611 604 617 598 623 594.5C627 592.3 630.5 590.2 634 590.2C636.5 590.5 637.5 592 638.8 595C640.2 598 642.5 600 646.5 602C650.5 604 654.5 606 655.8 609.2Z"/></clipPath></defs>
<rect x="430" y="556" width="44" height="44" filter="url(#gn3)" opacity="0.35"/>
<defs><linearGradient id="pf" x1="0" y1="0" x2="0" y2="1"><stop offset="0" stop-color="#fff" stop-opacity="1"/><stop offset="1" stop-color="#fff" stop-opacity="0"/></linearGradient><mask id="pm"><path d="M459 555H474V592L466 580Z" fill="url(#pf)"/></mask></defs>
<rect x="459" y="555" width="15" height="37" filter="url(#gn2)" opacity="0.45" mask="url(#pm)"/>
<ellipse cx="451.5" cy="577.4" rx="19.4" ry="19.9" fill="url(#fg)"/>
<ellipse cx="451.5" cy="577.4" rx="19.4" ry="19.9" fill="url(#fd)"/>
<defs><radialGradient id="fh"><stop offset="0" stop-color="#fff" stop-opacity="0.75"/><stop offset="0.5" stop-color="#fff" stop-opacity="0.45"/><stop offset="1" stop-color="#fff" stop-opacity="0"/></radialGradient></defs>
<rect x="431" y="557" width="41" height="41" filter="url(#gn)" clip-path="url(#fcirc)" opacity="0.35"/>
<ellipse cx="448" cy="569" rx="18" ry="6" fill="url(#fh)" transform="rotate(10 448 569)" clip-path="url(#fcirc)"/>
<line x1="474.4" y1="577.2" x2="485.5" y2="577.2" stroke="#2f4870" stroke-width="0.9"/>
<path d="M488.2 577.2L485 578.9L485 575.5Z" fill="#2f4870"/>
<rect x="494.3" y="559.6" width="26.5" height="26.2" fill="#f7a46b" stroke="#f0883a" stroke-width="0.6"/>
<rect x="491.8" y="562.4" width="26.8" height="26.4" fill="#f5dc8f" stroke="#e9c56a" stroke-width="0.6"/>
<rect x="489.4" y="565.2" width="26.3" height="26.6" fill="#f7a46b" stroke="#f0883a" stroke-width="0.6"/>
<rect x="505.6" y="574.3" width="6" height="5.7" fill="none" stroke="#5a4a40" stroke-width="0.7"/>
<path d="M511.8 577H524" stroke="#666" stroke-width="0.7" stroke-dasharray="1.2 1.6"/>
<rect x="524.4" y="562" width="29.9" height="29.9" fill="none" stroke="#5a5a5a" stroke-width="0.7" stroke-dasharray="2.2 1.9"/>
<rect x="535.3" y="563.2" width="17.9" height="17.3" fill="#f5dc8f" stroke="#e9c56a" stroke-width="0.6"/>
<rect x="533.4" y="565.2" width="17.9" height="17.3" fill="#f7a46b" stroke="#f0883a" stroke-width="0.6"/>
<rect x="531.5" y="567.2" width="17.9" height="17.3" fill="#f5dc8f" stroke="#e9c56a" stroke-width="0.6"/>
<rect x="529.6" y="569.2" width="17.9" height="17.3" fill="#f7a46b" stroke="#f0883a" stroke-width="0.6"/>
<rect x="527.7" y="571.2" width="17.9" height="17.3" fill="#f5dc8f" stroke="#e9c56a" stroke-width="0.6"/>
<rect x="525.8" y="573.2" width="17.9" height="17.3" fill="#f7a46b" stroke="#f0883a" stroke-width="0.6"/>
<line x1="554.3" y1="577" x2="564.5" y2="577" stroke="#2f4870" stroke-width="0.9"/>
<path d="M567.2 577L564 578.7L564 575.3Z" fill="#2f4870"/>
<rect x="567.6" y="557.3" width="5.2" height="39.4" fill="#f5944e"/>
<line x1="572.8" y1="578.3" x2="587.2" y2="591.7" stroke="#2f4870" stroke-width="0.8"/>
<rect x="588.8" y="591.2" width="5.2" height="39.8" fill="#f5944e"/>
<line x1="594" y1="610.7" x2="599.5" y2="610.7" stroke="#2f4870" stroke-width="0.9"/>
<path d="M602.2 610.7L599 612.4L599 609Z" fill="#2f4870"/>
<rect x="606.0" y="567.8" width="50.4" height="48.6" fill="#fff" stroke="#e8c458" stroke-width="1.1"/>
<rect x="606.6" y="568.4" width="49.2" height="41" filter="url(#gn2)"/>
<rect x="606.6" y="568.4" width="49.2" height="41" fill="#6a6d70" opacity="0.3"/>
<path d="M607 609.2C611 604 617 598 623 594.5C627 592.3 630.5 590.2 634 590.2C636.5 590.5 637.5 592 638.8 595C640.2 598 642.5 600 646.5 602C650.5 604 654.5 606 655.8 609.2Z" fill="#ece99c"/>
<rect x="606.6" y="589" width="49.2" height="21" filter="url(#gn4)" clip-path="url(#semy)" opacity="0.9"/>
<path d="M607 609.2C611 604 617 598 623 594.5C627 592.3 630.5 590.2 634 590.2C636.5 590.5 637.5 592 638.8 595C640.2 598 642.5 600 646.5 602C650.5 604 654.5 606 655.8 609.2" fill="none" stroke="#dfb73e" stroke-width="0.8"/>
<rect x="606.6" y="609.3" width="49.2" height="6.4" fill="#fff"/>
<path d="M608 611.6h6M616 612.3h9M627 611.8h5M634 612.8h7M643 612.1h9M609 613.8h5M618 614.2h10M631 614h8M645 613.7h6" stroke="#444" stroke-width="0.6" stroke-dasharray="1 0.6"/>
<rect x="606.6" y="609.3" width="49.2" height="6.4" fill="none" stroke="#e8c458" stroke-width="0.5"/>
<text x="605.7" y="629.4" font-size="8.6" fill="#2a2a2a">Fractography</text>
<text x="605.7" y="638.7" font-size="8.6" fill="#2a2a2a">SEM titanium</text>
<text x="605.7" y="648" font-size="8.6" fill="#2a2a2a">crack source:</text>
<text x="605.7" y="657.2" font-size="8.6" fill="#2a2a2a">6,000 μm<tspan font-size="5.6" dy="-3.3">2</tspan></text>
<line x1="430" y1="627.3" x2="478.4" y2="627.3" stroke="#c9d1e2" stroke-width="0.9"/>
<line x1="430" y1="629.2" x2="478.4" y2="629.2" stroke="#c9d1e2" stroke-width="0.9"/>
<line x1="430" y1="631.2" x2="478.4" y2="631.2" stroke="#c9d1e2" stroke-width="0.9"/>
<line x1="430" y1="650.5" x2="478.4" y2="650.5" stroke="#c9d1e2" stroke-width="0.9"/>
<line x1="430" y1="652.6" x2="478.4" y2="652.6" stroke="#c9d1e2" stroke-width="0.9"/>
<line x1="430" y1="654.7" x2="478.4" y2="654.7" stroke="#c9d1e2" stroke-width="0.9"/>
<line x1="430" y1="657" x2="478.4" y2="657" stroke="#c9d1e2" stroke-width="0.9"/>
<text x="430.5" y="640.4" font-size="8.6" fill="#2a2a2a">Crack initiates</text>
<text x="430.5" y="649.4" font-size="8.6" fill="#2a2a2a">at the surface ...</text>
<rect x="496.1" y="630.9" width="9.5" height="22.6" fill="#fff" stroke="#777" stroke-width="0.7"/>
<text transform="translate(502.7 642.2) rotate(-90)" font-size="6.1" fill="#333" text-anchor="middle">LSTM</text>
<line x1="500.85" y1="653.6" x2="500.85" y2="657.9" stroke="#2f4870" stroke-width="0.7"/>
<path d="M500.85 659.6L499.55 657.4L502.15 657.4Z" fill="#2f4870"/>
<rect x="521" y="630.9" width="9.5" height="22.6" fill="#fff" stroke="#777" stroke-width="0.7"/>
<text transform="translate(527.6 642.2) rotate(-90)" font-size="6.1" fill="#333" text-anchor="middle">LSTM</text>
<line x1="525.75" y1="653.6" x2="525.75" y2="657.9" stroke="#2f4870" stroke-width="0.7"/>
<path d="M525.75 659.6L524.45 657.4L527.05 657.4Z" fill="#2f4870"/>
<rect x="562.6" y="630.9" width="9.5" height="22.6" fill="#fff" stroke="#777" stroke-width="0.7"/>
<text transform="translate(569.2 642.2) rotate(-90)" font-size="6.1" fill="#333" text-anchor="middle">LSTM</text>
<line x1="567.35" y1="653.6" x2="567.35" y2="657.9" stroke="#2f4870" stroke-width="0.7"/>
<path d="M567.35 659.6L566.05 657.4L568.65 657.4Z" fill="#2f4870"/>
<line x1="478.9" y1="642.2" x2="490.9" y2="642.2" stroke="#2f4870" stroke-width="0.8"/>
<path d="M493 642.2L490.4 643.6L490.4 640.8Z" fill="#2f4870"/>
<line x1="505.6" y1="642.2" x2="515.4" y2="642.2" stroke="#2f4870" stroke-width="0.8"/>
<path d="M517.5 642.2L514.9 643.6L514.9 640.8Z" fill="#2f4870"/>
<line x1="530.5" y1="642.2" x2="538.9" y2="642.2" stroke="#2f4870" stroke-width="0.8"/>
<path d="M541 642.2L538.4 643.6L538.4 640.8Z" fill="#2f4870"/>
<text x="549.7" y="644" font-size="7.5" fill="#333" text-anchor="middle">...</text>
<line x1="554.5" y1="642.2" x2="557.4" y2="642.2" stroke="#2f4870" stroke-width="0.8"/>
<path d="M559.5 642.2L556.9 643.6L556.9 640.8Z" fill="#2f4870"/>
<line x1="572.1" y1="641.5" x2="588.8" y2="627.4" stroke="#2f4870" stroke-width="0.8"/>
<text x="525.6" y="618.49" font-size="8.3" fill="#2a2a2a" text-anchor="middle">&lt;Start&gt;</text>
<line x1="525.75" y1="619.8" x2="525.75" y2="626.2" stroke="#2f4870" stroke-width="0.7"/>
<path d="M525.75 627.9L524.45 625.7L527.05 625.7Z" fill="#2f4870"/>
<text x="567.2" y="618.6" font-size="8.6" fill="#2a2a2a" text-anchor="middle">Defects</text>
<line x1="567.35" y1="619.8" x2="567.35" y2="626.2" stroke="#2f4870" stroke-width="0.7"/>
<path d="M567.35 627.9L566.05 625.7L568.65 625.7Z" fill="#2f4870"/>
<text x="492" y="669.39" font-size="8.3" fill="#2a2a2a">&lt;Start&gt;Crack</text>
<text x="570.6" y="669.39" font-size="8.3" fill="#2a2a2a" text-anchor="middle">&lt;End&gt;</text></svg></body></html>
